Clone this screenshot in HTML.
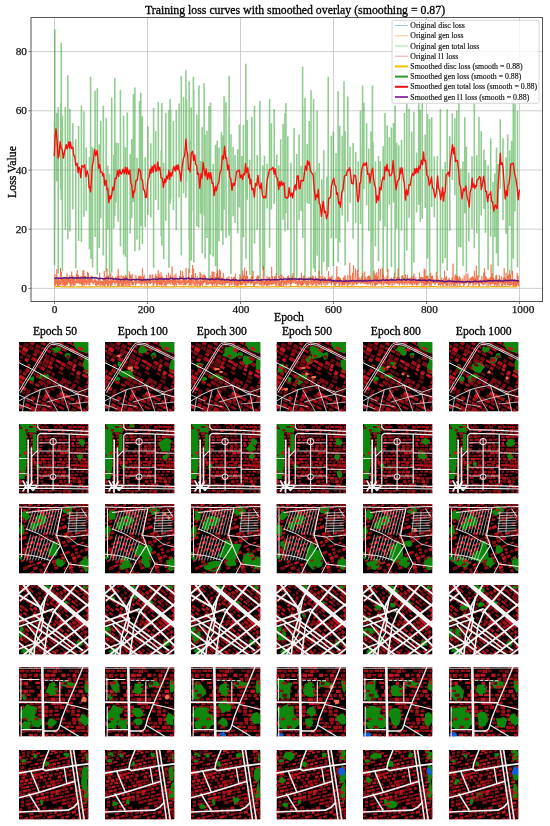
<!DOCTYPE html>
<html><head><meta charset="utf-8"><style>
html,body{margin:0;padding:0;background:#fff;}
body{width:550px;height:826px;position:relative;overflow:hidden;font-family:"Liberation Serif",serif;}
.h{position:absolute;top:324.5px;font-size:11.6px;line-height:14px;color:#000;-webkit-text-stroke:0.3px #000;white-space:nowrap;transform:translateX(-50%);}
</style></head><body>
<svg width="550" height="340" viewBox="0 0 550 340" style="position:absolute;left:0;top:0">
<path d="M54.5 17.5V301.5M147.5 17.5V301.5M240.5 17.5V301.5M333.5 17.5V301.5M426.5 17.5V301.5M519.5 17.5V301.5M31 288.4H542.5M31 229.2H542.5M31 170H542.5M31 110.8H542.5M31 51.6H542.5" stroke="#c2c2c2" stroke-width="0.8" fill="none"/>
<path d="M54.5 121.6V265.2M56.6 112.8V181.5M58.2 107V273.6M60.8 103.2V189.2M62.4 115.8V271.3M65.3 106.9V230M67.7 115.3V176M69.9 108.7V231.6M72.8 123.2V209.5M75.8 139.3V268.4M78.6 126.1V240.9M81.4 105.4V242M83.9 111.3V216.7M86.2 147.4V211.1M89.4 156.9V249.2M90.9 146.1V259.1M92.6 147.3V267.6M95.1 90.7V237.1M97.3 88.2V274.8M99.2 144.2V247.9M100.7 121.1V218.4M103.3 105.7V255.6M106.2 117.9V271.7M107.8 165.4V229.5M109.6 173.7V276.8M111.7 97.4V272.8M113.8 154.8V228.6M116.1 142.6V202.4M118.1 143.1V221.7M120.5 125.6V246.3M123.6 115.4V254.5M125.4 147.3V256.7M127.3 112.5V281M130.2 154.2V233.4M131.7 139.1V218.3M134.9 87.4V251.2M137 157.8V239.8M139.5 101V250.3M142.4 116.2V243.9M145.2 157.3V227M148 126.5V214.9M150.8 143.3V217.4M153.6 107.7V267.7M155.7 130.9V199.9M158.3 102.2V210M161.2 150.6V236.4M163.7 162.8V259M165.8 112.8V220.8M168.9 110.3V267.8M170.7 109.2V199.6M173.4 120.9V209.9M176.3 110V230.1M179.1 103.4V197.4M181.3 122.6V237.6M183.6 97V193.2M186.6 98.9V181.7M189.5 140.6V273.1M191.2 107.4V260.4M193.8 89.8V262.4M196.9 114.5V226.4M198.7 118.9V227.7M200.7 161.1V213.7M202.2 127.1V253.3M205.1 134.5V258.8M207 130.7V238.1M209 106V281M210.6 102.4V254.5M213.2 163.8V256.5M215.5 144.7V266.2M217.2 140.4V278.2M219 147.6V241.2M221.4 132V230.8M222.9 135.2V245.1M226 102.2V238M228.9 117.1V231.6M231 134.3V274.1M233.1 146.9V216.3M235 155.1V223M237.7 149.3V233.2M239.4 124.6V207.5M241.9 156V281M243.4 125.1V237.3M245.7 118.3V191.1M247.3 119.9V199.8M249.7 159.8V275.1M251.9 116.7V281M254.5 105.8V243.5M257.2 155.1V230.1M260.1 142.9V281M262.8 165.6V269.9M264.5 155.7V277.6M267.1 163.7V208.5M269.5 112V213.1M271.4 123.3V209.5M274.2 109V203.8M276.8 154.8V275.6M278.8 165.6V277.9M280.7 139.2V276.6M283.1 123.8V219.7M284.9 113.3V231.6M287.8 136.3V229.9M290.9 162.7V281M294.1 127.9V281M296.8 154.1V279.4M299.1 134.4V219.9M301.1 165.8V211M302.8 106.8V238.1M305 98.1V281M307.2 143.9V202.9M309.2 120.9V204.1M311 90.2V281M313.6 99.1V268.5M315.2 171.4V272.3M317.1 110.4V255.7M319.2 162.9V281M321.8 179.2V275.2M323.7 150.3V262M326.9 176.7V270.4M328.5 184.7V266.9M331.3 135.8V238.3M333.4 131.4V266.1M336 153.1V238.6M338.1 91.2V262.3M339.7 126V242.6M342.2 135.7V215.5M345.1 130.9V265.6M347.8 96.5V222M350.1 146.6V202.9M353.1 143.1V238.4M355.7 152.1V222.7M358.2 161.6V271.5M360.5 110.6V224M362.4 147V281M363.9 102.6V188.9M366.6 123.2V205.6M368.8 148.5V230.9M371.1 131.2V281M373 142.3V279M375.4 161.4V246.3M378.5 156.1V260.9M380.2 160.9V220.8M383.2 146.3V281M385 112.9V226.8M387.2 125.5V272.1M389.3 137.1V204.7M391.4 127.4V266.9M393.5 123.1V202.6M395.1 105.5V278.6M396.7 142.7V228.8M398.8 145.6V281M401.5 139.7V230.6M404.5 113.1V281M406.8 103.5V250.6M409.1 108.9V217.9M411.8 131.6V280M413.9 111.7V262.5M416.6 152.4V212.5M418.7 87.4V205M420.3 109.7V221.9M422.2 96V218.8M425.2 134.5V207.9M427.6 114.1V258.5M429.6 118.9V281M431.7 117V207M434.3 156.5V217.2M437.3 156.1V274.5M440.4 109V281M442.7 169.5V263.6M445.2 162V258.1M447.2 109.2V270.8M449.8 136.3V230.9M452.3 113.2V180.1M454.9 118.2V195.3M456.8 110.6V281M458.9 88.5V246.9M460.8 168.6V247.2M463 161.4V266.1M464.8 117.3V213.2M466.4 146.8V272M468.8 172.5V241.3M472 156.2V228.9M474.3 103.4V248.3M476.8 155V233.3M479 117.1V277.5M481.2 130.9V215.5M483.9 149.8V209M485.5 160V233M488.1 165.5V270.1M490.7 138.3V236.5M493 181.7V281M494.8 173.6V237.1M496.5 147.6V253.5M498.1 164.1V266.1M500.3 119.3V188.8M503 138.2V220M506.1 157.3V233.9M507.7 134.6V281M509.7 150.4V226.1M511.6 141V274.7M513.3 94.4V258.6M515 104.2V211.6M517.5 111V267.6M54.8 29.4V229.6M61.3 42.7V199.8M67.8 75.3V239.2M90.6 76.8V185.5M114.8 78.2V216.1M120.4 90.1V232.1M133.4 93.9V202.2M140.8 93V226.1M161.8 103.1V245.7M170.1 99V203.8M181.3 75.9V255.2M185.9 70.2V198.1M189.2 81.2V240M193.4 76.8V211.5M199 85.6V186M204.1 83.3V215.4M224.1 96.3V209.7M229.2 75.9V235.7M245.9 63.7V258.7M259.9 100.7V256.3M269.6 99V247.7M285.9 103.1V213.2M302.6 66.4V226.8M328.2 76.8V220.9M344 81.2V192.5M362.6 85.6V249M372.4 85.6V242" fill="none" stroke="#2ca02c" stroke-opacity="0.52" stroke-width="1.6"/>
<polyline points="54.3,156.3 55,138.8 56,128.8 57.1,141 58.1,158 59,156 60.1,141.7 61.1,147.8 62.2,149.5 63.4,158.1 64.6,151.1 65.3,148.9 66.2,144.7 66.9,148.8 67.7,147 68.8,141.8 69.6,148.2 70.3,141.9 71.5,148.6 72.8,147.1 73.8,155.3 74.6,156.2 75.9,165.4 77.1,163.3 78.1,172.6 78.9,167.1 79.8,168.4 80.7,177.6 82,165.3 83.4,167.2 84.7,164.7 85.9,176.7 87.1,170.6 88.2,174.8 89.1,187.7 89.8,187 90.5,191.9 91.5,180.7 92.2,166.6 93.4,160.4 94.5,149.4 95.8,155.5 97.1,150.5 97.9,158.2 98.6,168.3 99.7,164.6 100.6,172.1 101.9,172 102.9,176.1 103.8,173.6 104.7,185.5 106,180.1 107,189.9 107.9,188.8 108.8,202.6 110,195.6 110.9,198.7 111.6,195.3 112.8,187.1 113.8,190.3 115.1,178.4 116.3,178.7 117.5,170.6 118.7,176.3 119.6,169.7 120.9,173.5 121.7,174 123,169.1 124.3,173.5 125.4,167.3 126.5,174.1 127.3,167.6 128.6,174.2 129.8,170.1 130.8,183.1 131.7,184.8 132.9,197.8 133.8,190.9 134.6,192 136,180.3 137.4,180 138.8,168.8 139.8,170.5 140.6,171.5 141.3,179.3 142.5,180.1 143.5,189.8 144.5,190.4 145.5,197.5 146.5,197.3 147.8,180 149.1,177.2 150.1,169 150.9,173.3 152.1,166.4 153.1,172.3 154.1,165.1 154.9,164.8 155.9,171 156.6,171 157.8,161.9 158.6,170.1 159.8,167.4 161.1,178 162.4,178.1 163.4,187.3 164.8,179 165.7,182.5 166.7,175.9 167.6,178.9 168.9,170.3 169.7,179.2 170.6,172.7 171.8,176.2 172.9,169.8 173.9,166.4 175.1,171 176.2,165.5 177.2,169.9 178.1,164.6 179,170.5 179.9,172.3 180.9,181.2 182.1,167.1 183.4,158.5 184.7,155.3 186,139.1 186.7,150.3 187.6,154 188.4,169.3 189.2,168.6 190,171.9 191.3,152.9 192.5,151.3 193.7,160.3 194.7,154.9 195.6,164.1 196.7,165.8 197.5,174.4 198.5,173.2 199.8,188.3 201,173.8 202,178 203.1,162.3 204.3,171.2 205.2,175.9 206.2,169 207.4,179.5 208.7,172.6 209.8,178.6 210.8,172.7 212.1,183.3 213.1,183 214.1,195.6 215.4,186.4 216.3,190.8 217.5,185 218.9,182 219.8,173.3 221.1,170.2 222.4,155.7 223.5,159 224.6,146.4 225.8,158.4 226.6,157.8 227.8,169.9 228.8,165.1 229.8,177.4 230.8,178.9 232,190.4 233.1,183.1 234.4,185.5 235.4,181.2 236.5,171.7 237.5,170.8 238.7,171 239.4,170 240.2,178 241.5,175 242.7,179.3 243.5,173.7 244.7,174.8 245.5,163.6 246.5,172.6 247.9,167.8 248.6,177.9 249.3,174.5 250.1,183.9 250.9,179.3 251.9,189.6 253.2,188.5 254.3,197.2 255.5,183.5 256.6,185.5 258,175.4 259,185.4 260.2,188.7 261.2,182.9 262.4,195.3 263.7,198 264.6,196.4 265.8,197.9 267.1,180 268.2,175.5 269.5,169.3 270.4,169.8 271.7,168.8 273,167.3 274.2,174.1 275.1,168.7 276.1,176.8 277.4,178.4 278.7,189.5 279.7,181.8 280.6,186.2 281.5,181.1 282.6,185.1 284,182.8 285.1,197.4 286.2,197.2 286.9,198.3 288.2,197.1 289.1,187.5 290.5,196.3 291.9,193 292.7,197.9 293.4,193.1 294.5,186.5 295.2,184.9 296,190.1 297.1,176.2 298.3,175.8 299.1,188.4 299.9,188.8 300.9,180.6 302.2,180.5 303.4,180.9 304.1,175.8 305.4,165.9 306.6,170.1 307.5,160.7 308.5,164.9 309.3,162 310.5,170.9 311.9,173 313.2,175.3 314.2,188.3 315.5,199.8 316.4,194.8 317.6,197.1 318.3,189.5 319.1,203.3 320.1,204.5 321.4,216.4 322.4,207.9 323.2,201.3 324.5,212.7 325.6,211.2 326.4,218.8 327.8,214.1 328.7,198.4 329.9,198 330.6,196.3 331.4,186.4 332.5,181.8 333.8,178.1 334.6,184.3 335.8,186.3 336.6,194.4 337.5,192.8 338.7,203.7 339.5,201.6 340.5,207.2 341.8,192.3 343.1,188.7 344.4,176.5 345.3,175.3 346.3,175.3 347.4,170.1 348.4,170.7 349.6,167.8 350.5,172.7 351.7,183.4 353.1,183.9 354.2,174.9 355.6,176.1 356.3,181.6 357,193.2 357.9,201.9 359,197.1 359.8,182.9 360.5,183 361.5,171.5 362.5,166.7 363.8,163.3 365,165.4 366.4,162.3 367.7,174.4 369.1,173.8 369.9,183 371.3,172.2 372.6,168.2 373.6,179.2 374.5,184.5 375.5,187.4 376.5,202.7 377.3,195.8 378.6,200.4 379.9,187.5 381.1,189.7 382,180.7 383.1,177.2 384.1,179.7 385,166.7 386.2,170.8 387,164.3 387.8,170.7 388.8,169.8 389.6,175.9 390.9,175.3 392.1,172.7 393.1,160.5 394.1,172.6 395,178.5 396.1,189.7 397.4,181.5 398.4,180.3 399.3,178.7 400.1,168 400.8,173.7 402,167.8 403.4,178.7 404.3,183.3 405.5,200 406.5,189.6 407.8,195 409,184.8 410.3,185.2 411.4,177.3 412.5,173.4 413.8,175.4 414.8,168.5 415.7,173.3 416.7,168.3 418,172.7 418.8,166.1 419.9,169 421.3,160.3 422.5,164.7 423.5,152 424.3,160.8 425.6,160.3 427,175.2 428.2,176.8 429.3,185.3 430.5,182.6 431.5,177 432.6,188.1 433.6,189.4 435,197.7 436.3,192.1 437.7,175.9 438.4,187.6 439.7,191 440.7,199.7 441.8,193.5 442.6,187.3 443.5,201.1 444.3,193.2 445.2,191.8 446.1,175.2 447.3,173.9 448.3,172.2 449.4,176.6 450.4,160.8 451.6,151.4 452.5,144.6 453.6,153.9 454.3,147.5 455.5,161.6 456.4,160.3 457.5,160.9 458.5,169 459.6,183.9 460.7,187.4 462,198.9 463.4,188.8 464.5,190.8 465.9,185.9 467.1,197.1 468.4,201.1 469.3,207 470.1,192.5 471.2,188.8 472.1,177.9 472.9,187.4 473.8,184 474.7,188.7 475.6,185.7 476.4,186.4 477.2,179.3 478.4,179.2 479.6,176.6 480.5,177.6 481.3,189.7 482.5,184.5 483.6,176.2 484.8,183.7 485.6,191.5 486.4,191.2 487.6,201.7 488.6,194.9 489.9,194.4 490.6,191.6 491.7,201.6 492.6,202.1 493.8,211.1 495.2,204.9 496.5,207.2 497.2,208.8 498.1,186 499.3,169.6 500.3,153.2 501,164.5 502.2,162.8 503.1,168.3 504,181.6 505.2,199 506.3,190.5 507.3,195.9 508,185.4 508.9,184 510,175.3 510.8,164 512.1,163.8 513.3,163 514.6,173.8 515.9,178.9 517.1,186.8 518.3,199.7 519.5,189.5" fill="none" stroke="#ff0a0a" stroke-width="1.35" stroke-linejoin="round"/>
<polyline points="54.5,286.1 55,274.1 55.4,285.5 55.9,278.3 56.4,284 56.8,269.1 57.3,286.4 57.8,279.6 58.2,285.8 58.7,277.7 59.1,285.6 59.6,280.3 60.1,284.8 60.5,268.1 61,285.4 61.5,271.7 61.9,283.2 62.4,278.3 62.9,285.9 63.3,277.5 63.8,284.7 64.3,276.9 64.7,286.1 65.2,278.1 65.7,285.8 66.1,278.8 66.6,284.8 67.1,273.3 67.5,284.7 68,278.8 68.5,282.5 68.9,276.7 69.4,283.7 69.8,275.5 70.3,286.2 70.8,278.7 71.2,285.8 71.7,271.6 72.2,284 72.6,275.8 73.1,285.6 73.6,276.6 74,286.5 74.5,276.8 75,285.4 75.4,280.7 75.9,283.1 76.4,273.7 76.8,283.5 77.3,270 77.8,283.2 78.2,274.9 78.7,283.2 79.1,278.7 79.6,284.3 80.1,277.8 80.5,283.7 81,276 81.5,284.6 81.9,276.5 82.4,286.3 82.9,270.7 83.3,284.8 83.8,270 84.3,285.8 84.7,275.8 85.2,283.1 85.7,276.3 86.1,284.9 86.6,280 87.1,284.5 87.5,271.8 88,283.2 88.4,273 88.9,285.4 89.4,279 89.8,285.2 90.3,278 90.8,282.6 91.2,276 91.7,282.6 92.2,275.6 92.6,283.3 93.1,281.5 93.6,284.1 94,280 94.5,282.7 95,278.8 95.4,285.4 95.9,279.7 96.3,286.5 96.8,280.7 97.3,284.8 97.7,281.3 98.2,285.1 98.7,278.1 99.1,284.4 99.6,272.9 100.1,286.2 100.5,280.7 101,284.4 101.5,281.2 101.9,285.6 102.4,281.3 102.9,285.6 103.3,278.7 103.8,285.7 104.3,271.1 104.7,286.3 105.2,278.6 105.7,284.8 106.1,276.3 106.6,283.7 107,268.5 107.5,286.2 108,276 108.4,285.9 108.9,275.6 109.4,283.4 109.8,281 110.3,286.4 110.8,273.2 111.2,285.7 111.7,279.9 112.2,284.9 112.6,276.1 113.1,283 113.6,278.2 114,283 114.5,280.8 115,285.2 115.4,276.9 115.9,283.2 116.3,280.4 116.8,283.6 117.3,275.7 117.7,286.4 118.2,268.8 118.7,286.2 119.1,275.9 119.6,285.6 120.1,280.6 120.5,283.2 121,275.2 121.5,286.5 121.9,281.2 122.4,285.9 122.9,276.3 123.3,286 123.8,276.2 124.2,283.8 124.7,276.6 125.2,286.6 125.6,274.8 126.1,284.5 126.6,276.2 127,286.5 127.5,280.7 128,283.8 128.4,279.3 128.9,286 129.4,271.3 129.8,286.3 130.3,274.5 130.8,282.9 131.2,275.6 131.7,284.7 132.2,273.7 132.6,285.2 133.1,281.8 133.6,285.2 134,281.8 134.5,282.5 134.9,279.6 135.4,285.5 135.9,274.9 136.3,284.3 136.8,278.4 137.3,282.5 137.7,281.7 138.2,283.4 138.7,276.2 139.1,284 139.6,275.9 140.1,283 140.5,275.8 141,285.4 141.5,276.9 141.9,284.5 142.4,268.4 142.9,284.3 143.3,276.8 143.8,282.5 144.2,274.7 144.7,285.6 145.2,279.9 145.6,283 146.1,278.9 146.6,284.3 147,279.4 147.5,286.3 148,278.9 148.4,282.7 148.9,279.7 149.4,284.2 149.8,274.7 150.3,284.2 150.8,274.6 151.2,283 151.7,281.4 152.2,282.9 152.6,274.5 153.1,286.5 153.5,279.8 154,285 154.5,280.6 154.9,283 155.4,274.1 155.9,283.6 156.3,275.6 156.8,286.3 157.3,276.6 157.7,285.2 158.2,270.4 158.7,284 159.1,273.4 159.6,285.3 160.1,277 160.5,284.9 161,272.3 161.4,286.4 161.9,275.9 162.4,284.6 162.8,277.1 163.3,282.8 163.8,278.2 164.2,286.4 164.7,277.9 165.2,285.3 165.6,281.1 166.1,286 166.6,274.7 167,284.4 167.5,278.1 168,283.9 168.4,272.8 168.9,283.6 169.4,280.2 169.8,283.5 170.3,274.8 170.8,284.7 171.2,280.1 171.7,282.7 172.1,266.5 172.6,284.7 173.1,277.6 173.5,285.1 174,275.3 174.5,286.5 174.9,278.7 175.4,284.5 175.9,273.5 176.3,286 176.8,280.7 177.3,282.8 177.7,279 178.2,283.4 178.7,280.3 179.1,284.6 179.6,275.9 180.1,285.3 180.5,270.4 181,283.6 181.4,281.5 181.9,285 182.4,271.2 182.8,282.8 183.3,275.7 183.8,285.7 184.2,278.1 184.7,284.8 185.2,279.9 185.6,285.4 186.1,267.8 186.6,284.3 187,280.9 187.5,283 188,280.1 188.4,283.2 188.9,268.9 189.3,286 189.8,277.4 190.3,284.7 190.7,278.1 191.2,285.8 191.7,275.1 192.1,283.4 192.6,264.9 193.1,285.4 193.5,268.7 194,282.6 194.5,281.8 194.9,286 195.4,273.1 195.9,286.3 196.3,279.7 196.8,283.7 197.3,276.1 197.7,286.5 198.2,280.4 198.7,283.8 199.1,281.6 199.6,285.7 200,272 200.5,286.5 201,273.5 201.4,284.6 201.9,281 202.4,285.9 202.8,275.6 203.3,283.6 203.8,274.8 204.2,282.8 204.7,274.6 205.2,282.6 205.6,276.1 206.1,285.5 206.6,279.3 207,284.5 207.5,279.2 208,285.1 208.4,281.8 208.9,283.9 209.3,278.3 209.8,283.8 210.3,275.5 210.7,283.6 211.2,278.6 211.7,284.9 212.1,271.4 212.6,286 213.1,271.8 213.5,284.1 214,271.9 214.5,285.6 214.9,277.3 215.4,283.1 215.9,276.8 216.3,286.4 216.8,273.3 217.2,285.3 217.7,270.2 218.2,283.5 218.6,276.3 219.1,284.2 219.6,269.4 220,285.1 220.5,270.9 221,284.4 221.4,277.9 221.9,285.3 222.4,277.8 222.8,285.7 223.3,272.8 223.8,283.6 224.2,278.5 224.7,285.7 225.2,281 225.6,284.4 226.1,278.5 226.6,283.3 227,277.1 227.5,283.2 227.9,278.9 228.4,283.2 228.9,276.1 229.3,286.4 229.8,279.4 230.3,283.2 230.7,281.1 231.2,285.1 231.7,276.7 232.1,284.7 232.6,278.8 233.1,282.5 233.5,277.4 234,284.6 234.5,276.7 234.9,286 235.4,273.6 235.9,285.1 236.3,279.2 236.8,286.6 237.2,280.6 237.7,286.4 238.2,280.7 238.6,285.5 239.1,278.6 239.6,284 240,274.3 240.5,284.9 241,276.7 241.4,285.1 241.9,281.6 242.4,285.1 242.8,270.8 243.3,283.3 243.8,275.4 244.2,284.2 244.7,267.6 245.2,285.1 245.6,276.1 246.1,286.3 246.5,270.8 247,282.9 247.5,276 247.9,284.2 248.4,278.9 248.9,283.1 249.3,279.2 249.8,282.9 250.3,279 250.7,284.5 251.2,276.5 251.7,283.6 252.1,276.4 252.6,283.4 253.1,270.8 253.5,285.7 254,281.4 254.5,286.2 254.9,281.3 255.4,284.3 255.8,281.5 256.3,283.7 256.8,276.7 257.2,284.2 257.7,275.4 258.2,283 258.6,275.8 259.1,284.5 259.6,281.8 260,285.5 260.5,279.8 261,284.3 261.4,278.6 261.9,286.4 262.4,279.9 262.8,283.3 263.3,265.8 263.8,285.8 264.2,281.5 264.7,285.1 265.1,278.9 265.6,284.2 266.1,279.5 266.5,285.8 267,275.9 267.5,286.4 267.9,279.8 268.4,284.9 268.9,276.8 269.3,285.4 269.8,277.3 270.3,284.2 270.7,278.9 271.2,284.8 271.7,266.8 272.1,284.8 272.6,276.4 273.1,284.2 273.5,280.7 274,284.3 274.4,276.7 274.9,283.8 275.4,275.9 275.8,285.7 276.3,273.3 276.8,286.2 277.2,281.3 277.7,282.7 278.2,279.2 278.6,285.6 279.1,276 279.6,286 280,281.5 280.5,286.5 281,274.7 281.4,285.7 281.9,275.2 282.4,282.8 282.8,279.8 283.3,286 283.7,276.7 284.2,285 284.7,280.5 285.1,284 285.6,280.4 286.1,286.2 286.5,278.9 287,284.8 287.5,276.2 287.9,282.8 288.4,275.4 288.9,284.4 289.3,277.6 289.8,283.5 290.3,278.7 290.7,286.2 291.2,278.7 291.6,284.1 292.1,275.7 292.6,282.9 293,273.1 293.5,282.8 294,281.7 294.4,282.6 294.9,279.6 295.4,283.9 295.8,277.7 296.3,283.5 296.8,280.7 297.2,285.4 297.7,281.4 298.2,286.2 298.6,278.3 299.1,284.2 299.6,277.6 300,284.5 300.5,281.3 301,286.1 301.4,272.6 301.9,285.9 302.3,280.8 302.8,285.2 303.3,276.4 303.7,284.6 304.2,275.3 304.7,283 305.1,281.1 305.6,284.4 306.1,281.1 306.5,285.9 307,278.4 307.5,285.1 307.9,280.6 308.4,285.8 308.9,276.7 309.3,282.9 309.8,281.8 310.2,284.6 310.7,276.7 311.2,283.8 311.6,280.4 312.1,286 312.6,275.6 313,285 313.5,276.8 314,284.2 314.4,280.4 314.9,283.4 315.4,275.8 315.8,285.6 316.3,278 316.8,286.5 317.2,277.9 317.7,283.2 318.2,279.7 318.6,284.7 319.1,270.8 319.6,284.9 320,279.3 320.5,283.6 320.9,275.8 321.4,285.8 321.9,278 322.3,282.6 322.8,275.4 323.3,284.6 323.7,278.6 324.2,282.9 324.7,277 325.1,285.8 325.6,277.8 326.1,283.4 326.5,281.3 327,285.2 327.5,280.8 327.9,283.8 328.4,271.1 328.9,282.9 329.3,277 329.8,283.3 330.2,278 330.7,283.2 331.2,276.8 331.6,285.4 332.1,275.6 332.6,282.7 333,281.1 333.5,283.4 334,280.2 334.4,285.7 334.9,280.6 335.4,285.6 335.8,278.7 336.3,283.8 336.8,266.2 337.2,283.4 337.7,276.7 338.2,282.7 338.6,276.5 339.1,286.3 339.5,277.6 340,285.2 340.5,278 340.9,283.3 341.4,281.9 341.9,286.6 342.3,281.2 342.8,284.9 343.3,277.9 343.7,285.2 344.2,276.4 344.7,285.4 345.1,275.2 345.6,283.7 346.1,279 346.5,283.3 347,281.1 347.4,286.5 347.9,274.7 348.4,285.1 348.8,280.4 349.3,284.1 349.8,262.8 350.2,284.6 350.7,275.7 351.2,282.5 351.6,280.7 352.1,286 352.6,272.7 353,284.7 353.5,265.2 354,285.2 354.4,281.2 354.9,283.1 355.4,268.4 355.8,283.9 356.3,281.4 356.8,284.8 357.2,270.8 357.7,283.9 358.1,269.8 358.6,282.9 359.1,277.5 359.5,282.6 360,281.5 360.5,283.8 360.9,278.3 361.4,283.5 361.9,276.1 362.3,283.5 362.8,273.1 363.3,282.9 363.7,280.9 364.2,284.2 364.7,271.6 365.1,283.5 365.6,277.4 366.1,284.4 366.5,279.1 367,283.9 367.4,276.6 367.9,285 368.4,275.6 368.8,283.8 369.3,275.7 369.8,284.2 370.2,276.5 370.7,285.2 371.2,281 371.6,283 372.1,280.8 372.6,285.9 373,278.3 373.5,282.6 374,270.6 374.4,285.3 374.9,273.3 375.4,286.2 375.8,275 376.3,285 376.7,272.3 377.2,284.8 377.7,276.4 378.1,283.4 378.6,268.7 379.1,283.5 379.5,278.8 380,283.8 380.5,269.2 380.9,284.4 381.4,280 381.9,285.5 382.3,267.8 382.8,283.2 383.3,274.3 383.7,285.6 384.2,281.4 384.7,283.5 385.1,277.5 385.6,283.3 386,279.6 386.5,284 387,275.6 387.4,283.8 387.9,268.7 388.4,285.2 388.8,279.3 389.3,285.2 389.8,280.7 390.2,284.4 390.7,278.5 391.2,282.9 391.6,277.8 392.1,286.4 392.6,279.2 393,283.1 393.5,277.5 394,285 394.4,272.9 394.9,283.1 395.3,280.9 395.8,283.5 396.3,278.6 396.7,282.9 397.2,277 397.7,283.9 398.1,268.4 398.6,283.7 399.1,277.3 399.5,285.5 400,281.4 400.5,283.2 400.9,279.7 401.4,283.8 401.9,275.5 402.3,285.1 402.8,275 403.2,283.1 403.7,277.8 404.2,285.5 404.6,281.5 405.1,284.3 405.6,274.5 406,283.2 406.5,277.8 407,285.3 407.4,274.7 407.9,283.3 408.4,280.5 408.8,283.3 409.3,278.2 409.8,284.5 410.2,277.9 410.7,284 411.2,277.2 411.6,285 412.1,278.6 412.6,285.7 413,276.2 413.5,283.3 413.9,273.6 414.4,284.6 414.9,281 415.3,283.8 415.8,277.3 416.3,285.2 416.7,280.7 417.2,285.5 417.7,280.6 418.1,284.5 418.6,278.9 419.1,283.7 419.5,272.9 420,282.6 420.5,277 420.9,282.8 421.4,277.2 421.9,286.4 422.3,277.5 422.8,283 423.2,277.2 423.7,285.5 424.2,268.5 424.6,285.4 425.1,269.5 425.6,285.2 426,276 426.5,284.7 427,276 427.4,284.7 427.9,275.4 428.4,283.3 428.8,278.8 429.3,286.1 429.8,281.2 430.2,284.5 430.7,272.9 431.2,286.5 431.6,276 432.1,282.7 432.5,275.5 433,283.6 433.5,279.4 433.9,283.1 434.4,279.4 434.9,285.1 435.3,281.8 435.8,283.4 436.3,272 436.7,282.9 437.2,275.1 437.7,283 438.1,278.7 438.6,285.8 439.1,280.3 439.5,285 440,281.2 440.5,286.1 440.9,280.6 441.4,284.2 441.8,277.7 442.3,284.8 442.8,281.4 443.2,286.4 443.7,278.8 444.2,283.8 444.6,270.6 445.1,283.9 445.6,277.4 446,286 446.5,276 447,286.4 447.4,280.3 447.9,285.7 448.4,279.3 448.8,283.2 449.3,277.8 449.8,286.5 450.2,281.3 450.7,283.3 451.1,280.9 451.6,285.7 452.1,277.5 452.5,284 453,263.6 453.5,286 453.9,281.8 454.4,286.2 454.9,275.6 455.3,285.8 455.8,274.1 456.3,283.4 456.7,276.1 457.2,286.6 457.7,276.3 458.1,283.2 458.6,278.6 459.1,284.2 459.5,276.5 460,286.4 460.4,277.8 460.9,283.5 461.4,281.7 461.8,283.3 462.3,278.5 462.8,283.9 463.2,280.5 463.7,286.2 464.2,275.5 464.6,285.2 465.1,281.3 465.6,283.1 466,273.3 466.5,283.5 467,280.9 467.4,282.6 467.9,273.5 468.4,286.3 468.8,281.1 469.3,284.1 469.7,278.5 470.2,284.9 470.7,277.9 471.1,282.8 471.6,277.1 472.1,282.8 472.5,276.4 473,286.5 473.5,277.5 473.9,284.8 474.4,270.8 474.9,283.7 475.3,278.2 475.8,285.2 476.3,265.7 476.7,283.9 477.2,275.8 477.7,283.2 478.1,275.4 478.6,285.5 479,280.3 479.5,286.5 480,280.4 480.4,282.8 480.9,279.7 481.4,283.4 481.8,276.1 482.3,284.4 482.8,281.2 483.2,285.3 483.7,272.5 484.2,284.4 484.6,268 485.1,284.4 485.6,275.8 486,282.8 486.5,277.4 487,286.3 487.4,279 487.9,282.9 488.3,278.4 488.8,285.9 489.3,279 489.7,283.8 490.2,277 490.7,285.6 491.1,264.5 491.6,283.8 492.1,273.1 492.5,284.2 493,277.6 493.5,283.7 493.9,278.2 494.4,286.3 494.9,280.2 495.3,284.6 495.8,275.6 496.2,285.5 496.7,274.8 497.2,286.2 497.6,279.9 498.1,283.8 498.6,279 499,286.2 499.5,275.2 500,283.2 500.4,280.4 500.9,283.3 501.4,276.4 501.8,286.6 502.3,280.7 502.8,286 503.2,277.6 503.7,283.9 504.2,268.3 504.6,285 505.1,277.6 505.6,285.7 506,272.8 506.5,283.1 506.9,281 507.4,285.1 507.9,276.2 508.3,285.1 508.8,274.5 509.3,285.6 509.7,270.1 510.2,285.7 510.7,274.5 511.1,285 511.6,279.5 512.1,284.7 512.5,271 513,285.7 513.5,281.7 513.9,286.1 514.4,278.9 514.9,286.2 515.3,281.1 515.8,285.9 516.2,280.4 516.7,286.1 517.2,272.8 517.6,284.7 518.1,275.8 518.6,286.3 519,280.4" fill="none" stroke="#f04818" stroke-opacity="0.6" stroke-width="0.9"/>
<polyline points="54.5,286.7 56.4,286.6 58.2,286.6 60.1,286.6 61.9,287 63.8,286.6 65.7,286.8 67.5,286.9 69.4,286.9 71.2,286.6 73.1,286.9 75,287 76.8,286.9 78.7,286.6 80.5,286.8 82.4,286.7 84.3,287 86.1,286.8 88,286.9 89.8,286.9 91.7,286.7 93.6,286.8 95.4,287 97.3,286.5 99.1,286.8 101,286.9 102.9,287 104.7,286.7 106.6,286.8 108.4,287 110.3,286.8 112.2,286.7 114,286.8 115.9,286.9 117.7,286.8 119.6,286.7 121.5,286.7 123.3,286.9 125.2,286.6 127,286.6 128.9,286.7 130.8,286.6 132.6,286.8 134.5,286.6 136.3,286.9 138.2,286.9 140.1,286.7 141.9,286.6 143.8,287 145.6,286.9 147.5,287 149.4,286.8 151.2,286.9 153.1,286.9 154.9,286.7 156.8,286.7 158.7,286.6 160.5,286.8 162.4,286.7 164.2,287 166.1,286.6 168,286.9 169.8,286.8 171.7,286.8 173.5,286.6 175.4,286.8 177.3,286.5 179.1,286.7 181,286.9 182.8,286.6 184.7,286.9 186.6,286.5 188.4,286.8 190.3,286.9 192.1,286.6 194,286.9 195.9,286.8 197.7,286.8 199.6,286.7 201.4,287 203.3,286.8 205.2,286.9 207,286.6 208.9,287 210.7,286.7 212.6,286.9 214.5,286.8 216.3,286.7 218.2,286.7 220,286.9 221.9,286.9 223.8,287 225.6,286.6 227.5,286.9 229.3,286.9 231.2,286.8 233.1,286.7 234.9,286.6 236.8,287 238.6,286.9 240.5,286.9 242.4,286.7 244.2,286.8 246.1,286.8 247.9,286.6 249.8,286.7 251.7,286.6 253.5,286.6 255.4,286.9 257.2,286.6 259.1,286.8 261,287 262.8,286.6 264.7,287 266.5,287 268.4,286.9 270.3,286.9 272.1,286.6 274,286.6 275.8,286.8 277.7,286.8 279.6,286.6 281.4,286.6 283.3,286.7 285.1,286.8 287,287 288.9,286.9 290.7,286.7 292.6,286.7 294.4,286.6 296.3,286.6 298.2,286.6 300,286.9 301.9,287 303.7,286.6 305.6,286.7 307.5,286.9 309.3,286.7 311.2,286.9 313,286.9 314.9,286.8 316.8,286.8 318.6,286.7 320.5,287 322.3,286.7 324.2,286.7 326.1,286.8 327.9,286.7 329.8,286.6 331.6,287 333.5,286.8 335.4,286.7 337.2,286.7 339.1,286.7 340.9,286.9 342.8,286.6 344.7,286.6 346.5,286.9 348.4,286.8 350.2,286.6 352.1,286.9 354,286.8 355.8,286.6 357.7,286.6 359.5,286.9 361.4,286.7 363.3,286.8 365.1,286.7 367,286.6 368.8,286.9 370.7,286.9 372.6,286.9 374.4,286.9 376.3,287 378.1,286.9 380,286.8 381.9,286.8 383.7,287 385.6,286.7 387.4,286.6 389.3,286.7 391.2,286.8 393,286.7 394.9,286.8 396.7,286.9 398.6,286.8 400.5,287 402.3,286.7 404.2,286.9 406,286.8 407.9,286.6 409.8,286.6 411.6,286.6 413.5,286.7 415.3,286.7 417.2,286.7 419.1,286.6 420.9,286.9 422.8,286.6 424.6,286.9 426.5,286.9 428.4,286.6 430.2,286.7 432.1,286.6 433.9,286.6 435.8,286.7 437.7,286.9 439.5,287 441.4,286.8 443.2,286.7 445.1,286.9 447,287 448.8,287 450.7,286.9 452.5,286.7 454.4,287 456.3,286.9 458.1,286.9 460,286.7 461.8,286.5 463.7,287 465.6,287 467.4,286.6 469.3,286.5 471.1,286.9 473,286.8 474.9,286.8 476.7,286.9 478.6,286.8 480.4,286.8 482.3,286.9 484.2,287 486,287 487.9,286.9 489.7,287 491.6,286.7 493.5,286.7 495.3,286.9 497.2,286.6 499,286.7 500.9,286.8 502.8,286.8 504.6,286.9 506.5,286.6 508.3,286.7 510.2,287 512.1,286.9 513.9,286.7 515.8,286.8 517.6,286.7" fill="none" stroke="#f5a800" stroke-width="1.2"/>
<polyline points="54.5,278.6 55.9,278 57.3,278 58.7,278.5 60.1,278.1 61.5,278.4 62.9,277.9 64.3,277.7 65.7,277.7 67.1,278.2 68.5,278.2 69.8,277.7 71.2,277.8 72.6,278.1 74,278.1 75.4,277.7 76.8,278.1 78.2,277.6 79.6,278 81,278 82.4,277.8 83.8,277.8 85.2,277.6 86.6,278.2 88,277.7 89.4,278.1 90.8,278.1 92.2,277.8 93.6,277.8 95,278 96.3,277.8 97.7,278.4 99.1,278.4 100.5,278.2 101.9,278.6 103.3,278.7 104.7,278.7 106.1,278.3 107.5,278.3 108.9,278.5 110.3,278.4 111.7,278.6 113.1,279.1 114.5,279.1 115.9,278.8 117.3,279.5 118.7,279.1 120.1,279.6 121.5,279.7 122.9,279.3 124.2,279.7 125.6,279 127,279.1 128.4,279.5 129.8,279.8 131.2,279.9 132.6,279.6 134,279.6 135.4,279.7 136.8,279.4 138.2,279.6 139.6,279.4 141,279.9 142.4,280 143.8,279.7 145.2,279.6 146.6,279.7 148,279.3 149.4,279.7 150.8,279.6 152.2,279.4 153.5,279.1 154.9,279.1 156.3,279.4 157.7,279.2 159.1,278.8 160.5,278.7 161.9,278.9 163.3,279.3 164.7,279 166.1,278.8 167.5,279 168.9,279.2 170.3,278.3 171.7,278.3 173.1,279 174.5,278.7 175.9,278.5 177.3,278.7 178.7,278.9 180.1,278.3 181.4,278.2 182.8,278.5 184.2,278.8 185.6,278.5 187,278.8 188.4,278 189.8,278.9 191.2,278.7 192.6,278.2 194,278.8 195.4,278.9 196.8,278.9 198.2,278.9 199.6,278.6 201,278.4 202.4,279 203.8,279.1 205.2,278.6 206.6,279 208,279.1 209.3,279.4 210.7,279.3 212.1,278.7 213.5,279.6 214.9,279.5 216.3,279.1 217.7,279.1 219.1,279.1 220.5,279.6 221.9,279.2 223.3,279.6 224.7,279.9 226.1,279.8 227.5,279.7 228.9,279.7 230.3,280.3 231.7,280.3 233.1,279.7 234.5,280.5 235.9,279.9 237.2,280.3 238.6,280.4 240,280.5 241.4,280.3 242.8,279.8 244.2,280.6 245.6,280 247,280.4 248.4,280.6 249.8,280.1 251.2,280.4 252.6,280.5 254,280.3 255.4,279.9 256.8,279.8 258.2,280.1 259.6,280.5 261,279.8 262.4,279.9 263.8,279.6 265.1,279.5 266.5,280 267.9,279.5 269.3,279.5 270.7,279.9 272.1,279.8 273.5,279.7 274.9,279.7 276.3,279.6 277.7,279.8 279.1,279.7 280.5,279 281.9,279.4 283.3,279.2 284.7,278.9 286.1,279 287.5,279.4 288.9,278.8 290.3,278.9 291.6,278.7 293,278.9 294.4,278.9 295.8,278.9 297.2,279.4 298.6,279 300,279.3 301.4,278.9 302.8,279.5 304.2,279.2 305.6,279.4 307,279 308.4,279.5 309.8,279.1 311.2,279.1 312.6,279.2 314,279.9 315.4,279.2 316.8,279.5 318.2,279.6 319.6,279.7 320.9,280.3 322.3,279.6 323.7,280 325.1,280.1 326.5,280.3 327.9,280 329.3,280 330.7,280 332.1,280.7 333.5,280.6 334.9,280.8 336.3,280.9 337.7,280.8 339.1,281.1 340.5,280.5 341.9,281 343.3,281.2 344.7,281.2 346.1,280.7 347.4,281.2 348.8,281 350.2,281 351.6,280.7 353,280.6 354.4,281.1 355.8,280.9 357.2,280.6 358.6,281 360,280.6 361.4,280.7 362.8,281.1 364.2,280.5 365.6,280.8 367,281.1 368.4,280.7 369.8,280.4 371.2,280.7 372.6,280.6 374,280.6 375.4,280.2 376.7,280.3 378.1,280.7 379.5,280.5 380.9,280.4 382.3,279.9 383.7,280 385.1,280.5 386.5,279.8 387.9,280.5 389.3,280 390.7,280.1 392.1,279.8 393.5,280 394.9,280.3 396.3,279.9 397.7,279.6 399.1,279.6 400.5,280 401.9,280.1 403.2,279.6 404.6,279.6 406,280.1 407.4,279.5 408.8,279.4 410.2,279.9 411.6,280 413,279.8 414.4,279.6 415.8,280.3 417.2,280.2 418.6,280.3 420,280 421.4,280.5 422.8,280.2 424.2,280.3 425.6,280.2 427,280.8 428.4,280.1 429.8,280.1 431.2,280.6 432.5,280.5 433.9,281.1 435.3,280.5 436.7,280.9 438.1,280.8 439.5,280.7 440.9,281.3 442.3,280.8 443.7,281.5 445.1,281.7 446.5,281.4 447.9,281.1 449.3,281.1 450.7,281.1 452.1,281.5 453.5,281.2 454.9,281.5 456.3,281.9 457.7,281.5 459.1,281.4 460.4,281.7 461.8,281.6 463.2,281.9 464.6,281.9 466,281.7 467.4,281.6 468.8,281.6 470.2,282 471.6,282 473,281.7 474.4,281.3 475.8,281.2 477.2,281.7 478.6,281.6 480,281.3 481.4,281.6 482.8,281.1 484.2,280.8 485.6,281.4 487,281 488.3,280.8 489.7,280.8 491.1,280.7 492.5,280.7 493.9,281 495.3,280.5 496.7,280.4 498.1,281.1 499.5,280.3 500.9,280.7 502.3,281 503.7,281 505.1,280.3 506.5,280.4 507.9,280.8 509.3,280.6 510.7,280.4 512.1,280.1 513.5,280.7 514.9,280.3 516.2,280.8 517.6,280.8 519,280.9" fill="none" stroke="#5a1480" stroke-width="1.5"/>
<rect x="31" y="17.5" width="511.5" height="284" fill="none" stroke="#555" stroke-width="1"/>
<path d="M54.5 301.5v2.5M147.5 301.5v2.5M240.5 301.5v2.5M333.5 301.5v2.5M426.5 301.5v2.5M519.5 301.5v2.5M28.5 288.4H31M28.5 229.2H31M28.5 170H31M28.5 110.8H31M28.5 51.6H31" stroke="#555" stroke-width="0.8"/>
<g font-family="Liberation Serif, serif" font-size="11.3" fill="#111" stroke="#111" stroke-width="0.25"><text x="54.5" y="312.9" text-anchor="middle">0</text><text x="146.2" y="312.9" text-anchor="middle">200</text><text x="241" y="312.9" text-anchor="middle">400</text><text x="333.4" y="312.9" text-anchor="middle">600</text><text x="429.4" y="312.9" text-anchor="middle">800</text><text x="523" y="312.9" text-anchor="middle">1000</text><text x="27" y="292" text-anchor="end">0</text><text x="27" y="232.8" text-anchor="end">20</text><text x="27" y="173.6" text-anchor="end">40</text><text x="27" y="114.4" text-anchor="end">60</text><text x="27" y="55.2" text-anchor="end">80</text></g>
<text x="289" y="321" text-anchor="middle" font-family="Liberation Serif, serif" font-size="11.7" fill="#000" stroke="#000" stroke-width="0.3">Epoch</text>
<text transform="translate(16,172) rotate(-90)" text-anchor="middle" font-family="Liberation Serif, serif" font-size="11.8" fill="#000" stroke="#000" stroke-width="0.3">Loss Value</text>
<text x="295" y="13.5" text-anchor="middle" font-family="Liberation Serif, serif" font-size="11.8" fill="#000" stroke="#000" stroke-width="0.3">Training loss curves with smoothed overlay (smoothing = 0.87)</text>
<g font-family="Liberation Serif, serif" font-size="7.8" fill="#111" stroke="#111" stroke-width="0.15"><rect x="392" y="20.3" width="147" height="83" rx="1.5" fill="#fff" fill-opacity="0.82" stroke="#ccc" stroke-width="0.8"/><path d="M395 25.6H408" stroke="#9ec3e0" stroke-width="1"/><text x="410.3" y="28.2">Original disc loss</text><path d="M395 35.8H408" stroke="#fdc38d" stroke-width="1"/><text x="410.3" y="38.4">Original gen loss</text><path d="M395 46H408" stroke="#a3d9a3" stroke-width="1"/><text x="410.3" y="48.6">Original gen total loss</text><path d="M395 56.2H408" stroke="#f3a0a0" stroke-width="1"/><text x="410.3" y="58.8">Original l1 loss</text><path d="M395 66.4H408" stroke="#f2c200" stroke-width="2.0"/><text x="410.3" y="69">Smoothed disc loss (smooth = 0.88)</text><path d="M395 76.6H408" stroke="#2e9a2e" stroke-width="2.0"/><text x="410.3" y="79.2">Smoothed gen loss (smooth = 0.88)</text><path d="M395 86.8H408" stroke="#f01010" stroke-width="2.0"/><text x="410.3" y="89.4">Smoothed gen total loss (smooth = 0.88)</text><path d="M395 97H408" stroke="#9a3cb0" stroke-width="2.0"/><text x="410.3" y="99.6">Smoothed gen l1 loss (smooth = 0.88)</text></g>
</svg>
<div class="h" style="left:55px">Epoch 50</div><div class="h" style="left:142.8px">Epoch 100</div><div class="h" style="left:221.8px">Epoch 300</div><div class="h" style="left:307px">Epoch 500</div><div class="h" style="left:395.8px">Epoch 800</div><div class="h" style="left:483.7px">Epoch 1000</div>
<svg width="550" height="490" viewBox="0 336 550 490" style="position:absolute;left:0;top:336px">
<defs><filter id="bl" x="0" y="0" width="1" height="1"><feGaussianBlur stdDeviation="0.5"/></filter><clipPath id="tc"><rect width="69.5" height="69.5"/></clipPath>
<g id="b0"><g transform="translate(34.8 34.8) rotate(28)"><path fill="#a80e18" d="M17.2 -47.7h4.6v3.4h-4.6zM10.9 -43.3h5.4v3.6h-5.4zM-4.3 -38.9h4.9v2.5h-4.9zM1.7 -38.9h3.5v2.6h-3.5zM-11.1 -34.5h4.1v2.7h-4.1zM.9 -34.5h5.8v3.9h-5.8zM-23.6 -30.1h3.9v2.4h-3.9zM-5.6 -30.1h4.4v2.6h-4.4zM24.4 -30.1h3.6v4.2h-3.6zM-26.6 -25.7h4.2v2.8h-4.2zM-8.6 -25.7h5.6v2.6h-5.6zM-36.5 -21.3h3.8v3.6h-3.8zM-24.5 -21.3h5.7v2.6h-5.7zM-18.5 -21.3h4.5v2.3h-4.5zM5.5 -21.3h5.1v3.4h-5.1zM.3 -16.9h4.9v3.2h-4.9zM-46.8 -12.5h4.8v2.8h-4.8zM-28.8 -12.5h3.7v3.1h-3.7zM-10.8 -12.5h3.4v3.9h-3.4zM1.2 -12.5h3.7v3.1h-3.7zM31.2 -12.5h3.8v3.2h-3.8zM-46.1 -8.1h5.2v2.6h-5.2zM-28.1 -8.1h5.7v3.6h-5.7zM-15.7 -3.7h3.9v3.3h-3.9zM-10.6 .7h5.3v2.2h-5.3zM1.4 .7h3.6v3.7h-3.6zM37.4 .7h4.1v4h-4.1zM-28.1 5.1h3.9v3.7h-3.9zM-16.1 5.1h4.3v3.6h-4.3zM1.9 5.1h3.8v2.3h-3.8zM-29.1 9.5h3.7v3.2h-3.7zM24.9 9.5h4.2v3.1h-4.2zM30.9 9.5h5v3.4h-5zM-18.9 13.9h4v3h-4zM-12.9 13.9h4.3v2.4h-4.3zM17.1 13.9h3.4v4.1h-3.4zM41.1 13.9h4v3.6h-4zM47.1 13.9h3.9v2.3h-3.9zM-29.6 18.3h5.6v3.7h-5.6zM12.4 18.3h4.9v3.1h-4.9zM.6 22.7h3.6v3.3h-3.6zM18.6 22.7h5.5v2.3h-5.5zM-10.2 27.1h4.1v3.8h-4.1zM1.8 27.1h5.1v2.8h-5.1zM7.8 27.1h5.2v2.9h-5.2zM4.3 31.5h5.3v4h-5.3zM-12.2 35.9h4.7v3.8h-4.7zM-6.2 35.9h5.2v4h-5.2z"/><path fill="#7e0a12" d="M4.9 -43.3h5.4v2.4h-5.4zM-17.6 -30.1h3.8v3.3h-3.8zM-11.6 -30.1h5.2v2.5h-5.2zM12.4 -30.1h5.6v2.6h-5.6zM-20.6 -25.7h4.8v2.7h-4.8zM-14.6 -25.7h4.5v4.1h-4.5zM15.4 -25.7h5.8v4h-5.8zM-30.5 -21.3h4.8v3.9h-4.8zM-12.5 -21.3h4.8v2.5h-4.8zM29.5 -21.3h5.9v2.4h-5.9zM-29.7 -16.9h5.4v3.9h-5.4zM-23.7 -16.9h4.3v3.4h-4.3zM-11.7 -16.9h4.3v3.7h-4.3zM-22.8 -12.5h4.4v3.5h-4.4zM-16.8 -12.5h5.5v4.2h-5.5zM13.2 -12.5h3.7v2.3h-3.7zM-40.1 -8.1h5.1v3.2h-5.1zM-22.1 -8.1h4.9v4h-4.9zM31.9 -8.1h3.5v3.1h-3.5zM8.3 -3.7h5.5v4.1h-5.5zM14.3 -3.7h3.8v3.3h-3.8zM20.3 -3.7h3.4v4.1h-3.4zM26.3 -3.7h5.4v3.3h-5.4zM32.3 -3.7h3.5v3.3h-3.5zM-40.6 .7h4.5v2.5h-4.5zM-22.6 .7h4.1v2.6h-4.1zM-4.6 .7h5.1v2.8h-5.1zM7.4 .7h4v2.6h-4zM13.4 .7h4.3v3h-4.3zM19.4 .7h3.8v3.5h-3.8zM-4.1 5.1h4.6v3.7h-4.6zM7.9 5.1h4.7v3.2h-4.7zM31.9 5.1h3.5v4.1h-3.5zM37.9 5.1h4.1v3.1h-4.1zM-35.1 9.5h4.5v3.7h-4.5zM-11.1 9.5h5.5v3.5h-5.5zM42.9 9.5h4.2v3.5h-4.2zM-24.9 13.9h5.8v2.2h-5.8zM-.9 13.9h4.6v4.1h-4.6zM11.1 13.9h5.4v2.4h-5.4zM23.1 13.9h3.7v3.2h-3.7zM29.1 13.9h5.8v3h-5.8zM-11.6 18.3h5.7v3.1h-5.7zM6.4 18.3h5.8v3.8h-5.8zM18.4 18.3h4.7v2.4h-4.7zM24.4 18.3h4.5v2.7h-4.5zM-5.4 22.7h3.5v2.7h-3.5zM6.6 22.7h5.1v3.3h-5.1zM12.6 22.7h4.5v2.6h-4.5zM30.6 22.7h5.3v2.6h-5.3zM-16.2 27.1h3.5v3.3h-3.5zM-4.2 27.1h5v2.4h-5zM25.8 27.1h5.4v2.8h-5.4zM-13.7 31.5h4.2v2.9h-4.2zM-7.7 31.5h4.3v2.6h-4.3zM-1.7 31.5h4.7v3.9h-4.7zM10.3 31.5h4.6v3.3h-4.6zM-.2 35.9h3.7v3.7h-3.7zM5.8 35.9h3.9v3.7h-3.9z"/><path fill="#c41822" d="M13.7 -38.9h5v3.2h-5zM11.5 -21.3h3.3v4h-3.3zM23.5 -21.3h5v3.2h-5zM-5.7 -16.9h5.5v2.4h-5.5zM12.3 -16.9h3.3v2.8h-3.3zM18.3 -16.9h3.7v4h-3.7zM24.3 -16.9h5.6v2.9h-5.6zM-40.8 -12.5h5.5v3.9h-5.5zM-10.1 -8.1h5v2.6h-5zM-33.7 -3.7h3.7v3.2h-3.7zM43.9 5.1h4.9v2.2h-4.9zM12.9 9.5h5.6v4h-5.6zM18.9 9.5h5.3v3h-5.3zM-30.9 13.9h5.9v3.5h-5.9zM35.1 13.9h4.3v2.8h-4.3zM.4 18.3h4.7v4.1h-4.7zM-29.4 22.7h4.2v2.7h-4.2zM-23.4 22.7h4.8v3.5h-4.8zM36.6 22.7h5.4v2.9h-5.4zM-18.1 40.3h4.7v3.6h-4.7z"/><path fill="#5e080e" d="M7.7 -38.9h4.5v3.1h-4.5zM19.7 -38.9h4v4.2h-4zM-5.1 -34.5h5.3v3h-5.3zM6.9 -34.5h5.7v3.1h-5.7zM12.9 -34.5h3.5v3.5h-3.5zM18.9 -34.5h3.5v2.9h-3.5zM9.4 -25.7h3.8v3.7h-3.8zM21.4 -25.7h3.6v2.3h-3.6zM27.4 -25.7h5.1v2.7h-5.1zM-41.7 -16.9h5.1v3.8h-5.1zM-35.7 -16.9h5.1v4h-5.1zM-17.7 -16.9h5v4.2h-5zM6.3 -16.9h4.6v3.4h-4.6zM30.3 -16.9h4.4v3.8h-4.4zM-4.8 -12.5h4.8v2.8h-4.8zM19.2 -12.5h4.9v3.5h-4.9zM-34.1 -8.1h4.3v3.8h-4.3zM-16.1 -8.1h5.6v3.8h-5.6zM1.9 -8.1h5.2v2.6h-5.2zM19.9 -8.1h5.4v2.8h-5.4zM37.9 -8.1h4.6v2.3h-4.6zM-39.7 -3.7h3.7v2.9h-3.7zM-21.7 -3.7h5.8v3.2h-5.8zM-9.7 -3.7h5v3.2h-5zM-3.7 -3.7h4.1v3h-4.1zM25.4 .7h5.5v3.4h-5.5zM31.4 .7h5.2v3.8h-5.2zM-22.1 5.1h5.5v3h-5.5zM-10.1 5.1h5.1v4h-5.1zM13.9 5.1h3.8v2.6h-3.8zM-5.1 9.5h4.6v4.2h-4.6zM.9 9.5h5.7v3.7h-5.7zM30.4 18.3h5.3v3.3h-5.3zM42.4 18.3h3.9v2.4h-3.9zM-17.4 22.7h3.9v4.2h-3.9zM-28.2 27.1h4.7v3.7h-4.7zM-22.2 27.1h4.3v2.4h-4.3zM13.8 27.1h4.8v4h-4.8zM11.8 35.9h4.3v2.9h-4.3zM-6.1 40.3h5.4v3.5h-5.4zM-5.1 44.7h4.7v3.6h-4.7zM-13.6 49.1h3.7v3.7h-3.7z"/></g></g>
<g id="s0"><g transform="translate(34.8 34.8) rotate(28)"><path fill="#a80e18" d="M1.2 -34.5h4.5v3.5h-4.5zM11.7 -30.1h5.1v3.7h-5.1zM-8.2 -21.3h3.6v2.4h-3.6zM-2.2 -21.3h4.9v4h-4.9zM21.8 -21.3h5v2.7h-5zM27.8 -21.3h4.7v4h-4.7zM-15.2 -16.9h3.9v3h-3.9zM-9.2 -16.9h4.4v3.9h-4.4zM26.8 -16.9h4.4v2.2h-4.4zM-26.8 -8.1h4.3v3.4h-4.3zM12.7 -3.7h5.8v2.7h-5.8zM24.7 -3.7h3.5v2.4h-3.5zM-41.6 .7h5.5v3h-5.5zM-29.6 .7h5.2v2.9h-5.2zM-14.3 9.5h5.4v4h-5.4zM39.7 9.5h5.8v3.1h-5.8zM25.7 13.9h3.8v3.7h-3.8zM31.7 13.9h3.3v2.2h-3.3zM49.7 13.9h4.6v2.9h-4.6zM36.6 22.7h3.4v2.7h-3.4zM13.8 27.1h4.9v3.1h-4.9zM25.8 27.1h4.8v4h-4.8zM-20.6 35.9h4.7v2.5h-4.7zM9.4 35.9h4.2v2.2h-4.2z"/><path fill="#7e0a12" d="M5.7 -30.1h3.7v2.8h-3.7zM1.4 -25.7h3.7v2.7h-3.7zM-39.2 -16.9h4.5v3.7h-4.5zM-33.2 -16.9h3.4v2.6h-3.4zM-45.4 -12.5h5.9v2.8h-5.9zM-23.6 .7h3.5v4.1h-3.5zM12.4 .7h5.9v2.9h-5.9zM30.4 .7h3.4v2.3h-3.4zM-10.5 5.1h5.6v3.2h-5.6zM25.5 5.1h4.4v2.8h-4.4zM37.5 5.1h5.1v4h-5.1zM15.7 9.5h3.6v4h-3.6zM.6 22.7h3.4v4.2h-3.4zM-22.2 27.1h5.5v2.8h-5.5zM19.8 27.1h5.6v3.4h-5.6zM-8.6 35.9h3.5v2.3h-3.5zM-12.3 49.1h3.6v4.1h-3.6z"/><path fill="#c41822" d="M7.9 -38.9h5.2v2.8h-5.2zM7.2 -34.5h4.1v2.7h-4.1zM-6.3 -30.1h5.8v3.9h-5.8zM14.8 -16.9h3.8v3.5h-3.8zM-9.4 -12.5h4.9v3.5h-4.9zM20.6 -12.5h4.2v2.5h-4.2zM-2.8 -8.1h4.6v3.9h-4.6zM-35.3 -3.7h4.8v2.9h-4.8zM-17.3 -3.7h3.4v4.1h-3.4zM6.7 -3.7h3.8v3.4h-3.8zM30.7 -3.7h5.1v3.8h-5.1zM-34.5 5.1h5.8v2.5h-5.8zM19.7 13.9h4.4v2.8h-4.4zM-2.6 35.9h4v3.2h-4z"/><path fill="#5e080e" d="M-14.8 -8.1h4.9v2.5h-4.9zM-28.5 5.1h4.8v3.4h-4.8zM45.7 9.5h3.5v3h-3.5zM-15.7 18.3h4.4v3.2h-4.4zM2.3 18.3h3.8v3h-3.8zM14.3 18.3h5v3.7h-5zM32.3 18.3h4v4.1h-4zM-4.2 27.1h4.4v2.2h-4.4z"/></g></g>
<g id="r0"><path d="M0 49L27.5 4.5L30 1.5L33 .6L40 1.6L69.5 16.2M1.6 50.3L28.8 5.7L31.3 2.9L34 2.3L40 3.2L69.5 17.9M0 59L10 53L21.3 47.7L31.4 45L41.4 43.3" stroke="#f4f4f4" stroke-width="0.85" fill="none" stroke-linejoin="round" stroke-linecap="round"/><path d="M0 20.7L12.5 27L25 33.9L41.4 43.3L57 51.5L69.5 55" stroke="#f4f4f4" stroke-width="0.98" fill="none" stroke-linejoin="round" stroke-linecap="round"/><path d="M41.4 43.3L50 47L59 50.2L69.5 46.5M21.3 47.7L18.8 58L16.3 69.5M41.4 43.3L45.2 55.2L50 69.5M59 52.2L62.7 69.5" stroke="#f4f4f4" stroke-width="0.78" fill="none" stroke-linejoin="round" stroke-linecap="round"/><path d="M26.3 47.7L32 58L38.9 69.5M28 60L45.2 55.2L59 52.2M0 53L13.8 59M0 62.5L12 67M5.5 55.5L3.5 69.5" stroke="#f4f4f4" stroke-width="0.72" fill="none" stroke-linejoin="round" stroke-linecap="round"/><path d="M16.3 62L31 64.5M50 62L69.5 60" stroke="#f4f4f4" stroke-width="0.65" fill="none" stroke-linejoin="round" stroke-linecap="round"/></g>
<g id="b1"><g transform="translate(34.8 34.8) rotate(0)"><path fill="#a80e18" d="M-33.2 -36.1h3.2v2.8h-3.2zM3.6 -36.1h3v2.9h-3zM8.2 -36.1h4.4v2.5h-4.4zM12.8 -36.1h3.8v1.9h-3.8zM26.6 -36.1h3.3v2.4h-3.3zM35.8 -36.1h2.7v3h-2.7zM-31.7 -32.9h2.7v2.9h-2.7zM-27.1 -32.9h3.2v2.1h-3.2zM-17.9 -32.9h2.9v2.6h-2.9zM14.3 -32.9h3.5v2.5h-3.5zM18.9 -32.9h3.9v2.2h-3.9zM23.5 -32.9h4.4v2.1h-4.4zM28.1 -32.9h3v2.8h-3zM32.7 -32.9h2.7v2.3h-2.7zM-33.5 -29.7h4.2v1.6h-4.2zM-24.3 -29.7h3v1.9h-3zM-1.3 -29.7h3.6v1.8h-3.6zM3.3 -29.7h4.1v1.6h-4.1zM30.9 -29.7h3.8v1.9h-3.8zM-24.7 -26.5h4.1v2.8h-4.1zM-10.9 -26.5h3.8v2.6h-3.8zM7.5 -26.5h3.1v1.9h-3.1zM16.7 -26.5h2.6v2h-2.6zM25.9 -26.5h3.2v2.7h-3.2zM30.5 -26.5h4.3v2.9h-4.3zM35.1 -26.5h4.4v2.3h-4.4zM-37.7 -23.3h3.1v1.8h-3.1zM-23.9 -23.3h2.7v2.1h-2.7zM-14.7 -23.3h3.4v2.5h-3.4zM-10.1 -23.3h4.1v2.5h-4.1zM-5.5 -23.3h2.5v1.7h-2.5zM17.5 -23.3h3.3v2.4h-3.3zM26.7 -23.3h4.2v2.7h-4.2zM-32 -20.1h3v2.2h-3zM-27.4 -20.1h2.6v2.4h-2.6zM-9 -20.1h4.4v2.3h-4.4zM-4.4 -20.1h3.3v2.3h-3.3zM4.8 -20.1h3.9v2.4h-3.9zM9.4 -20.1h4.2v1.7h-4.2zM23.2 -20.1h4.1v2.2h-4.1zM-10 -16.9h2.9v1.6h-2.9zM-.8 -16.9h3.8v2.6h-3.8zM3.8 -16.9h3.5v1.9h-3.5zM8.4 -16.9h2.7v2.9h-2.7zM22.2 -16.9h4.3v2.3h-4.3zM31.4 -16.9h3.2v1.8h-3.2zM-32.6 -13.7h3.4v2.7h-3.4zM-28 -13.7h2.8v2h-2.8zM-23.4 -13.7h3.2v2.6h-3.2zM-14.2 -13.7h2.9v1.8h-2.9zM4.2 -13.7h3.4v2.7h-3.4zM18 -13.7h3.2v1.7h-3.2zM36.4 -13.7h3.1v2.7h-3.1zM-33.2 -10.5h4.2v1.7h-4.2zM-28.6 -10.5h4.2v2.1h-4.2zM-19.4 -10.5h4.2v2.1h-4.2zM8.2 -10.5h3.4v1.7h-3.4zM-30.5 -7.3h4v2.7h-4zM-21.3 -7.3h3.4v1.7h-3.4zM-16.7 -7.3h3v2.3h-3zM15.5 -7.3h3.7v2h-3.7zM20.1 -7.3h4.1v2.4h-4.1zM24.7 -7.3h3.2v2.2h-3.2zM-19.3 -4.1h3v1.7h-3zM-.9 -4.1h3.3v2.2h-3.3zM-35.9 -.9h4.3v3h-4.3zM-31.3 -.9h2.8v2.6h-2.8zM-26.7 -.9h3.5v2.7h-3.5zM-22.1 -.9h3.3v2.8h-3.3zM-8.3 -.9h4.2v2.2h-4.2zM19.3 -.9h3.5v2.4h-3.5zM-29.2 2.3h3.9v2.1h-3.9zM-15.4 2.3h3.7v3h-3.7zM-10.8 2.3h3.2v2.1h-3.2zM-1.6 2.3h4v2.8h-4zM3 2.3h4.1v2h-4.1zM7.6 2.3h4.1v3h-4.1zM30.6 2.3h3.9v2.3h-3.9zM35.2 2.3h4.3v2.9h-4.3zM-29 5.5h2.6v2.7h-2.6zM-24.4 5.5h3.5v2.1h-3.5zM-19.8 5.5h2.6v1.8h-2.6zM-6 5.5h3.9v2.3h-3.9zM-1.4 5.5h3v2.1h-3zM3.2 5.5h4.1v1.8h-4.1zM7.8 5.5h3.1v1.6h-3.1zM26.2 5.5h4.4v2.7h-4.4zM30.8 5.5h4.1v2.9h-4.1zM35.4 5.5h4v1.8h-4zM-35.7 8.7h3.2v2.5h-3.2zM-12.7 8.7h3.1v2.3h-3.1zM-3.5 8.7h2.8v2.7h-2.8zM28.7 8.7h3.6v1.9h-3.6zM33.3 8.7h4.3v1.6h-4.3zM-23.8 11.9h3.9v1.7h-3.9zM-10 11.9h3.6v2.9h-3.6zM-.8 11.9h3.8v2.5h-3.8zM3.8 11.9h3.6v2.7h-3.6zM-20.4 15.1h3.9v1.8h-3.9zM-15.8 15.1h3.1v2.4h-3.1zM-11.2 15.1h4.3v3h-4.3zM21 15.1h3.2v1.8h-3.2zM34.8 15.1h3.3v2.1h-3.3zM-36.8 18.3h3.4v2.9h-3.4zM-27.6 18.3h3.8v2.3h-3.8zM-18.4 18.3h2.9v2h-2.9zM-13.8 18.3h3.3v2h-3.3zM-4.6 18.3h4.2v2.9h-4.2zM4.6 18.3h3.8v1.8h-3.8zM9.2 18.3h2.6v2h-2.6zM32.2 18.3h4.3v1.7h-4.3zM-22.2 21.5h3.5v2.1h-3.5zM5.4 21.5h3.2v2.6h-3.2zM10 21.5h2.6v1.9h-2.6zM14.6 21.5h3.9v1.9h-3.9zM37.6 21.5h3.4v1.7h-3.4zM-25.6 24.7h3.7v2.1h-3.7zM-11.8 24.7h4.3v1.6h-4.3zM-2.6 24.7h4.4v2.7h-4.4zM25 24.7h4.3v2.9h-4.3zM-8.8 27.9h2.7v1.7h-2.7zM5 27.9h3.7v2.4h-3.7zM23.4 27.9h2.9v1.9h-2.9zM32.6 27.9h3.1v2.2h-3.1zM-37 31.1h3.9v1.9h-3.9zM-32.4 31.1h3.5v1.8h-3.5zM-4.8 31.1h3.5v2.1h-3.5zM13.6 31.1h3.9v2.8h-3.9zM-34.5 34.3h3v2h-3zM-20.7 34.3h3.3v2.9h-3.3zM-16.1 34.3h2.7v2h-2.7zM-11.5 34.3h2.7v2.5h-2.7zM-6.9 34.3h3.5v2h-3.5zM16.1 34.3h3.6v1.6h-3.6zM-24.1 37.5h2.8v3h-2.8zM-19.5 37.5h3.6v2h-3.6zM-5.7 37.5h4.2v1.6h-4.2zM8.1 37.5h4.4v2.8h-4.4zM26.5 37.5h3.5v2.8h-3.5zM35.7 37.5h3.8v2.6h-3.8z"/><path fill="#7e0a12" d="M-24 -36.1h3.7v2.9h-3.7zM-14.8 -36.1h2.6v2.8h-2.6zM-10.2 -36.1h2.9v2.8h-2.9zM-1 -36.1h4.4v2.4h-4.4zM17.4 -36.1h2.6v2.9h-2.6zM31.2 -36.1h3.6v2.2h-3.6zM-36.3 -32.9h4.4v2.9h-4.4zM-13.3 -32.9h4.2v2.9h-4.2zM-8.7 -32.9h3.5v2.3h-3.5zM.5 -32.9h3.5v2.6h-3.5zM5.1 -32.9h4.1v2.7h-4.1zM-15.1 -29.7h2.6v2.3h-2.6zM12.5 -29.7h3.2v2.8h-3.2zM35.5 -29.7h3.3v1.9h-3.3zM-33.9 -26.5h3.6v2.8h-3.6zM2.9 -26.5h4.3v2.7h-4.3zM21.3 -26.5h3.2v1.8h-3.2zM-.9 -23.3h4.1v1.9h-4.1zM8.3 -23.3h3.1v1.9h-3.1zM31.3 -23.3h3.9v2.4h-3.9zM-18.2 -20.1h2.8v2.1h-2.8zM.2 -20.1h3.5v2h-3.5zM37 -20.1h4.3v2.6h-4.3zM-28.4 -16.9h3.3v1.7h-3.3zM-23.8 -16.9h3.3v2h-3.3zM-19.2 -16.9h2.9v2h-2.9zM-5.4 -16.9h4v2.7h-4zM36 -16.9h3.3v1.8h-3.3zM-.4 -13.7h2.6v2.3h-2.6zM8.8 -13.7h3.9v2.7h-3.9zM13.4 -13.7h3.6v1.8h-3.6zM22.6 -13.7h3.6v1.9h-3.6zM27.2 -13.7h3v1.8h-3zM31.8 -13.7h3.9v2.3h-3.9zM-24 -10.5h2.7v2h-2.7zM17.4 -10.5h3.2v2.3h-3.2zM22 -10.5h4.4v2.7h-4.4zM26.6 -10.5h3.6v3h-3.6zM-35.1 -7.3h3.3v1.6h-3.3zM29.3 -7.3h3v2h-3zM33.9 -7.3h3.8v2.9h-3.8zM-37.7 -4.1h3.6v2.6h-3.6zM-28.5 -4.1h3v1.6h-3zM-23.9 -4.1h2.7v2.3h-2.7zM-10.1 -4.1h3.7v2.2h-3.7zM3.7 -4.1h4.1v2.3h-4.1zM12.9 -4.1h2.9v2.5h-2.9zM26.7 -4.1h3.4v2.5h-3.4zM31.3 -4.1h3.5v1.9h-3.5zM35.9 -4.1h3.1v2.2h-3.1zM-17.5 -.9h3.9v2.1h-3.9zM-3.7 -.9h4.3v2.8h-4.3zM10.1 -.9h3.3v2.5h-3.3zM33.1 -.9h3.8v2.5h-3.8zM-24.6 2.3h4.3v2.9h-4.3zM-6.2 2.3h3v2.6h-3zM12.2 2.3h3.3v1.7h-3.3zM26 2.3h4v2.7h-4zM-33.6 5.5h3.1v2.8h-3.1zM-10.6 5.5h4.2v3h-4.2zM-26.5 8.7h3.6v1.8h-3.6zM-21.9 8.7h3.9v1.6h-3.9zM-17.3 8.7h3.5v2.3h-3.5zM24.1 8.7h4.4v1.8h-4.4zM-14.6 11.9h3.6v2.2h-3.6zM-5.4 11.9h3.8v2.8h-3.8zM17.6 11.9h2.5v2.3h-2.5zM22.2 11.9h3.1v1.7h-3.1zM31.4 11.9h3.6v2.8h-3.6zM36 11.9h3.6v2.8h-3.6zM-34.2 15.1h3.3v1.8h-3.3zM2.6 15.1h3.8v1.8h-3.8zM11.8 15.1h3.9v2.5h-3.9zM16.4 15.1h3.1v2.9h-3.1zM25.6 15.1h3.1v1.6h-3.1zM-0 18.3h4v2.3h-4zM23 18.3h3.4v2.9h-3.4zM27.6 18.3h4.2v2.6h-4.2zM36.8 18.3h2.9v1.9h-2.9zM-13 21.5h2.6v2.5h-2.6zM19.2 21.5h3.3v2.4h-3.3zM28.4 21.5h2.5v2.9h-2.5zM-34.8 24.7h2.6v2.6h-2.6zM-7.2 24.7h2.9v1.8h-2.9zM6.6 24.7h4.2v2.6h-4.2zM34.2 24.7h3.4v2.2h-3.4zM-36.4 27.9h3v2.2h-3zM-27.2 27.9h3.6v2.1h-3.6zM-13.4 27.9h2.5v2.9h-2.5zM-4.2 27.9h3.9v1.8h-3.9zM.4 27.9h3.4v2h-3.4zM9.6 27.9h4.2v3h-4.2zM-27.8 31.1h2.9v1.8h-2.9zM-9.4 31.1h3.6v2.9h-3.6zM-.2 31.1h4v1.6h-4zM9 31.1h3.8v2.6h-3.8zM22.8 31.1h2.6v1.7h-2.6zM27.4 31.1h2.8v2.8h-2.8zM32 31.1h2.9v3h-2.9zM36.6 31.1h3.8v1.7h-3.8zM-29.9 34.3h4.1v2.2h-4.1zM34.5 34.3h3.1v2.4h-3.1zM-33.3 37.5h3.7v2.2h-3.7zM3.5 37.5h3v2.6h-3zM21.9 37.5h3.5v2.8h-3.5zM31.1 37.5h3.9v2.9h-3.9z"/><path fill="#c41822" d="M-22.5 -32.9h2.6v2.3h-2.6zM37.3 -32.9h4v2.9h-4zM-28.9 -29.7h3.3v2.7h-3.3zM-19.7 -29.7h3.8v1.8h-3.8zM-10.5 -29.7h3.5v1.6h-3.5zM-5.9 -29.7h3.8v3h-3.8zM7.9 -29.7h2.9v2.7h-2.9zM17.1 -29.7h3.1v1.8h-3.1zM26.3 -29.7h3.3v2.8h-3.3zM-28.5 -23.3h2.8v2.3h-2.8zM22.1 -23.3h4.3v2.4h-4.3zM35.9 -23.3h3.6v2.1h-3.6zM-22.8 -20.1h2.8v2.6h-2.8zM-13.6 -20.1h2.5v2.2h-2.5zM18.6 -20.1h3.2v2.2h-3.2zM-14.6 -16.9h4.1v2h-4.1zM17.6 -16.9h2.6v2.9h-2.6zM26.8 -16.9h3.1v2.8h-3.1zM-14.8 -10.5h2.8v2h-2.8zM-1 -10.5h3.3v2.6h-3.3zM3.6 -10.5h3.5v3h-3.5zM12.8 -10.5h3.5v2.3h-3.5zM31.2 -10.5h3.3v2.2h-3.3zM-25.9 -7.3h3.1v2.1h-3.1zM-7.5 -7.3h3.5v1.8h-3.5zM-2.9 -7.3h2.7v2.3h-2.7zM6.3 -7.3h4.2v3h-4.2zM10.9 -7.3h3.5v2.4h-3.5zM-33.1 -4.1h3.5v2.5h-3.5zM-5.5 -4.1h3.2v1.8h-3.2zM-12.9 -.9h4.5v2.5h-4.5zM5.5 -.9h2.6v2.5h-2.6zM14.7 -.9h2.7v2h-2.7zM23.9 -.9h3.5v2.8h-3.5zM28.5 -.9h3.5v2.7h-3.5zM-20 2.3h2.9v2.9h-2.9zM12.4 5.5h4.1v2.7h-4.1zM17 5.5h4.5v2h-4.5zM21.6 5.5h4.4v2.2h-4.4zM-31.1 8.7h3.6v2.8h-3.6zM-8.1 8.7h3.8v1.8h-3.8zM1.1 8.7h3.8v1.6h-3.8zM5.7 8.7h4.5v2h-4.5zM14.9 8.7h2.7v2.1h-2.7zM19.5 8.7h3.8v2.3h-3.8zM-37.6 11.9h4v1.6h-4zM8.4 11.9h3.8v2.5h-3.8zM26.8 11.9h3.5v1.9h-3.5zM-29.6 15.1h4.1v2.2h-4.1zM-25 15.1h4v2.8h-4zM-6.6 15.1h3.7v2.2h-3.7zM7.2 15.1h4.1v2.9h-4.1zM13.8 18.3h3.8v1.9h-3.8zM18.4 18.3h4.2v2.4h-4.2zM-36 21.5h4.2v2.6h-4.2zM23.8 21.5h3.6v2.6h-3.6zM-30.2 24.7h2.7v2.9h-2.7zM-21 24.7h4.5v1.6h-4.5zM2 24.7h3.1v2.7h-3.1zM11.2 24.7h4.2v2.7h-4.2zM15.8 24.7h2.7v2.5h-2.7zM-18 27.9h3.3v2h-3.3zM28 27.9h4.4v1.9h-4.4zM-14 31.1h4v1.6h-4zM6.9 34.3h3.8v2.8h-3.8zM11.5 34.3h4v2.2h-4zM20.7 34.3h2.7v1.7h-2.7zM-14.9 37.5h4.1v1.9h-4.1zM-10.3 37.5h3.5v1.7h-3.5z"/><path fill="#5e080e" d="M22 -36.1h3.3v2.5h-3.3zM21.7 -29.7h3.9v2.7h-3.9zM-29.3 -26.5h4v1.6h-4zM-20.1 -26.5h2.9v2.3h-2.9zM3.7 -23.3h3.8v1.6h-3.8zM14 -20.1h4.2v2.4h-4.2zM27.8 -20.1h3.6v1.8h-3.6zM-18.8 -13.7h3.1v2.1h-3.1zM-5.6 -10.5h2.7v2.6h-2.7zM35.8 -10.5h4.3v2.6h-4.3zM-12.1 -7.3h2.7v2.6h-2.7zM1.7 -7.3h4.2v2.1h-4.2zM-14.7 -4.1h4.3v2.2h-4.3zM8.3 -4.1h3.2v2.5h-3.2zM17.5 -4.1h3.9v2.9h-3.9zM22.1 -4.1h3.5v1.7h-3.5zM16.8 2.3h4.2v1.9h-4.2zM21.4 2.3h2.8v2.8h-2.8zM-15.2 5.5h3.1v3h-3.1zM-28.4 11.9h3.7v2.7h-3.7zM-31.4 21.5h2.8v2.6h-2.8zM-26.8 21.5h3.7v2.1h-3.7zM-17.6 21.5h2.5v2h-2.5zM14.2 27.9h2.5v2.2h-2.5zM37.2 27.9h4.3v2.1h-4.3zM-18.6 31.1h3v2.4h-3zM4.4 31.1h3.8v2.6h-3.8zM-2.3 34.3h2.9v2.1h-2.9zM-1.1 37.5h3.7v2h-3.7z"/></g></g>
<g id="s1"><g transform="translate(34.8 34.8) rotate(0)"><path fill="#a80e18" d="M-20.7 -36.1h4.3v2.3h-4.3zM6.9 -36.1h4.4v2.5h-4.4zM30.4 -32.9h4v2.3h-4zM7.9 -29.7h2.6v2.7h-2.6zM30.9 -29.7h2.9v2.8h-2.9zM-25.1 -26.5h4.2v2h-4.2zM-11.3 -26.5h3.7v2.8h-3.7zM-24 -23.3h3.4v2h-3.4zM35.8 -23.3h3.9v1.8h-3.9zM-1.2 -16.9h3.2v2h-3.2zM3.4 -16.9h3.3v2h-3.3zM12.6 -16.9h3.4v1.7h-3.4zM9.7 -13.7h4v2.6h-4zM32.7 -13.7h2.6v2h-2.6zM37.3 -13.7h3.7v2.8h-3.7zM5.7 -10.5h3.4v3h-3.4zM4.6 -4.1h3.5v2.9h-3.5zM-7.1 8.7h3.4v2.9h-3.4zM20.5 8.7h3.9v2.2h-3.9zM-35.7 11.9h3.1v2.7h-3.1zM28.7 11.9h3.2v1.7h-3.2zM33.3 11.9h2.9v2.5h-2.9zM-20.1 21.5h3.8v2.7h-3.8zM-1.7 21.5h2.6v2h-2.6zM7.3 24.7h4.5v2.4h-4.5zM21.1 24.7h3v2.5h-3zM30.3 24.7h2.7v2.7h-2.7zM31.2 27.9h3.5v1.9h-3.5zM36.2 31.1h3.1v2.8h-3.1zM5.3 34.3h3.6v3h-3.6zM9.9 34.3h2.8v2.7h-2.8zM19.4 37.5h4.4v1.6h-4.4z"/><path fill="#7e0a12" d="M25.8 -32.9h3.2v2.3h-3.2zM-28.9 -29.7h3v2.4h-3zM17.1 -29.7h3.6v2.2h-3.6zM-14.8 -23.3h4.3v1.8h-4.3zM-5.6 -23.3h4.4v2.9h-4.4zM12.8 -23.3h4.4v1.9h-4.4zM-15 -16.9h4.1v1.9h-4.1zM-4.1 -13.7h4.1v2.9h-4.1zM-3.5 -10.5h3.2v1.9h-3.2zM33.3 -10.5h2.7v1.8h-2.7zM-11.7 -7.3h4.3v2.8h-4.3zM20.5 -7.3h3.9v2.7h-3.9zM25.1 -7.3h3.5v2.6h-3.5zM-36.8 -4.1h4v1.6h-4zM-1.6 -.9h3.1v2.3h-3.1zM19.8 2.3h3.7v2.3h-3.7zM-3 5.5h4.2v2.9h-4.2zM-11.7 8.7h4.1v2.6h-4.1zM6.7 8.7h3.2v2.3h-3.2zM-3.5 11.9h3.8v2.7h-3.8zM-28.2 15.1h2.7v2.9h-2.7zM-25.9 18.3h4.2v1.8h-4.2zM-5.2 31.1h4v2.4h-4zM-26.9 34.3h4.1v2.4h-4.1zM28.3 34.3h4.1v1.8h-4.1zM-8.2 37.5h4.1v2.6h-4.1zM-3.6 37.5h4v2.3h-4z"/><path fill="#c41822" d="M-6.9 -36.1h4.2v2.7h-4.2zM34.5 -36.1h3.3v2h-3.3zM-20.2 -32.9h4.4v1.6h-4.4zM-1.3 -29.7h4.1v2.4h-4.1zM21.7 -29.7h4.3v2.8h-4.3zM20.9 -26.5h4.1v1.8h-4.1zM-17.5 -20.1h3.7v2.4h-3.7zM-12.9 -20.1h4.1v1.8h-4.1zM31 -16.9h4.1v2h-4.1zM-8.1 -10.5h3.4v3h-3.4zM-30.1 -7.3h3.1v2.9h-3.1zM11.3 -7.3h3.8v2h-3.8zM-0 -4.1h3.6v1.9h-3.6zM27.6 -4.1h4.3v1.8h-4.3zM35.2 -.9h2.8v2h-2.8zM-17 2.3h3.5v1.6h-3.5zM-20.9 8.7h3.3v2.8h-3.3zM-8.1 11.9h4.4v2.2h-4.4zM10.3 11.9h3.7v2.7h-3.7zM24.7 18.3h3.5v1.9h-3.5zM-33.9 21.5h4.3v2.4h-4.3zM-15.5 21.5h2.8v2.2h-2.8zM-6.3 21.5h3.5v2.3h-3.5zM7.5 21.5h4.4v1.9h-4.4zM-6.5 24.7h4.1v2.4h-4.1zM-10.2 27.9h2.8v2.8h-2.8zM-5.6 27.9h4.3v2.6h-4.3zM-28.2 31.1h2.9v2.9h-2.9zM-3.9 34.3h3.4v2h-3.4zM-22 37.5h4.4v1.9h-4.4zM-17.4 37.5h4.1v2.8h-4.1zM1 37.5h3.5v1.7h-3.5z"/><path fill="#5e080e" d="M-24.8 -32.9h3.9v2h-3.9zM10.1 -20.1h3.8v2.8h-3.8zM-9.2 -4.1h4v3h-4zM-16.3 8.7h3v1.8h-3zM-23.6 15.1h3v2h-3zM-2.9 18.3h3.2v2.5h-3.2zM16.7 21.5h3.2v2.8h-3.2z"/></g></g>
<g id="r1"><path d="M18.8 0L18.8 3.5L21 5.6L45 6.2L69.5 7.4M69.5 10.8L45 9.8L21 9.4L18.8 11.5L18.8 60M50.2 10.2L50.2 59" stroke="#f4f4f4" stroke-width="1.17" fill="none" stroke-linejoin="round" stroke-linecap="round"/><path d="M9.2 16.3L9.2 60" stroke="#f4f4f4" stroke-width="1.69" fill="none" stroke-linejoin="round" stroke-linecap="round"/><path d="M12.5 24L12.5 60M4 57L7 62L4 67M10 62L14 66.5L18 62" stroke="#f4f4f4" stroke-width="1.56" fill="none" stroke-linejoin="round" stroke-linecap="round"/><path d="M12.5 32.6L18.8 26.3M0 64.5L30 64.3L69.5 65M34.1 15L34.1 66" stroke="#f4f4f4" stroke-width="1.04" fill="none" stroke-linejoin="round" stroke-linecap="round"/><path d="M0 61.5L25 61.3L50 61.8L69.5 62.3" stroke="#f4f4f4" stroke-width="1.3" fill="none" stroke-linejoin="round" stroke-linecap="round"/><path d="M20.5 18.8L31 18.8M37.2 18.8L50.2 18.8M20.5 27L50.2 27M20.5 43.3L50.2 43.3M20.5 52L31 52M37.2 52L50.2 52M0 49.5L7.5 49.5" stroke="#f4f4f4" stroke-width="0.78" fill="none" stroke-linejoin="round" stroke-linecap="round"/><path d="M50.2 28.9L69.5 29.3M50.2 45.2L69.5 45.6M0 34.5L8.8 34.5" stroke="#f4f4f4" stroke-width="0.91" fill="none" stroke-linejoin="round" stroke-linecap="round"/><path d="M8 58L10.5 63L13 58M9 60L9 68" stroke="#f4f4f4" stroke-width="1.82" fill="none" stroke-linejoin="round" stroke-linecap="round"/><path d="M6 64L16 64" stroke="#f4f4f4" stroke-width="2.08" fill="none" stroke-linejoin="round" stroke-linecap="round"/><circle cx="34.1" cy="17.6" r="3.2" fill="none" stroke="#f4f4f4" stroke-width="1"/><circle cx="34.1" cy="52.7" r="2.8" fill="none" stroke="#f4f4f4" stroke-width="1"/></g>
<g id="b2"><g transform="translate(34.8 34.8) rotate(-20)"><path fill="#a80e18" d="M-17.3 -41.3h3.4v2.6h-3.4zM-14.3 -37.7h3.4v2.2h-3.4zM-9.3 -37.7h3.9v2.3h-3.9zM.7 -37.7h4v2h-4zM5.7 -37.7h3.4v1.9h-3.4zM-21.1 -34.1h3.9v3.1h-3.9zM-1.1 -34.1h3.8v2.8h-3.8zM-24.7 -30.5h3.6v3.1h-3.6zM5.3 -30.5h4.3v2.2h-4.3zM10.3 -30.5h4v2.7h-4zM-23.1 -26.9h3.2v2h-3.2zM-13.1 -26.9h4.5v1.8h-4.5zM-3.1 -26.9h3.5v2h-3.5zM1.9 -26.9h3.8v2.5h-3.8zM6.9 -26.9h3.2v2h-3.2zM16.9 -26.9h4.1v2.2h-4.1zM21.9 -26.9h3.5v2.4h-3.5zM31.9 -26.9h3.4v3h-3.4zM-26.9 -23.3h4.9v2.4h-4.9zM-6.9 -23.3h3.6v3.2h-3.6zM18.1 -23.3h3.7v2.4h-3.7zM23.1 -23.3h3.1v2.1h-3.1zM28.1 -23.3h3.6v2.6h-3.6zM33.1 -23.3h4.4v2h-4.4zM5.5 -19.7h3v1.8h-3zM40.5 -19.7h3.3v2.2h-3.3zM-25.8 -16.1h3.7v2.3h-3.7zM-10.8 -16.1h3.4v2.3h-3.4zM-5.8 -16.1h3.4v2.7h-3.4zM14.2 -16.1h3.1v2.7h-3.1zM-28.6 -12.5h3.6v3.1h-3.6zM21.4 -12.5h4.5v1.9h-4.5zM31.4 -12.5h3.6v2.6h-3.6zM36.4 -12.5h3.5v2.9h-3.5zM-13.2 -8.9h3v2.3h-3zM-8.2 -8.9h4.7v2.7h-4.7zM6.8 -8.9h4.4v2.6h-4.4zM36.8 -8.9h3.6v2.8h-3.6zM41.8 -8.9h3.5v2.1h-3.5zM-28.9 -5.3h4.2v1.9h-4.2zM-13.9 -5.3h4.6v2.7h-4.6zM-33.6 -1.7h4v3.4h-4zM-18.6 -1.7h4.9v3h-4.9zM11.4 -1.7h4.9v3.3h-4.9zM-38.2 1.9h3.6v3h-3.6zM-33.2 1.9h3.6v2.9h-3.6zM-23.2 1.9h4.8v2.9h-4.8zM-8.2 1.9h2.8v1.9h-2.8zM11.8 1.9h2.9v2.9h-2.9zM16.8 1.9h2.9v2.3h-2.9zM31.8 1.9h4.3v3h-4.3zM-33.3 5.5h4.8v3.3h-4.8zM-13.3 5.5h4.3v3.3h-4.3zM1.7 5.5h3.3v2.4h-3.3zM6.7 5.5h3.3v2.8h-3.3zM11.7 5.5h3.8v3.3h-3.8zM16.7 5.5h4.4v2.7h-4.4zM-18.6 9.1h4.7v2.4h-4.7zM-3.6 9.1h3.7v3.1h-3.7zM-31 12.7h3.7v2.5h-3.7zM14 12.7h4.4v2.3h-4.4zM19 12.7h3.4v1.9h-3.4zM34 12.7h4.3v3.2h-4.3zM5.7 16.3h4.8v2.8h-4.8zM15.7 16.3h3.1v2.6h-3.1zM25.7 16.3h3.9v1.8h-3.9zM-29.6 19.9h4.7v2.8h-4.7zM-9.6 19.9h4.3v3.4h-4.3zM10.4 19.9h3v2.9h-3zM15.4 19.9h2.8v2.3h-2.8zM-34.4 23.5h4.6v2.1h-4.6zM-19.4 23.5h3.5v2.3h-3.5zM15.6 23.5h3.8v2.8h-3.8zM-29.5 27.1h4v2.6h-4zM-24.5 27.1h2.9v2.8h-2.9zM-9.5 27.1h4v2.4h-4zM-20.8 30.7h3.2v2.3h-3.2zM-15.8 30.7h3.6v2.5h-3.6zM-.8 30.7h3v1.9h-3zM9.2 30.7h3.3v2.1h-3.3zM23.8 34.3h4.3v2.9h-4.3zM-6.1 37.9h4.2v3.1h-4.2zM3.9 37.9h3.7v3.2h-3.7zM18.9 37.9h3.8v2.6h-3.8z"/><path fill="#7e0a12" d="M-18 -44.9h4.2v2.8h-4.2zM-22.3 -41.3h3.7v3.3h-3.7zM-26.1 -34.1h4.2v2.5h-4.2zM-11.1 -34.1h4.6v1.8h-4.6zM3.9 -34.1h4v3h-4zM-19.7 -30.5h3.1v2.9h-3.1zM20.3 -30.5h4v3.4h-4zM11.9 -26.9h3v3.1h-3zM26.9 -26.9h4.5v1.8h-4.5zM-11.9 -23.3h3.3v3.1h-3.3zM38.1 -23.3h4.7v3.3h-4.7zM-24.5 -19.7h3.8v2.3h-3.8zM10.5 -19.7h3.4v3.1h-3.4zM15.5 -19.7h4.5v2.3h-4.5zM30.5 -19.7h4.3v1.9h-4.3zM35.5 -19.7h4.7v2.5h-4.7zM45.5 -19.7h3.9v3h-3.9zM9.2 -16.1h3.6v2.1h-3.6zM19.2 -16.1h4.4v1.8h-4.4zM34.2 -16.1h4.2v1.9h-4.2zM39.2 -16.1h4.7v3h-4.7zM44.2 -16.1h4.1v2.8h-4.1zM-3.6 -12.5h3.8v2.3h-3.8zM11.4 -12.5h3v2h-3zM26.4 -12.5h4.4v2.6h-4.4zM41.4 -12.5h4.9v2.8h-4.9zM-23.2 -8.9h4.1v2h-4.1zM-8.9 -5.3h4.6v3.1h-4.6zM1.1 -5.3h3.6v2.1h-3.6zM31.1 -5.3h3.2v3h-3.2zM36.1 -5.3h4.8v1.8h-4.8zM-3.6 -1.7h2.8v3.1h-2.8zM6.4 -1.7h3.1v2.3h-3.1zM16.4 -1.7h3v3.2h-3zM36.4 -1.7h2.9v3h-2.9zM-3.3 5.5h4v3.1h-4zM36.7 5.5h3.4v2.7h-3.4zM-8.6 9.1h4.2v1.8h-4.2zM6.4 9.1h4.8v2.3h-4.8zM26.4 9.1h4.8v1.9h-4.8zM-39.3 16.3h4.7v3.1h-4.7zM-29.3 16.3h3.4v2.2h-3.4zM.7 16.3h4.5v2.5h-4.5zM-14.6 19.9h3.4v2.6h-3.4zM20.4 19.9h3.7v2.6h-3.7zM-24.4 23.5h3.1v3.2h-3.1zM-9.4 23.5h2.9v3.2h-2.9zM.6 23.5h3.4v2.3h-3.4zM-19.5 27.1h3.1v3h-3.1zM10.5 27.1h3.2v2.5h-3.2zM3.8 34.3h4v2.9h-4zM13.9 37.9h3.4v3.1h-3.4z"/><path fill="#c41822" d="M-12.3 -41.3h4.3v2.5h-4.3zM-19.3 -37.7h3.2v3.2h-3.2zM-4.3 -37.7h3v1.9h-3zM-16.1 -34.1h3.8v2.4h-3.8zM-6.1 -34.1h3.4v3.2h-3.4zM8.9 -34.1h3.8v2.2h-3.8zM-4.7 -30.5h4.5v3.3h-4.5zM.3 -30.5h4v2.6h-4zM-28.1 -26.9h2.8v1.8h-2.8zM-16.9 -23.3h4.8v2.3h-4.8zM-1.9 -23.3h3.2v2.1h-3.2zM3.1 -23.3h4.5v2.3h-4.5zM43.1 -23.3h4.6v3.4h-4.6zM-14.5 -19.7h3.3v2.3h-3.3zM-9.5 -19.7h4.5v3.3h-4.5zM-4.5 -19.7h3.2v2.5h-3.2zM20.5 -19.7h3.4v2h-3.4zM-15.8 -16.1h3v2.1h-3zM-.8 -16.1h4v2.3h-4zM-33.6 -12.5h4.8v2.8h-4.8zM-18.2 -8.9h3.3v2.4h-3.3zM11.8 -8.9h4.5v3h-4.5zM-23.9 -5.3h4.1v2.7h-4.1zM-28.6 -1.7h4.9v2.1h-4.9zM1.4 -1.7h2.9v2.6h-2.9zM-13.2 1.9h4.2v1.8h-4.2zM1.8 1.9h3.5v3.3h-3.5zM21.8 1.9h4.9v2.1h-4.9zM36.8 1.9h4.4v2.8h-4.4zM-18.3 5.5h3.5v2.8h-3.5zM26.7 5.5h4.1v2.2h-4.1zM31.7 5.5h4.1v3.1h-4.1zM-38.6 9.1h2.9v1.8h-2.9zM-11 12.7h4.3v3.3h-4.3zM24 12.7h3.2v1.8h-3.2zM-34.3 16.3h4.5v1.9h-4.5zM-24.3 16.3h4.5v2.5h-4.5zM-19.6 19.9h3.6v2.8h-3.6zM.4 19.9h3.3v2.9h-3.3zM25.4 19.9h4.5v2.9h-4.5zM-4.4 23.5h4.7v2.9h-4.7zM10.6 23.5h4v3.3h-4zM5.5 27.1h3.1v2.4h-3.1zM20.5 27.1h3.6v3.4h-3.6zM4.2 30.7h4.1v3.3h-4.1zM19.2 30.7h3.3v2.4h-3.3zM24.2 30.7h3.7v3.2h-3.7zM-11.2 34.3h4.2v2h-4.2zM13.8 34.3h4.2v2.1h-4.2zM18.4 45.1h4.1v3.4h-4.1z"/><path fill="#5e080e" d="M-23 -44.9h4.2v3.2h-4.2zM-24.3 -37.7h3v1.9h-3zM-14.7 -30.5h4.1v3h-4.1zM15.3 -30.5h4.8v1.9h-4.8zM25.3 -30.5h4.8v2.5h-4.8zM-18.1 -26.9h4.3v3.2h-4.3zM13.1 -23.3h3.3v2.9h-3.3zM-29.5 -19.7h4v3.1h-4zM-19.5 -19.7h3.4v2.5h-3.4zM.5 -19.7h4v3.2h-4zM24.2 -16.1h3.5v3h-3.5zM29.2 -16.1h4.4v2.4h-4.4zM6.4 -12.5h3.2v3h-3.2zM-3.2 -8.9h3.1v2.6h-3.1zM21.8 -8.9h4.3v3.1h-4.3zM-33.9 -5.3h2.9v3.1h-2.9zM16.1 -5.3h2.8v2.5h-2.8zM-28.2 1.9h4v2.9h-4zM-3.2 1.9h4.6v2.4h-4.6zM26.8 1.9h4.6v3.4h-4.6zM-33.6 9.1h4.4v2.5h-4.4zM36.4 9.1h4.3v2.8h-4.3zM-9.3 16.3h3.3v2.8h-3.3zM-4.6 19.9h4.5v3.1h-4.5zM25.5 27.1h3.8v2h-3.8zM14.2 30.7h3.9v3.3h-3.9zM-1.2 34.3h3.5v1.9h-3.5zM23 41.5h3.3v2.6h-3.3z"/></g></g>
<g id="s2"><g transform="translate(34.8 34.8) rotate(-20)"><path fill="#a80e18" d="M-18.5 -44.9h3.5v2.2h-3.5zM-14.8 -41.3h4.1v2.6h-4.1zM-7.3 -37.7h4.4v2.3h-4.4zM-23.4 -26.9h4.2v2.8h-4.2zM-18.4 -26.9h4.3v2.9h-4.3zM-3.4 -26.9h3.4v2.2h-3.4zM11.6 -26.9h4.2v2.8h-4.2zM-9 -23.3h4.2v3h-4.2zM1 -23.3h3.1v2.7h-3.1zM11 -23.3h3.8v2.6h-3.8zM23.1 -19.7h4v3.3h-4zM-30.9 -16.1h3.6v2h-3.6zM4.1 -16.1h2.8v2.6h-2.8zM-5 -12.5h3.7v2.9h-3.7zM-26.9 -8.9h4.4v3.4h-4.4zM-16.9 -8.9h3.4v2.1h-3.4zM3.1 -8.9h4.6v2.2h-4.6zM28.1 -8.9h4.5v3.1h-4.5zM-26.6 -5.3h2.9v3.3h-2.9zM-21.6 -5.3h4.6v2h-4.6zM-6.6 -5.3h3.9v3.1h-3.9zM28.4 -5.3h4.8v3h-4.8zM-34.5 1.9h4.7v2h-4.7zM-14.5 1.9h3.5v2.3h-3.5zM20.5 1.9h3.8v2.3h-3.8zM29.7 5.5h4.2v2.4h-4.2zM11.8 9.1h4.2v3h-4.2zM13 12.7h3.8v2.9h-3.8zM23 12.7h3.4v2.6h-3.4zM-8.2 19.9h2.9v1.8h-2.9zM-43.9 23.5h4.1v2.5h-4.1zM-38.9 23.5h4.9v2.4h-4.9zM-33.9 23.5h3.4v1.9h-3.4zM-28.9 23.5h3.6v2.1h-3.6zM-18.9 23.5h4.3v1.9h-4.3zM-19.8 30.7h3.3v2.7h-3.3zM25.2 30.7h4.4v1.9h-4.4z"/><path fill="#7e0a12" d="M-23.5 -44.9h4.3v2.4h-4.3zM-4.8 -41.3h3.6v2.7h-3.6zM8 -30.5h3.1v2.5h-3.1zM-24 -23.3h3.6v2.9h-3.6zM-15 -12.5h4.1v3.3h-4.1zM-11.6 -5.3h4.7v1.9h-4.7zM-39.5 1.9h3.5v3.1h-3.5zM-33.2 9.1h4.3v3.3h-4.3zM21.8 9.1h4.3v1.9h-4.3zM28 12.7h3.7v2.7h-3.7zM-39.7 16.3h4.9v2.6h-4.9zM-29.7 16.3h4.5v1.9h-4.5zM17 27.1h3.9v2.5h-3.9zM-12 34.3h4.6v3.3h-4.6zM-2 34.3h4.8v2.8h-4.8zM8 34.3h4.8v3.3h-4.8z"/><path fill="#c41822" d="M-17.3 -37.7h3.8v2.2h-3.8zM-10.7 -34.1h3.6v2.2h-3.6zM-5.7 -34.1h4.3v1.8h-4.3zM13 -30.5h4v2.7h-4zM18 -30.5h3.1v2.6h-3.1zM21 -23.3h3.5v2h-3.5zM29.1 -16.1h4.7v2.9h-4.7zM-35 -12.5h3.1v2.4h-3.1zM-20 -12.5h3v2.3h-3zM23 -1.7h3.6v2.7h-3.6zM5.5 1.9h4.3v3h-4.3zM-20.3 5.5h3.2v2.1h-3.2zM-15.3 5.5h3v2.3h-3zM-10.3 5.5h3.6v2.2h-3.6zM24.7 5.5h2.8v3.4h-2.8zM-27 12.7h4.6v3.1h-4.6zM16.1 23.5h4.2v2.3h-4.2zM.2 30.7h4.8v2h-4.8zM-7 34.3h4.3v2.9h-4.3zM6.3 37.9h3.4v3.1h-3.4zM21.3 37.9h3v2.8h-3z"/><path fill="#5e080e" d="M19.1 -16.1h2.8v3.1h-2.8zM-6.9 -8.9h4v2.9h-4zM13.1 -8.9h4.8v2.3h-4.8zM23.4 -5.3h4.6v2.5h-4.6zM-27 -1.7h4.2v1.8h-4.2zM33 -1.7h3.9v3h-3.9zM25.5 1.9h3.9v3.3h-3.9zM30.3 16.3h3.9v3.1h-3.9zM16.8 19.9h2.9v2h-2.9zM-23.9 23.5h4.4v2.1h-4.4zM1.1 23.5h4.7v2.3h-4.7zM-18 27.1h4.2v3h-4.2zM-8 27.1h3.4v1.8h-3.4zM-14.8 30.7h2.8v3.2h-2.8zM13 34.3h4.3v2.9h-4.3z"/></g></g>
<g id="r2"><path d="M0 3.1L20 3.5L45 3.3L69.5 2.5M42.7 5L40 18L37.6 31.4L41.4 41.4M41.4 41.4L45.5 51L50 60L69.5 62.5M41.4 41.4L36 50L31.4 56.5L25 69.5" stroke="#f4f4f4" stroke-width="1.04" fill="none" stroke-linejoin="round" stroke-linecap="round"/><path d="M2.5 5L2.5 52.7M7.5 8.5L25 6.5L42.7 5M7.5 25L20 30L30 36L41.4 41.4M31.4 56.5L20 53L12.5 51.4L0 50.2M37.6 31.4L50 33L69.5 31M50 60L45 69.5M62.7 5L67.8 12.5" stroke="#f4f4f4" stroke-width="0.91" fill="none" stroke-linejoin="round" stroke-linecap="round"/><path d="M50 33.5L58 40L69.5 43" stroke="#f4f4f4" stroke-width="0.78" fill="none" stroke-linejoin="round" stroke-linecap="round"/><path d="M7.5 26L14 7M10.4 26.6L16.9 6.8M13.3 27.1L19.8 6.6M16.2 27.6L22.7 6.4M19.1 28.2L25.6 6.2M22 28.8L28.5 6M24.9 29.3L31.4 5.8M27.8 29.9L34.3 5.6M30.7 30.4L37.2 5.4M33.6 30.9L40.1 5.2M36.5 31.5L43 5M5 56L11.5 31M7.9 56L14.4 31.8M10.8 56L17.3 32.6M13.7 56L20.2 33.4M16.6 56L23.1 34.2M19.5 56L26 35M22.4 56L28.9 35.8M25.3 56L31.8 36.6M28.2 56L34.7 37.4" stroke="#f4f4f4" stroke-width="0.59" fill="none" stroke-linejoin="round" stroke-linecap="round"/><path d="M49 9L67 8.5M50.5 11.6L67 11.1M49 14.2L67 13.7M50.5 16.8L67 16.3M49 19.4L67 18.9M50.5 22L67 21.5M49 24.6L67 24.1M50.5 27.2L67 26.7M51 8L49 28" stroke="#f4f4f4" stroke-width="0.65" fill="none" stroke-linejoin="round" stroke-linecap="round"/><path d="M58 8L57 29" stroke="#f4f4f4" stroke-width="0.52" fill="none" stroke-linejoin="round" stroke-linecap="round"/></g>
<g id="b3"><g transform="translate(34.8 34.8) rotate(40)"><path fill="#a80e18" d="M4.9 -52.1h4.6v2.1h-4.6zM-3.7 -44.9h3.6v2.9h-3.6zM1.3 -44.9h4.6v2.8h-4.6zM6.3 -44.9h3v3.3h-3zM11.3 -44.9h4.8v1.9h-4.8zM.3 -41.3h3.3v2.2h-3.3zM5.3 -41.3h4.5v2.5h-4.5zM10.3 -41.3h4.3v2.8h-4.3zM-13 -37.7h4v2.7h-4zM-8 -37.7h4.5v2.9h-4.5zM-3 -37.7h4.6v1.9h-4.6zM7 -37.7h4.9v2.4h-4.9zM-11.5 -34.1h4.1v2.2h-4.1zM-6.5 -34.1h4.2v2.8h-4.2zM8.5 -34.1h3.9v2.6h-3.9zM-21.8 -30.5h4.1v3.3h-4.1zM-6.8 -30.5h4.3v2.7h-4.3zM-23.4 -26.9h3.4v2.7h-3.4zM-18.4 -26.9h3.2v1.8h-3.2zM-13.4 -26.9h3.8v2.8h-3.8zM-3.4 -26.9h3.4v2.7h-3.4zM26.6 -26.9h3.3v2.2h-3.3zM-30.8 -23.3h4.5v2.9h-4.5zM-15.8 -23.3h3.7v3.1h-3.7zM4.2 -23.3h4.5v2.3h-4.5zM24.2 -23.3h4.2v3h-4.2zM-29.7 -19.7h3.6v2.1h-3.6zM-19.7 -19.7h3.5v3.3h-3.5zM-9.7 -19.7h4.8v2.3h-4.8zM.3 -19.7h2.8v1.8h-2.8zM25.3 -19.7h3.9v3.3h-3.9zM-39.4 -16.1h3.8v2.9h-3.8zM-24.4 -16.1h3.7v2.3h-3.7zM.6 -16.1h4.9v2.6h-4.9zM10.6 -16.1h3.5v2.2h-3.5zM25.6 -16.1h4.7v2.7h-4.7zM-39.5 -12.5h2.9v1.9h-2.9zM-14.5 -12.5h4.4v2.7h-4.4zM-9.5 -12.5h4.1v2.2h-4.1zM5.5 -12.5h3.7v1.9h-3.7zM15.5 -12.5h4.4v2.9h-4.4zM20.5 -12.5h3.5v3.1h-3.5zM25.5 -12.5h3.9v2.3h-3.9zM30.5 -12.5h3.3v3.2h-3.3zM-46.2 -8.9h3v3.3h-3zM-41.2 -8.9h4.8v2h-4.8zM-36.2 -8.9h2.8v2h-2.8zM-26.2 -8.9h2.8v3h-2.8zM18.8 -8.9h3.4v3h-3.4zM23.8 -8.9h3.4v2.3h-3.4zM-30.2 -5.3h3v2.9h-3zM-25.2 -5.3h3.3v2.2h-3.3zM-20.2 -5.3h4.1v1.9h-4.1zM-5.2 -5.3h2.8v2h-2.8zM-.2 -5.3h2.8v2.9h-2.8zM24.8 -5.3h3.1v3.1h-3.1zM-19 -1.7h3v2.1h-3zM31 -1.7h2.9v2.9h-2.9zM-38 1.9h3.1v3.1h-3.1zM-33 1.9h3.4v1.9h-3.4zM2 1.9h2.9v2.8h-2.9zM7 1.9h4.8v2.6h-4.8zM42 1.9h3.5v2.9h-3.5zM-20.6 5.5h3.8v2.6h-3.8zM-15.6 5.5h3.7v2.9h-3.7zM-.6 5.5h3.1v2.2h-3.1zM9.4 5.5h3.5v2.9h-3.5zM19.4 5.5h3v2.8h-3zM24.4 5.5h3.2v3.1h-3.2zM29.4 5.5h3.8v2.8h-3.8zM44.4 5.5h4.1v1.9h-4.1zM49.4 5.5h2.8v2.8h-2.8zM-34.8 9.1h4.3v2.7h-4.3zM-29.8 9.1h4.3v2.4h-4.3zM-19.8 9.1h4.7v3.4h-4.7zM-9.8 9.1h4.6v3h-4.6zM5.2 9.1h4.3v2.3h-4.3zM25.2 9.1h4.8v2.9h-4.8zM-32.8 12.7h2.9v2.1h-2.9zM-27.8 12.7h4.1v2.3h-4.1zM-7.8 12.7h4.1v3.2h-4.1zM2.2 12.7h3.7v1.9h-3.7zM-31.5 16.3h4.6v2.4h-4.6zM8.5 16.3h4.7v2.2h-4.7zM38.5 16.3h3.1v2.4h-3.1zM-29.1 19.9h4v1.8h-4zM.9 19.9h2.8v2.8h-2.8zM-26.2 23.5h3.7v2h-3.7zM-16.2 23.5h4.8v2.8h-4.8zM-6.2 23.5h4.1v2h-4.1zM-1.2 23.5h3v2.2h-3zM8.8 23.5h4.6v3.4h-4.6zM13.8 23.5h3.7v2.8h-3.7zM28.8 23.5h4.8v2.1h-4.8zM-18 27.1h3.6v2.2h-3.6zM-13 27.1h3.7v2.5h-3.7zM-3 27.1h3.8v3.1h-3.8zM2 27.1h3.7v2.1h-3.7zM22 27.1h4.2v2.3h-4.2zM6.9 30.7h4.4v2.7h-4.4zM11.9 30.7h4.6v1.8h-4.6zM10.6 34.3h4.6v2.4h-4.6zM15.6 34.3h3.5v3.3h-3.5zM-15.7 37.9h4.4v2.2h-4.4zM-.7 37.9h4.8v3.1h-4.8zM9.3 37.9h3.8v3.1h-3.8zM-9.4 41.5h3.8v1.9h-3.8zM5.6 41.5h3.3v2.1h-3.3zM-1.8 48.7h4v3h-4z"/><path fill="#7e0a12" d="M3 -48.5h2.8v2.1h-2.8zM2 -37.7h2.8v3h-2.8zM12 -37.7h3.5v3.1h-3.5zM17 -37.7h3.7v1.9h-3.7zM-16.5 -34.1h4.1v3.1h-4.1zM18.5 -34.1h3.3v3.3h-3.3zM3.2 -30.5h3.2v2.8h-3.2zM13.2 -30.5h4.7v3.3h-4.7zM23.2 -30.5h3.7v2.2h-3.7zM-8.4 -26.9h4.7v2.8h-4.7zM6.6 -26.9h2.8v1.9h-2.8zM-25.8 -23.3h3.7v3.2h-3.7zM-20.8 -23.3h4.2v3.2h-4.2zM-10.8 -23.3h4.5v2.6h-4.5zM-5.8 -23.3h2.8v2.2h-2.8zM-.8 -23.3h3.3v3.3h-3.3zM19.2 -23.3h3.8v1.8h-3.8zM10.3 -19.7h4.1v2.7h-4.1zM15.3 -19.7h3.6v3.3h-3.6zM20.3 -19.7h4.7v3.4h-4.7zM-34.4 -16.1h2.8v2.9h-2.8zM-29.4 -16.1h3.3v2.1h-3.3zM-19.4 -16.1h4.1v2.7h-4.1zM-4.4 -16.1h4v3.3h-4zM35.6 -16.1h4.7v2.7h-4.7zM-29.5 -12.5h2.8v2.4h-2.8zM-19.5 -12.5h3.1v2.6h-3.1zM.5 -12.5h2.8v2.1h-2.8zM10.5 -12.5h4.4v2h-4.4zM13.8 -8.9h3.6v2.9h-3.6zM28.8 -8.9h3v2.9h-3zM-50.2 -5.3h4.5v3.2h-4.5zM-35.2 -5.3h2.8v1.9h-2.8zM34.8 -5.3h3.7v2.7h-3.7zM-49 -1.7h4.8v3.1h-4.8zM-39 -1.7h4.6v2.5h-4.6zM-29 -1.7h3.7v2.2h-3.7zM-14 -1.7h3.9v3h-3.9zM1 -1.7h4.6v3.3h-4.6zM-18 1.9h4v2.1h-4zM22 1.9h2.8v2.8h-2.8zM32 1.9h4.5v2.8h-4.5zM-10.6 5.5h3.4v3h-3.4zM4.4 5.5h3.7v2.4h-3.7zM-39.8 9.1h3.1v3.4h-3.1zM-4.8 9.1h3v3.2h-3zM10.2 9.1h4.3v3.3h-4.3zM20.2 9.1h3.7v3.2h-3.7zM30.2 9.1h4.7v2.2h-4.7zM35.2 9.1h4.3v2.5h-4.3zM-12.8 12.7h4.2v2.6h-4.2zM42.2 12.7h3.4v2.1h-3.4zM-21.5 16.3h3.1v2.6h-3.1zM-1.5 16.3h2.8v1.9h-2.8zM3.5 16.3h4.7v2.2h-4.7zM18.5 16.3h3.4v1.8h-3.4zM-19.1 19.9h3.7v2.5h-3.7zM20.9 19.9h2.9v3.1h-2.9zM25.9 19.9h4.5v2.1h-4.5zM3.8 23.5h3.6v2.4h-3.6zM23.8 23.5h2.8v2.2h-2.8zM-8 27.1h4v2.5h-4zM7 27.1h4.8v2.9h-4.8zM12 27.1h3.7v2.8h-3.7zM-23.1 30.7h3.9v3.2h-3.9zM-13.1 30.7h4.3v3h-4.3zM-8.1 30.7h3v3.3h-3zM1.9 30.7h4.6v2.4h-4.6zM21.9 30.7h3.9v2.8h-3.9zM-19.4 34.3h3v1.9h-3zM-9.4 34.3h3.6v2.3h-3.6zM5.6 34.3h3.9v3.3h-3.9zM-5.7 37.9h4.6v2.7h-4.6zM-10.6 45.1h4v2.4h-4z"/><path fill="#c41822" d="M3.5 -34.1h2.9v2.6h-2.9zM-11.8 -30.5h3.3v2.7h-3.3zM18.2 -30.5h3.6v3.3h-3.6zM1.6 -26.9h4.5v1.8h-4.5zM21.6 -26.9h3.7v3.3h-3.7zM9.2 -23.3h4.2v2.3h-4.2zM29.2 -23.3h4.8v2.1h-4.8zM-14.7 -19.7h4.4v2.7h-4.4zM5.3 -19.7h4.1v2h-4.1zM30.3 -19.7h3.3v2.2h-3.3zM-14.4 -16.1h2.8v3h-2.8zM-9.4 -16.1h4.8v2.3h-4.8zM15.6 -16.1h4.9v2.7h-4.9zM20.6 -16.1h4.6v2.9h-4.6zM35.5 -12.5h4.8v2h-4.8zM-16.2 -8.9h3v2.4h-3zM-1.2 -8.9h3.6v3.2h-3.6zM8.8 -8.9h2.8v2.4h-2.8zM33.8 -8.9h3.7v2.7h-3.7zM-45.2 -5.3h4.5v2.7h-4.5zM-40.2 -5.3h3.2v1.9h-3.2zM-10.2 -5.3h3v2h-3zM4.8 -5.3h4.3v3h-4.3zM9.8 -5.3h3.1v2.8h-3.1zM14.8 -5.3h4.3v2.5h-4.3zM-24 -1.7h4.2v2.1h-4.2zM6 -1.7h4v3h-4zM16 -1.7h2.9v1.9h-2.9zM21 -1.7h4.6v2.1h-4.6zM41 -1.7h4.5v2.3h-4.5zM46 -1.7h3.5v2.4h-3.5zM-28 1.9h2.8v2.8h-2.8zM-23 1.9h3.8v2.8h-3.8zM-3 1.9h3.3v2.5h-3.3zM12 1.9h3.3v2.1h-3.3zM17 1.9h4.2v2.7h-4.2zM-40.6 5.5h3.9v2.6h-3.9zM-25.6 5.5h3.9v2h-3.9zM14.4 5.5h3.6v3h-3.6zM39.4 5.5h2.9v2.7h-2.9zM15.2 9.1h2.9v2.1h-2.9zM45.2 9.1h3.6v3h-3.6zM-37.8 12.7h4.2v2.7h-4.2zM12.2 12.7h4.4v3.3h-4.4zM37.2 12.7h3.4v2.4h-3.4zM-16.5 16.3h3v2.3h-3zM-6.5 16.3h4.2v3.1h-4.2zM13.5 16.3h3.2v1.9h-3.2zM28.5 16.3h3.5v3.3h-3.5zM-24.1 19.9h3.3v2.9h-3.3zM-14.1 19.9h4.9v2.1h-4.9zM-9.1 19.9h3.9v2.5h-3.9zM5.9 19.9h4v2.2h-4zM18.8 23.5h4.7v2.3h-4.7zM17 27.1h3.4v3.4h-3.4zM-18.1 30.7h3.9v2.3h-3.9zM16.9 30.7h4.3v2.1h-4.3zM-14.4 34.3h4.2v2.8h-4.2zM-4.4 34.3h4.6v2.2h-4.6zM-14.4 41.5h3.1v2.4h-3.1z"/><path fill="#5e080e" d="M-1.5 -34.1h4.5v2.2h-4.5zM13.5 -34.1h3.6v2.7h-3.6zM-1.8 -30.5h3.6v2h-3.6zM8.2 -30.5h3.4v2.6h-3.4zM-24.5 -12.5h4.7v2.4h-4.7zM-4.5 -12.5h3.7v3.4h-3.7zM-31.2 -8.9h3.5v1.9h-3.5zM-15.2 -5.3h3.3v3.3h-3.3zM29.8 -5.3h3.4v2.4h-3.4zM36 -1.7h4.5v2.4h-4.5zM-43 1.9h3.7v3.2h-3.7zM-8 1.9h4.2v2h-4.2zM27 1.9h3.8v2h-3.8zM-22.8 12.7h4.8v1.9h-4.8zM-17.8 12.7h4.1v2.4h-4.1zM-2.8 12.7h3.8v2.6h-3.8zM32.2 12.7h3.9v1.9h-3.9zM23.5 16.3h4.7v1.8h-4.7zM10.9 19.9h4.6v1.9h-4.6zM15.9 19.9h2.8v2.2h-2.8zM30.9 19.9h4.6v3.3h-4.6zM-21.2 23.5h4.4v2.7h-4.4zM-10.7 37.9h4.3v3.4h-4.3zM4.3 37.9h4.7v3.2h-4.7z"/></g></g>
<g id="s3"><g transform="translate(34.8 34.8) rotate(40)"><path fill="#a80e18" d="M-.1 -48.5h4.4v2.6h-4.4zM-5.1 -41.3h3v2.5h-3zM7.6 -37.7h4.4v1.9h-4.4zM3.6 -30.5h3.7v3.3h-3.7zM-29.1 -16.1h3v1.9h-3zM25.9 -16.1h4.2v2.1h-4.2zM-38.3 -12.5h4.8v3h-4.8zM-33.3 -12.5h4.3v2.4h-4.3zM-18.3 -12.5h2.9v1.9h-2.9zM1.7 -12.5h3.9v2.1h-3.9zM36.7 -12.5h3.1v2.1h-3.1zM-27.5 -8.9h4.1v2.3h-4.1zM22.5 -8.9h4.8v1.8h-4.8zM27.5 -8.9h3.5v2.6h-3.5zM-19.6 -1.7h3.4v2.7h-3.4zM-9.6 -1.7h4.4v2.4h-4.4zM-35.7 1.9h4.1v2.8h-4.1zM9.3 1.9h3.6v2.5h-3.6zM14.3 1.9h3.3v2.6h-3.3zM51 5.5h4.8v2.1h-4.8zM-20.6 12.7h3.8v2.4h-3.8zM-10.6 12.7h3.6v2.9h-3.6zM9.4 12.7h2.9v2.2h-2.9zM14.4 12.7h3.1v1.9h-3.1zM-20.3 19.9h2.9v2.4h-2.9zM-10.3 19.9h2.9v2.7h-2.9zM9.7 19.9h3.4v2.4h-3.4zM13.4 27.1h4.3v2.3h-4.3zM3.3 30.7h3.2v3.3h-3.2zM-9.2 34.3h3.8v2.7h-3.8zM2.5 37.9h3.6v2.4h-3.6zM-7.2 48.7h3.9v3h-3.9z"/><path fill="#7e0a12" d="M-14.7 -34.1h3.3v2.5h-3.3zM-16.4 -30.5h4.2v2.4h-4.2zM10.9 -26.9h3.3v2.8h-3.3zM-13.7 -23.3h4v3.3h-4zM1.3 -23.3h3.8v2.3h-3.8zM-29.4 -19.7h2.8v1.9h-2.8zM20.6 -19.7h3.6v2.2h-3.6zM6.7 -12.5h2.9v2.5h-2.9zM-34.6 -5.3h3.8v2.5h-3.8zM-9.6 -5.3h3.3v2.3h-3.3zM25.4 -5.3h3.5v3h-3.5zM-39.6 -1.7h3.2v2.8h-3.2zM-.7 1.9h3.5v2.5h-3.5zM-4 5.5h3.1v2.5h-3.1zM1 5.5h2.9v2.8h-2.9zM-21.4 9.1h3v2.2h-3zM8.6 9.1h3.2v3.2h-3.2zM4.4 12.7h2.9v2.1h-2.9zM-26.5 16.3h4.1v2.1h-4.1zM-21.5 16.3h4.1v3.1h-4.1zM-10.4 23.5h4.6v3h-4.6zM-16.6 27.1h2.8v3.1h-2.8zM12.5 37.9h4.5v3.3h-4.5zM-2.2 48.7h3.9v2.2h-3.9z"/><path fill="#c41822" d="M4.9 -48.5h4.3v2h-4.3zM-21.4 -30.5h2.9v3.3h-2.9zM-1.4 -30.5h3.2v2.5h-3.2zM-19.1 -26.9h3.6v2.6h-3.6zM10.6 -19.7h3.2v3.2h-3.2zM26.7 -12.5h4.3v2.8h-4.3zM-49.6 -5.3h2.9v2.9h-2.9zM5.4 -5.3h3.9v2.7h-3.9zM20.4 -5.3h3.2v2.3h-3.2zM-24 5.5h4.7v2.5h-4.7zM-9 5.5h3.2v1.8h-3.2zM21 5.5h4.5v2.6h-4.5zM13.6 9.1h4v2.1h-4zM18.6 9.1h4v2.3h-4zM13.5 16.3h4.7v3.2h-4.7zM-15.3 19.9h4.5v2.4h-4.5zM5.8 34.3h2.8v2.1h-2.8z"/><path fill="#5e080e" d="M-43.3 -12.5h2.8v3h-2.8zM-23.3 -12.5h3.5v2.7h-3.5zM31.7 -12.5h3.4v3.3h-3.4zM2.5 -8.9h4.8v1.9h-4.8zM31 5.5h3.9v2.7h-3.9zM19.4 12.7h2.8v1.9h-2.8zM-25.3 19.9h4.9v2.1h-4.9zM8.3 30.7h2.9v2.7h-2.9zM-3.6 45.1h2.8v2.9h-2.8z"/></g></g>
<g id="r3"><path d="M-70.6 -77.1L113.2 77.1" stroke="#f4f4f4" stroke-width="4.16" fill="none" stroke-linejoin="round" stroke-linecap="round"/><path d="M.4 -5.5L24.5 26.5M0 10.2L22.5 23.2M-51.9 -73.9L137.3 73.9M35.1 26.3L77.5 68.7M35.1 26.3L67.2 -12M-89.6 143.4L99.6 -4.4" stroke="#f4f4f4" stroke-width="1.95" fill="none" stroke-linejoin="round" stroke-linecap="round"/><path d="M-36.6 -73.9L152.6 73.9M-99.5 -36.1L99.5 98.1M-97.1 -24L97.1 117M-91.9 85.4L91.9 -68.8M21 23.5L33.2 .5M0 36.4L33.8 24.1M-70.8 141.7L120.8 -2.7M-49.8 141.7L141.8 -2.7" stroke="#f4f4f4" stroke-width="1.82" fill="none" stroke-linejoin="round" stroke-linecap="round"/><path d="M-94.6 -15.9L94.6 131.9M15 30L63.5 65.3M-33.8 141.7L157.8 -2.7M26.5 12L22.7 31.1L20 40L16.3 52.7L15 69.5" stroke="#f4f4f4" stroke-width="1.69" fill="none" stroke-linejoin="round" stroke-linecap="round"/><path d="M1.5 15.3L10.7 7.6M0 41.5L24.7 33.5M35.1 26.3L29 41L25 69.5M21 23.5L24.2 35L22 45" stroke="#f4f4f4" stroke-width="1.56" fill="none" stroke-linejoin="round" stroke-linecap="round"/><path d="M10 69.5L22.5 47.8M23.7 40.1L53.6 63.5M0 64L18.8 57.2" stroke="#f4f4f4" stroke-width="1.43" fill="none" stroke-linejoin="round" stroke-linecap="round"/><path d="M8 40L27.3 63" stroke="#f4f4f4" stroke-width="1.3" fill="none" stroke-linejoin="round" stroke-linecap="round"/><circle cx="34.5" cy="25.8" r="1.8" fill="none" stroke="#f4f4f4" stroke-width="1"/></g>
<g id="b4"><g transform="translate(34.8 34.8) rotate(0)"><path fill="#a80e18" d="M-9 -36.1h5v2.1h-5zM2 -36.1h3.8v3.5h-3.8zM24 -36.1h4.3v2.8h-4.3zM-34.2 -32.1h4.7v2.5h-4.7zM-23.2 -32.1h4.3v2.2h-4.3zM-17.7 -32.1h4.1v2.3h-4.1zM-1.2 -32.1h4.4v3.2h-4.4zM37.3 -32.1h4v2.2h-4zM-36.3 -28.1h4.2v3.3h-4.2zM-30.8 -28.1h4.2v3.7h-4.2zM-19.8 -28.1h4v3.6h-4zM-14.3 -28.1h4.8v2.8h-4.8zM35.2 -28.1h3.2v2.9h-3.2zM-35.8 -24.1h4.5v3.2h-4.5zM-13.8 -24.1h5.2v3.4h-5.2zM13.7 -24.1h3.7v3.5h-3.7zM24.7 -24.1h5.1v2.3h-5.1zM14.4 -20.1h4.3v3.2h-4.3zM19.9 -20.1h4v3.3h-4zM-11.5 -16.1h3.4v3.5h-3.4zM5 -16.1h3.6v3.1h-3.6zM32.5 -16.1h4.7v3.6h-4.7zM-24.8 -12.1h5.2v2.7h-5.2zM-8.3 -12.1h4.1v3.4h-4.1zM2.7 -12.1h4.3v2.8h-4.3zM-32.8 -8.1h4.7v3.4h-4.7zM-27.3 -8.1h4.4v2.4h-4.4zM-10.8 -8.1h4.5v3h-4.5zM11.2 -8.1h4.5v2.9h-4.5zM16.7 -8.1h4.3v3.2h-4.3zM27.7 -8.1h3.3v3.8h-3.3zM33.2 -8.1h3.4v2.5h-3.4zM-19.8 -4.1h4.1v2.9h-4.1zM-14.3 -4.1h3.2v2.2h-3.2zM7.7 -4.1h3.5v3.5h-3.5zM-29.9 -.1h3.5v2.4h-3.5zM-24.4 -.1h3.9v3.2h-3.9zM-18.9 -.1h5.2v2.8h-5.2zM3.1 -.1h5.2v3.5h-5.2zM8.6 -.1h4.7v2.4h-4.7zM14.1 -.1h5.1v2.6h-5.1zM36.1 -.1h4.1v2h-4.1zM-32.6 3.9h3.5v2.6h-3.5zM-27.1 3.9h4.8v3.4h-4.8zM-10.6 3.9h4.9v3.6h-4.9zM5.9 3.9h4.3v3.2h-4.3zM16.9 3.9h4.6v3.3h-4.6zM-26.4 7.9h4.6v2.9h-4.6zM-20.9 7.9h3.8v3.7h-3.8zM-15.4 7.9h4.9v2.5h-4.9zM-9.9 7.9h4.7v3.4h-4.7zM-4.4 7.9h3.3v3h-3.3zM1.1 7.9h3.4v2.2h-3.4zM12.1 7.9h3.6v2.7h-3.6zM17.6 7.9h3.4v3.7h-3.4zM23.1 7.9h3.5v2.6h-3.5zM-32.5 11.9h3.5v3.6h-3.5zM-16 11.9h3.9v2.7h-3.9zM-10.5 11.9h4.4v3.4h-4.4zM.5 11.9h5.1v2.2h-5.1zM33.5 11.9h4.9v3.2h-4.9zM-25.8 15.9h4.2v3.4h-4.2zM-20.3 15.9h3.5v3h-3.5zM-14.8 15.9h5.1v2.5h-5.1zM7.2 15.9h4.1v2.9h-4.1zM18.2 15.9h4.5v3.7h-4.5zM-25 19.9h3.8v2.3h-3.8zM19 19.9h3.2v2.8h-3.2zM30 19.9h3.5v2.1h-3.5zM-5.5 23.9h4.6v2.9h-4.6zM16.5 23.9h3.3v2.3h-3.3zM22 23.9h5.1v3.6h-5.1zM27.5 23.9h3.2v3.2h-3.2zM-11.3 27.9h3.5v2.1h-3.5zM5.2 27.9h4.2v2.1h-4.2zM27.2 27.9h4.6v2.2h-4.6zM-19.5 31.9h3.1v3.5h-3.1zM-3 31.9h3v2.9h-3zM2.5 31.9h4.6v3.3h-4.6zM8 31.9h3.5v2.5h-3.5zM13.5 31.9h3.8v2.1h-3.8zM30 31.9h3.5v3.3h-3.5zM-10.9 35.9h5.1v2.9h-5.1zM11.1 35.9h3.4v2.8h-3.4zM16.6 35.9h5.2v3.5h-5.2zM22.1 35.9h5.1v3.7h-5.1z"/><path fill="#7e0a12" d="M-25.5 -36.1h4.3v2.7h-4.3zM-20 -36.1h4v3h-4zM13 -36.1h3.9v2.4h-3.9zM29.5 -36.1h4.7v2.7h-4.7zM-28.7 -32.1h4v2.8h-4zM-6.7 -32.1h4.8v2.6h-4.8zM4.3 -32.1h3.5v2.6h-3.5zM20.8 -32.1h4.3v3.2h-4.3zM31.8 -32.1h4.4v2.5h-4.4zM-25.3 -28.1h3.9v2.5h-3.9zM13.2 -28.1h3.2v2.6h-3.2zM24.2 -28.1h3.3v3h-3.3zM29.7 -28.1h4.3v3.8h-4.3zM-8.3 -24.1h4.6v2.1h-4.6zM-2.8 -24.1h4v2.6h-4zM19.2 -24.1h5.3v3.5h-5.3zM-35.1 -20.1h4.9v3.5h-4.9zM-13.1 -20.1h3.8v2.8h-3.8zM25.4 -20.1h3.6v2.4h-3.6zM-17 -16.1h3.2v3.1h-3.2zM-6 -16.1h3.2v2h-3.2zM21.5 -16.1h3.6v2.2h-3.6zM27 -16.1h3.6v2.2h-3.6zM13.7 -12.1h4.2v3h-4.2zM19.2 -12.1h3.5v2.2h-3.5zM35.7 -12.1h4.3v3h-4.3zM5.7 -8.1h3.8v2.3h-3.8zM22.2 -8.1h3.5v3.3h-3.5zM-36.3 -4.1h3.3v2.1h-3.3zM-30.8 -4.1h4.9v3.1h-4.9zM2.2 -4.1h5.3v3.8h-5.3zM13.2 -4.1h5.1v2.6h-5.1zM-35.4 -.1h4.4v2.4h-4.4zM25.1 -.1h3.5v2h-3.5zM-21.6 3.9h5.1v3.5h-5.1zM.4 3.9h4.4v3h-4.4zM11.4 3.9h3.2v3.7h-3.2zM-31.9 7.9h4.4v3.4h-4.4zM-5 11.9h3.8v2.6h-3.8zM17 11.9h5.3v2.1h-5.3zM28 11.9h4v2.1h-4zM-31.3 15.9h5.3v2.7h-5.3zM-3.8 15.9h4.8v3.6h-4.8zM1.7 15.9h4v2.6h-4zM-19.5 19.9h4.4v2.5h-4.4zM-8.5 19.9h3.5v3.6h-3.5zM-3 19.9h4.4v3.4h-4.4zM8 19.9h4.9v2.5h-4.9zM13.5 19.9h3.8v3.5h-3.8zM24.5 19.9h4.5v3.2h-4.5zM33 23.9h4.2v3.8h-4.2zM-33.3 27.9h5.1v3.4h-5.1zM-22.3 27.9h4.2v2.6h-4.2zM-16.8 27.9h4.1v2.8h-4.1zM21.7 27.9h5.3v2.4h-5.3zM-36 31.9h3.9v3.8h-3.9zM-14 31.9h5.3v3.5h-5.3zM-27.4 35.9h3.9v2.2h-3.9zM-21.9 35.9h4.7v3.8h-4.7zM-5.4 35.9h4.2v2.5h-4.2zM.1 35.9h4.4v3.3h-4.4zM5.6 35.9h4.1v3h-4.1zM27.6 35.9h3.3v3.1h-3.3z"/><path fill="#c41822" d="M-36.5 -36.1h3.7v2.6h-3.7zM-14.5 -36.1h3.1v2.4h-3.1zM-3.5 -36.1h4.8v2.4h-4.8zM35 -36.1h3.3v3.5h-3.3zM-8.8 -28.1h4.7v3.2h-4.7zM-3.3 -28.1h5v2.7h-5zM7.7 -28.1h4v3.3h-4zM18.7 -28.1h4v3.6h-4zM-24.8 -24.1h3.2v3.6h-3.2zM2.7 -24.1h3.2v3h-3.2zM-29.6 -20.1h3.7v3.8h-3.7zM-18.6 -20.1h5.1v2.4h-5.1zM-2.1 -20.1h3.3v3.4h-3.3zM36.4 -20.1h3.2v2h-3.2zM-.5 -16.1h3.8v3.3h-3.8zM16 -16.1h5.1v2.5h-5.1zM-35.8 -12.1h4.8v2.4h-4.8zM-30.3 -12.1h4.3v3.6h-4.3zM-13.8 -12.1h3.7v3.8h-3.7zM-2.8 -12.1h5v3.1h-5zM24.7 -12.1h4.7v3.4h-4.7zM-16.3 -8.1h5.3v3h-5.3zM-5.3 -8.1h4.5v2.3h-4.5zM.2 -8.1h5.1v2.5h-5.1zM-3.3 -4.1h5v3.4h-5zM18.7 -4.1h3.1v2.4h-3.1zM29.7 -4.1h3.4v2.1h-3.4zM-13.4 -.1h5v2.2h-5zM-2.4 -.1h5.3v3.3h-5.3zM-16.1 3.9h3.6v3h-3.6zM34.1 7.9h4.2v2.9h-4.2zM22.5 11.9h3.5v2.7h-3.5zM23.7 15.9h3.6v3.3h-3.6zM34.7 15.9h3.5v3.2h-3.5zM-36 19.9h3.2v3.7h-3.2zM-14 19.9h3.2v3h-3.2zM-27.5 23.9h3.8v2.7h-3.8zM11 23.9h4.6v2.1h-4.6zM-.3 27.9h4.6v3.1h-4.6zM16.2 27.9h5.3v3h-5.3zM32.7 27.9h3.7v2.9h-3.7zM-25 31.9h4.2v2.2h-4.2zM-8.5 31.9h3.1v3.6h-3.1zM35.5 31.9h3.6v3.3h-3.6zM-32.9 35.9h3v3.2h-3z"/><path fill="#5e080e" d="M15.3 -32.1h4.6v2.4h-4.6zM26.3 -32.1h4.6v2h-4.6zM30.2 -24.1h4.2v3.4h-4.2zM35.7 -24.1h4.4v3.3h-4.4zM-28 -16.1h5.3v2.6h-5.3zM-25.3 -4.1h3.5v3.4h-3.5zM-8.8 -4.1h5.3v3.4h-5.3zM27.9 3.9h5.1v3.5h-5.1zM-27.8 27.9h4.8v2.3h-4.8zM33.1 35.9h4.6v3.8h-4.6z"/></g></g>
<g id="s4"><g transform="translate(34.8 34.8) rotate(0)"><path fill="#a80e18" d="M-.1 -36.1h4.9v2.3h-4.9zM-29.5 -32.1h4.4v2.5h-4.4zM-13 -32.1h5.2v3.6h-5.2zM-2 -32.1h4.6v2.2h-4.6zM25.5 -32.1h4.4v2.2h-4.4zM13.5 -24.1h4.7v2.9h-4.7zM30 -24.1h4.3v3.2h-4.3zM-28.7 -20.1h5v2.9h-5zM-36.8 -12.1h4.9v3.1h-4.9zM1.7 -12.1h4.2v3h-4.2zM7.2 -12.1h5.3v2.8h-5.3zM12.7 -12.1h4.4v3.7h-4.4zM-18.4 7.9h4.3v2.8h-4.3zM20.1 7.9h4.1v3.2h-4.1zM15.6 11.9h4.4v2.7h-4.4zM-30.2 15.9h3.7v2.5h-3.7zM-19.2 15.9h4.1v2.5h-4.1zM30.8 23.9h3.6v2.6h-3.6zM21.9 27.9h3.2v3.5h-3.2zM29.4 35.9h4.6v2.7h-4.6z"/><path fill="#7e0a12" d="M22.4 -28.1h5.1v2.4h-5.1zM-19.5 -24.1h3.2v2.7h-3.2zM-6.7 -20.1h3.4v2.1h-3.4zM-21 -16.1h4.5v2.8h-4.5zM-10 -16.1h3.2v3h-3.2zM23 -16.1h5.1v3.7h-5.1zM-31.3 -12.1h3.4v2.2h-3.4zM-26.8 -4.1h4.7v3.6h-4.7zM6.2 -4.1h3.3v3.3h-3.3zM17.2 -4.1h4.9v2.6h-4.9zM-3.3 -.1h3.7v2.5h-3.7zM18.7 -.1h4.5v3.4h-4.5zM-32.1 3.9h3.1v2.2h-3.1zM-12.9 7.9h3.3v3.1h-3.3zM22.2 19.9h5v3.5h-5zM-24.2 23.9h4.6v2.5h-4.6zM-22.1 27.9h3.1v3.1h-3.1zM8.9 31.9h3.4v2.7h-3.4zM-9.1 35.9h4.2v3.5h-4.2zM7.4 35.9h4.3v3.7h-4.3z"/><path fill="#c41822" d="M-5.6 -36.1h4v2.4h-4zM8 -24.1h3.8v3.1h-3.8zM4.3 -20.1h5v3h-5zM31.8 -20.1h3.5v2.7h-3.5zM12 -16.1h4.8v3.1h-4.8zM17.5 -16.1h5.2v2.8h-5.2zM34 -16.1h4.6v3.2h-4.6zM-14.3 -.1h5v2.2h-5zM2.2 -.1h3.5v2.5h-3.5zM6.4 3.9h4.7v2h-4.7zM-33.1 27.9h5v2.6h-5zM-18.6 31.9h4.1v2.3h-4.1zM23.9 35.9h4.3v3.7h-4.3z"/><path fill="#5e080e" d="M-10.6 -28.1h4.7v3.7h-4.7zM33.4 -28.1h4.2v2h-4.2zM9.8 -20.1h3.5v3h-3.5zM1 -16.1h3.1v2.3h-3.1zM-29 -8.1h4.9v3h-4.9zM26 -8.1h4v3.6h-4zM29.7 -.1h5.3v2.9h-5.3zM21.1 11.9h3.3v3.6h-3.3zM37.6 11.9h4.3v3.6h-4.3z"/></g></g>
<g id="r4"><path d="M23.3 0L24.3 69.5" stroke="#f4f4f4" stroke-width="2.6" fill="none" stroke-linejoin="round" stroke-linecap="round"/><path d="M0 35.1L25 35.3L48.5 35.8" stroke="#f4f4f4" stroke-width="1.56" fill="none" stroke-linejoin="round" stroke-linecap="round"/><path d="M48.5 37.5L58 39.5L69.5 42.5M1.3 12.5L20 12.5M2.5 62.7L23.8 62.7" stroke="#f4f4f4" stroke-width="1.17" fill="none" stroke-linejoin="round" stroke-linecap="round"/><path d="M64 0L57 17L50.5 32L46 43L42.5 52L41 58L39.5 62L37 64L24.3 64" stroke="#f4f4f4" stroke-width="1.3" fill="none" stroke-linejoin="round" stroke-linecap="round"/><path d="M41 58L55.2 66.5L60 69.5M1.9 11L1.9 33M2.2 40L2.2 69.5M40.8 15L40.8 35" stroke="#f4f4f4" stroke-width="1.04" fill="none" stroke-linejoin="round" stroke-linecap="round"/><path d="M26.3 13.3L29 13.3M31 13.4L34 13.4M36 13.5L39 13.5M41 13.6L44 13.6M46 13.7L49 13.7" stroke="#f4f4f4" stroke-width="0.91" fill="none" stroke-linejoin="round" stroke-linecap="round"/><path d="M0 1.3L69.5 1" stroke="#f4f4f4" stroke-width="0.78" fill="none" stroke-linejoin="round" stroke-linecap="round"/></g>
<g id="b5"><g transform="translate(34.8 34.8) rotate(-12)"><path fill="#a80e18" d="M-29.7 -38.5h3v2.9h-3zM-4.7 -38.5h3.4v2.4h-3.4zM-10.7 -35.1h3.8v2.3h-3.8zM14.3 -35.1h3.9v2h-3.9zM-27.8 -31.7h4.5v2.3h-4.5zM2.2 -31.7h3.2v1.8h-3.2zM12.2 -31.7h3.1v2h-3.1zM17.2 -31.7h2.9v1.7h-2.9zM-31.6 -28.3h4.2v2.1h-4.2zM-26.6 -28.3h4.3v2.5h-4.3zM-21.6 -28.3h4.1v2h-4.1zM-1.6 -28.3h3v2.2h-3zM18.4 -28.3h4.4v1.9h-4.4zM.7 -24.9h4.8v1.9h-4.8zM10.7 -24.9h4.7v1.7h-4.7zM15.7 -24.9h4.1v2.2h-4.1zM20.7 -24.9h4.5v2.3h-4.5zM40.7 -24.9h4.1v2.7h-4.1zM-32.1 -21.5h4.8v3h-4.8zM-22.1 -21.5h3.5v1.7h-3.5zM-7.1 -21.5h4.1v1.7h-4.1zM-2.1 -21.5h4.2v2.9h-4.2zM17.9 -21.5h2.8v3.1h-2.8zM32.9 -21.5h3.4v2.8h-3.4zM-33.3 -18.1h4.5v2.4h-4.5zM-8.3 -18.1h3.6v2.4h-3.6zM-3.3 -18.1h4.2v2h-4.2zM1.7 -18.1h4v2.3h-4zM6.7 -18.1h4.3v1.7h-4.3zM16.7 -18.1h3.3v2h-3.3zM31.7 -18.1h3.1v1.8h-3.1zM36.7 -18.1h4v2.6h-4zM41.7 -18.1h3.4v1.9h-3.4zM-30.2 -14.7h3.7v3.2h-3.7zM-15.2 -14.7h4.7v2.9h-4.7zM14.8 -14.7h2.9v2.4h-2.9zM34.8 -14.7h4.5v1.9h-4.5zM-22.5 -11.3h3.9v2.6h-3.9zM-17.5 -11.3h3.7v2.5h-3.7zM-7.5 -11.3h3v2.3h-3zM-2.5 -11.3h3.4v2.9h-3.4zM7.5 -11.3h3.5v2.4h-3.5zM17.5 -11.3h4.1v2.1h-4.1zM27.5 -11.3h3.5v3h-3.5zM-29.6 -7.9h3.6v2.1h-3.6zM-19.6 -7.9h3.2v2.9h-3.2zM-4.6 -7.9h3.3v2.4h-3.3zM15.4 -7.9h4v2.5h-4zM30.4 -7.9h4.3v2.8h-4.3zM-18.1 -4.5h4v2.1h-4zM-3.1 -4.5h4.7v2.9h-4.7zM-26.9 -1.1h3.4v2.6h-3.4zM-21.9 -1.1h3.4v1.8h-3.4zM-16.9 -1.1h3.4v1.9h-3.4zM-11.9 -1.1h3.4v2.2h-3.4zM-1.9 -1.1h4.1v2.9h-4.1zM3.1 -1.1h3.6v1.8h-3.6zM33.1 -1.1h4.1v2.4h-4.1zM38.1 -1.1h4.5v1.8h-4.5zM-37.7 2.3h4.5v2.1h-4.5zM-32.7 2.3h3.2v1.9h-3.2zM-22.7 2.3h4v2.9h-4zM-12.7 2.3h3.8v2.9h-3.8zM-2.7 2.3h3.7v2.1h-3.7zM12.3 2.3h4.4v2.3h-4.4zM-30 5.7h3.8v1.7h-3.8zM-10 5.7h3.4v1.7h-3.4zM-5 5.7h4.5v2.9h-4.5zM10 5.7h2.9v2.5h-2.9zM15 5.7h2.9v2.7h-2.9zM25 5.7h3.6v1.9h-3.6zM35 5.7h3.2v2h-3.2zM-35.7 9.1h2.9v2.8h-2.9zM-5.7 9.1h2.9v3.1h-2.9zM9.3 9.1h4.3v1.8h-4.3zM24.3 9.1h4.7v3.1h-4.7zM29.3 9.1h4.1v2h-4.1zM-31.6 12.5h4.8v2.5h-4.8zM-21.6 12.5h3.9v1.9h-3.9zM-16.6 12.5h4.2v1.8h-4.2zM3.4 12.5h3.2v2.2h-3.2zM13.4 12.5h4.3v1.8h-4.3zM18.4 12.5h3.9v3.1h-3.9zM23.4 12.5h3.4v3h-3.4zM-40.1 15.9h3.9v3h-3.9zM-25.1 15.9h4.8v2.8h-4.8zM-20.1 15.9h3.4v1.8h-3.4zM4.9 15.9h4.3v2.4h-4.3zM14.9 15.9h3.9v3h-3.9zM24.9 15.9h2.9v3h-2.9zM34.9 15.9h4.4v2.1h-4.4zM-41.2 19.3h4.3v2.3h-4.3zM3.8 19.3h4.8v2.3h-4.8zM18.8 19.3h4v2.5h-4zM28.8 19.3h3.4v2.3h-3.4zM-40.4 22.7h3.1v2.1h-3.1zM-30.4 22.7h4.4v2.2h-4.4zM-20.4 22.7h4.3v2.6h-4.3zM-15.4 22.7h3.5v3h-3.5zM-10.4 22.7h2.9v2.7h-2.9zM-.4 22.7h4.1v3.2h-4.1zM9.6 22.7h3.6v2.6h-3.6zM19.6 22.7h3.9v3h-3.9zM29.6 22.7h3.6v2.4h-3.6zM-30.5 26.1h3.7v2.8h-3.7zM-25.5 26.1h4.8v2.2h-4.8zM-.5 26.1h3.5v2.1h-3.5zM19.5 26.1h3.4v2.7h-3.4zM-28.1 29.5h4v1.7h-4zM-3.1 29.5h4.8v2h-4.8zM6.9 29.5h3.6v2.2h-3.6zM26.9 29.5h3.9v2.7h-3.9zM31.9 29.5h3v2.1h-3zM-25.1 32.9h4.3v2.7h-4.3zM-.1 32.9h3.5v2.4h-3.5zM14.9 32.9h4.6v2.4h-4.6zM-4.3 36.3h4.4v3h-4.4zM10.7 36.3h3.1v2.2h-3.1zM25.7 36.3h3v3h-3zM17.2 39.7h4.1v2.4h-4.1zM22.2 39.7h2.8v3h-2.8zM22.3 43.1h4.8v2.4h-4.8zM27.3 43.1h3.7v2.4h-3.7z"/><path fill="#7e0a12" d="M-24.7 -38.5h3.1v2.8h-3.1zM-14.7 -38.5h4.6v2.8h-4.6zM-25.7 -35.1h3.6v2.2h-3.6zM-20.7 -35.1h3v2.4h-3zM9.3 -35.1h4.7v2.6h-4.7zM-22.8 -31.7h3.1v1.9h-3.1zM-17.8 -31.7h3.1v2.8h-3.1zM22.2 -31.7h4.7v3h-4.7zM27.2 -31.7h4.7v2.1h-4.7zM-6.6 -28.3h4.5v2.3h-4.5zM8.4 -28.3h3.9v3h-3.9zM23.4 -28.3h3.6v2.8h-3.6zM-29.3 -24.9h3.9v3h-3.9zM-9.3 -24.9h3.7v1.8h-3.7zM5.7 -24.9h3.4v2.6h-3.4zM35.7 -24.9h4.7v3.1h-4.7zM-12.1 -21.5h3.4v2h-3.4zM12.9 -21.5h3v2.3h-3zM42.9 -21.5h3v3.1h-3zM-18.3 -18.1h4.4v2.6h-4.4zM-13.3 -18.1h3.8v2.3h-3.8zM11.7 -18.1h4.1v2.4h-4.1zM21.7 -18.1h4v2.2h-4zM-35.2 -14.7h3.1v2.6h-3.1zM-5.2 -14.7h2.9v2.8h-2.9zM9.8 -14.7h3.3v2.4h-3.3zM24.8 -14.7h3.9v2.7h-3.9zM39.8 -14.7h4.4v1.8h-4.4zM12.5 -11.3h3.4v2.1h-3.4zM37.5 -11.3h4.8v2.7h-4.8zM-34.6 -7.9h4.4v3h-4.4zM-9.6 -7.9h3.1v2.9h-3.1zM20.4 -7.9h3.8v2h-3.8zM25.4 -7.9h3.6v3.2h-3.6zM-33.1 -4.5h4.9v2.4h-4.9zM-23.1 -4.5h3.1v2.1h-3.1zM-8.1 -4.5h3.3v3h-3.3zM1.9 -4.5h4.7v2.9h-4.7zM6.9 -4.5h2.9v2.8h-2.9zM16.9 -4.5h3.6v2.1h-3.6zM26.9 -4.5h4.6v2.7h-4.6zM-36.9 -1.1h4.3v3.1h-4.3zM13.1 -1.1h4.7v1.9h-4.7zM18.1 -1.1h3.3v3.1h-3.3zM28.1 -1.1h4.5v2.7h-4.5zM-27.7 2.3h4.7v2.4h-4.7zM-17.7 2.3h3.9v2h-3.9zM-7.7 2.3h4v2.7h-4zM2.3 2.3h4.4v1.9h-4.4zM7.3 2.3h4.1v2.8h-4.1zM17.3 2.3h3v1.9h-3zM-35 5.7h3.5v1.9h-3.5zM5 5.7h4.7v2.2h-4.7zM34.3 9.1h3.8v3.2h-3.8zM-36.6 12.5h3.3v2.7h-3.3zM-26.6 12.5h3.1v1.9h-3.1zM-11.6 12.5h4v2.3h-4zM-6.6 12.5h4.8v2.7h-4.8zM-1.6 12.5h4.8v2.2h-4.8zM8.4 12.5h4.3v2.6h-4.3zM28.4 12.5h3.9v2.4h-3.9zM-30.1 15.9h3v2.5h-3zM-5.1 15.9h4.5v3h-4.5zM-.1 15.9h4.3v2.1h-4.3zM9.9 15.9h4.7v1.7h-4.7zM19.9 15.9h4v2.1h-4zM-31.2 19.3h2.8v2h-2.8zM-16.2 19.3h4.1v2.8h-4.1zM8.8 19.3h4.5v2.8h-4.5zM13.8 19.3h4.2v2.8h-4.2zM23.8 19.3h4.1v1.9h-4.1zM33.8 19.3h3.3v2.3h-3.3zM14.6 22.7h3.7v2.5h-3.7zM-40.5 26.1h3.1v2.1h-3.1zM-20.5 26.1h2.9v2.4h-2.9zM-10.5 26.1h3.6v2.1h-3.6zM9.5 26.1h4.2v1.8h-4.2zM14.5 26.1h4.3v2.8h-4.3zM24.5 26.1h3.9v1.9h-3.9zM-33.1 29.5h4.6v2.5h-4.6zM-8.1 29.5h2.8v2.7h-2.8zM19.9 32.9h4.3v2.1h-4.3zM24.9 32.9h4.9v3h-4.9zM-9.3 36.3h3.8v1.8h-3.8zM.7 36.3h4.2v3h-4.2zM15.7 36.3h3.4v2.5h-3.4zM7.2 39.7h4.1v2.7h-4.1zM12.2 39.7h4v2.8h-4z"/><path fill="#c41822" d="M-24.9 -41.9h4.6v2.5h-4.6zM-30.7 -35.1h4.7v3.2h-4.7zM-15.7 -35.1h4v1.8h-4zM4.3 -35.1h4.7v2.9h-4.7zM-7.8 -31.7h4v1.8h-4zM7.2 -31.7h3.3v1.8h-3.3zM32.2 -31.7h3.6v2h-3.6zM33.4 -28.3h4.8v2.9h-4.8zM43.4 -28.3h3.7v2.9h-3.7zM-14.3 -24.9h3.6v2.1h-3.6zM2.9 -21.5h3.3v2.7h-3.3zM7.9 -21.5h2.9v2.2h-2.9zM-28.3 -18.1h4v3.1h-4zM-20.2 -14.7h4.8v3.1h-4.8zM-10.2 -14.7h3.9v1.9h-3.9zM4.8 -14.7h3.2v2.1h-3.2zM-32.5 -11.3h3.7v2.6h-3.7zM-27.5 -11.3h3.7v2.8h-3.7zM-12.5 -11.3h3.6v2.9h-3.6zM32.5 -11.3h4.6v3.1h-4.6zM-24.6 -7.9h3.7v2.3h-3.7zM5.4 -7.9h3.2v2.5h-3.2zM10.4 -7.9h4.3v2.7h-4.3zM-28.1 -4.5h3.9v2.1h-3.9zM31.9 -4.5h4.6v2h-4.6zM36.9 -4.5h4.3v2.1h-4.3zM-31.9 -1.1h4.2v2.4h-4.2zM-6.9 -1.1h3.8v2.4h-3.8zM23.1 -1.1h2.9v2.7h-2.9zM27.3 2.3h4v2.4h-4zM-20 5.7h3.2v1.9h-3.2zM-15 5.7h3.4v2.4h-3.4zM0 5.7h4.8v3h-4.8zM-20.7 9.1h4.7v2.5h-4.7zM-15.7 9.1h4.6v3h-4.6zM-10.7 9.1h3v3h-3zM-.7 9.1h3.7v1.8h-3.7zM19.3 9.1h4.3v2.9h-4.3zM-26.2 19.3h3.4v2.3h-3.4zM-21.2 19.3h2.9v2.5h-2.9zM24.6 22.7h3.6v2.7h-3.6zM-35.5 26.1h3.3v2.8h-3.3zM-5.5 26.1h3v2.7h-3zM29.5 26.1h3.6v3.1h-3.6zM-13.1 29.5h4.9v2.4h-4.9zM11.9 29.5h4.1v2.8h-4.1zM21.9 29.5h4.4v2.7h-4.4zM-15.1 32.9h3.9v2.8h-3.9zM4.9 32.9h3.7v2.2h-3.7zM29.9 32.9h2.8v2.8h-2.8zM20.7 36.3h3.3v2.9h-3.3z"/><path fill="#5e080e" d="M-19.7 -38.5h3.9v3h-3.9zM-12.8 -31.7h3v2.8h-3zM-2.8 -31.7h4.4v1.8h-4.4zM-11.6 -28.3h3.9v2.2h-3.9zM-19.3 -24.9h4.5v1.8h-4.5zM-4.3 -24.9h4.6v2.2h-4.6zM30.7 -24.9h4.6v2.5h-4.6zM-27.1 -21.5h3.3v2.9h-3.3zM-17.1 -21.5h4.1v2.6h-4.1zM27.9 -21.5h3.1v2h-3.1zM-25.2 -14.7h3.3v2.1h-3.3zM-.2 -14.7h2.9v2.3h-2.9zM2.5 -11.3h4.4v2.9h-4.4zM-14.6 -7.9h3.2v2.5h-3.2zM35.4 -7.9h4.7v2.2h-4.7zM21.9 -4.5h4v2.2h-4zM8.1 -1.1h3.5v2.9h-3.5zM-25 5.7h3.2v2.5h-3.2zM20 5.7h4.1v2.8h-4.1zM30 5.7h3.1v2.9h-3.1zM-30.7 9.1h4.8v2.5h-4.8zM4.3 9.1h3.8v2.6h-3.8zM33.4 12.5h3.6v2.6h-3.6zM29.9 15.9h4.7v2.4h-4.7zM-36.2 19.3h4.7v3.1h-4.7zM-5.4 22.7h3.8v2.4h-3.8zM-15.5 26.1h2.8v3.1h-2.8zM-23.1 29.5h3.4v2.1h-3.4zM-18.1 29.5h3v2.5h-3zM1.9 29.5h4.5v1.8h-4.5zM5.7 36.3h3.6v2.5h-3.6zM27.2 39.7h4.2v2.9h-4.2z"/></g></g>
<g id="s5"><g transform="translate(34.8 34.8) rotate(-12)"><path fill="#a80e18" d="M3.8 -35.1h3.5v2.3h-3.5zM7.9 -24.9h3.9v2.6h-3.9zM13.4 -21.5h4.5v1.8h-4.5zM-27.3 -18.1h2.9v3h-2.9zM12.7 -18.1h3.3v3.2h-3.3zM2.1 -14.7h3.4v2.2h-3.4zM27.6 -11.3h3.4v2.6h-3.4zM-20.9 -7.9h4.1v2h-4.1zM-21 2.3h3.2v1.8h-3.2zM-6 2.3h3.3v1.9h-3.3zM14 2.3h3.7v2.5h-3.7zM-30.6 5.7h3.7v1.8h-3.7zM-20.6 5.7h3.4v2.2h-3.4zM-5.6 5.7h3.6v2.6h-3.6zM4.4 5.7h4.5v2h-4.5zM34.4 5.7h4.4v2.8h-4.4zM32 9.1h4.1v1.7h-4.1zM-19.8 15.9h3.7v3h-3.7zM-28.5 19.3h4.1v3.1h-4.1zM6.5 19.3h3.9v1.8h-3.9zM11.5 19.3h4.6v2.1h-4.6zM26.5 19.3h4.2v3.2h-4.2zM-31.9 26.1h4.4v1.9h-4.4zM-6.9 26.1h4.7v1.7h-4.7zM8.1 26.1h3.6v2h-3.6zM-.9 36.3h2.8v2.2h-2.8zM14.1 36.3h3.9v2.2h-3.9zM29 43.1h3.2v2.4h-3.2z"/><path fill="#7e0a12" d="M-26.1 -38.5h3.2v1.7h-3.2zM-1.1 -38.5h3.5v1.7h-3.5zM8.8 -35.1h3.4v2.3h-3.4zM-22.9 -31.7h3.4v2h-3.4zM-7.9 -31.7h4.4v2.6h-4.4zM27.1 -31.7h4.6v3.2h-4.6zM-26.5 -28.3h4.1v2.1h-4.1zM-27.1 -24.9h3.3v2.6h-3.3zM32.9 -24.9h3.3v2.2h-3.3zM-11.6 -21.5h4.3v2.9h-4.3zM28.4 -21.5h4.7v2h-4.7zM38.4 -21.5h4.4v2.7h-4.4zM-25.9 -7.9h4.7v2.7h-4.7zM-24.8 -4.5h3.5v2.9h-3.5zM-9.8 -4.5h3.9v2.4h-3.9zM-1.3 -1.1h2.8v2.7h-2.8zM18.7 -1.1h4v3.1h-4zM-16 2.3h4.3v2h-4.3zM-25.6 5.7h3.5v2.8h-3.5zM-15.6 5.7h4.8v2.9h-4.8zM-13 9.1h4.3v2.7h-4.3zM-12.9 12.5h4v1.9h-4zM-38.5 19.3h3v2.3h-3zM-9.9 29.5h3.1v2.8h-3.1zM5.1 29.5h2.9v2.1h-2.9zM14.9 39.7h4.5v2.3h-4.5zM24.9 39.7h4v2.5h-4zM29.9 39.7h4.7v2.2h-4.7z"/><path fill="#c41822" d="M-11.2 -35.1h3.1v2.1h-3.1zM7.1 -31.7h3.2v2.4h-3.2zM33.4 -21.5h3.1v2.4h-3.1zM-32.9 -14.7h3.4v2.9h-3.4zM17.1 -14.7h4.7v2.5h-4.7zM-19.8 -4.5h3.1v3h-3.1zM10.2 -4.5h2.8v2h-2.8zM-26.3 -1.1h3.3v2.1h-3.3zM-10.6 5.7h3.8v2.9h-3.8zM-33 9.1h3.1v2.4h-3.1zM27.1 12.5h3.3v2.8h-3.3zM-14.8 15.9h3.5v2.2h-3.5zM13.1 26.1h3v3h-3zM23.1 26.1h4.4v2.5h-4.4zM-2.2 32.9h4.2v3h-4.2zM2.8 32.9h4.2v2h-4.2z"/><path fill="#5e080e" d="M-26.2 -35.1h4.7v2.4h-4.7zM-8 9.1h3.6v3.1h-3.6zM-37.9 12.5h4.1v2h-4.1zM-5.9 36.3h2.8v2.9h-2.8zM19.1 36.3h3.7v2.5h-3.7zM24 43.1h3.5v1.8h-3.5z"/></g></g>
<g id="r5"><path d="M51.4 0L61.5 69.5M54.6 0L65.2 69.5M23.8 18.8L25 12.5L30 0M0 47.7L20 42.5L55.2 31.4" stroke="#f4f4f4" stroke-width="1.56" fill="none" stroke-linejoin="round" stroke-linecap="round"/><path d="M0 23.2L23.8 18.8L26.3 20.7L55.2 15.7L69.5 13.8M0 62L25 61L49 60.2L55 57L59 52.7" stroke="#f4f4f4" stroke-width="1.69" fill="none" stroke-linejoin="round" stroke-linecap="round"/><path d="M12 22L20 41.4M10 44L20 60.2" stroke="#f4f4f4" stroke-width="1.43" fill="none" stroke-linejoin="round" stroke-linecap="round"/><path d="M45.2 17.6L47.7 33.2" stroke="#f4f4f4" stroke-width="1.3" fill="none" stroke-linejoin="round" stroke-linecap="round"/></g>
</defs>
<g transform="translate(19 342)" clip-path="url(#tc)"><g filter="url(#bl)"><rect width="69.5" height="69.5" fill="#060606"/><use href="#b0"/><path fill="#0c870c" d="M54 0L69.5 0L69.5 11L63 10L57 7ZM42.5 7L40.5 8.8L38.9 10.5L35.5 11L34.6 8.6L31.9 6.7L35.5 5.7L37.6 5.1L40.7 5ZM45.5 12.4L47.3 10.7L49.6 10.9L51.4 11.9L51.5 13.9L50.6 15.2L49.6 17.9L47.6 16.1L46.1 14.8ZM68.8 17.6L69.7 21.1L70.4 25.5L69.5 31.2L66.8 32.5L65.5 27.2L63.5 23.1L64.9 17.9L66.8 13.9ZM26 36.7L23.1 37.5L20 36.4L20.9 34.5L20.9 32.1L25.2 32.9L29.5 32.3L29.9 34.7L29.9 36.7ZM12.9 39.1L11.7 38.3L9.7 37.4L10.4 35.3L12.4 34.9L14.3 34L15.4 35.8L14.7 37.4L14.8 39.5ZM10.5 25.3L9.3 25.8L8.7 24.8L7.7 23.6L8.9 22.6L10 22.3L11.3 22.4L11.3 23.8L11.2 24.7Z"/><use href="#s0" clip-path="url(#g00)"/><use href="#r0"/></g></g>
<g transform="translate(105 342)" clip-path="url(#tc)"><g filter="url(#bl)"><rect width="69.5" height="69.5" fill="#060606"/><use href="#b0"/><path fill="#0c870c" d="M54 0L69.5 0L69.5 11L63 10L57 7ZM33.8 10.8L33.6 8L34.5 6.3L35.4 3.6L39 4.3L40.3 6.3L43.2 8.1L40.8 10.2L37.6 11.4ZM49.4 16L47.1 17.2L46.6 14.7L45.8 12.7L47.4 11.1L49.6 10.1L50.9 12.2L51.7 13.8L51.1 15.5ZM70.9 22.9L69.7 27.3L67.9 27.9L65.5 31.6L64 26.2L65.2 21L66.2 17.9L67.8 18.1L70.7 16.4ZM22.8 33L26 31.6L27.9 33.6L30.2 35L29.1 36.8L25.9 37.6L22.5 37.5L20.9 35.9L20.4 34.1ZM13.8 38.7L12.6 38.6L10.6 38.7L10.7 36.8L11.5 35.5L12.8 34.4L14.2 35.3L15.1 36.4L15.1 38ZM10.6 22.3L11.6 23.1L11.6 24.3L10.9 25.1L10 26.3L8.4 25.9L8.1 24.3L8.3 23L9.4 22.2ZM21.5 35.3L17.8 34.9L14.9 33.5L13.5 31L16.6 29.1L20.5 28.7L25.8 28.5L28.2 31.5L24.3 33.8ZM14.9 19.7L16.2 20.8L16.6 22.5L15.7 24.1L13.9 25L12.8 23.3L12.3 22.3L12.6 21.1L13.1 19.4Z"/><use href="#s0" clip-path="url(#g01)"/><path fill="#f07050" d="M13.2 14.8L11.4 14.5L11.7 13.3L13 12.7L14.5 12.8L16.1 13L15.4 14.1L15.4 14.9L14.2 15.4ZM22.5 27.3L23.1 26L22.7 24.8L24.6 24.4L26.7 24.3L28.1 25.3L27.9 26.7L26.6 27.7L24.4 28ZM25.6 28L26.6 27.9L27.5 27.3L28.1 28L28.6 28.6L27.7 29L27.1 29.8L25.8 29.5L25.9 28.7Z"/><use href="#r0"/></g></g>
<g transform="translate(191 342)" clip-path="url(#tc)"><g filter="url(#bl)"><rect width="69.5" height="69.5" fill="#060606"/><use href="#b0"/><path fill="#0c870c" d="M54 0L69.5 0L69.5 11L63 10L57 7ZM37.1 5.2L40.2 4.5L42.8 6.3L42.3 8.9L39.4 10.1L36.8 9.8L33.3 9.8L33.8 7.4L33.9 5.1ZM49 17.2L47 16.1L46.4 14.2L46.3 12.2L47.7 10L50.3 10.3L52.4 11.9L51.6 14.3L50.5 15.6ZM71 19.8L69.8 25L68.7 27.7L67.2 28L64.9 28.3L64.8 23.1L64.9 17.8L67 17.1L69.1 16.4ZM19.5 36.7L19.8 34.5L22.1 33.1L25 32.2L28.3 32.8L28.2 34.7L28.1 36L27 38.1L23.7 37ZM11.3 36.9L11.6 35.8L12.7 34.9L14.2 35.1L16.1 36L15.8 38.1L13.9 38.7L12.6 38.7L10.7 38.8ZM9.4 26.3L8.2 25.4L8.3 23.9L8.3 22.4L9.8 22.1L10.9 22.7L11.4 23.6L11.5 24.7L10.7 25.4ZM37.6 6.7L43.3 4L45.4 9.3L46.9 12.9L44.1 16L40.1 17.7L36.7 15.4L31.1 13.4L34.4 9.4ZM51.7 18.8L51.8 15.6L53.9 12.4L57.3 14.3L60.9 15.1L62.5 19.1L59.3 21.8L56 23L52.9 21.8ZM11.4 24.4L9.2 25.4L6.3 25.7L5.4 23.9L5.4 22.6L5.6 20.9L8.1 20.7L10.4 21.2L12.8 22.5ZM27.4 34.1L31 34L32.3 35.8L31.6 37.6L28 37.9L24.3 38.9L22.6 37L21.7 35.3L23.6 33.5Z"/><use href="#s0" clip-path="url(#g02)"/><path fill="#f07050" d="M26.2 26L28.1 26L28.6 26.9L28.8 28L26.5 28L24.3 28.8L23.5 27.5L23 26.6L24.6 26ZM31.5 31.1L30.1 31L29 31L28.2 30.4L28.2 29.4L29.3 28.9L30.4 29L31.7 29.1L31.5 30.1Z"/><use href="#r0"/></g></g>
<g transform="translate(276.5 342)" clip-path="url(#tc)"><g filter="url(#bl)"><rect width="69.5" height="69.5" fill="#060606"/><use href="#b0"/><path fill="#0c870c" d="M54 0L69.5 0L69.5 11L63 10L57 7ZM34 9.3L33.2 7.3L33.4 4.6L37 4.1L39.4 5.5L42.6 6.5L40.5 8.5L39.2 10.1L36.2 11.2ZM46.6 15.3L46.7 13.5L46.8 11.4L48.9 10.3L51.4 10.6L51.9 13.2L51.4 15.1L50.5 17.5L47.8 17.5ZM70.6 18.8L70.9 24.5L69.3 28.2L67.5 30.1L66 27.1L64.2 24.3L64.1 18.1L66.7 17.4L68.5 16.7ZM22 34.2L22.6 31.9L26.2 32.9L30.2 33.1L30.5 35.4L29.5 37.7L25.2 37.1L21.5 37.6L20.4 35.6ZM12 40.2L11.3 38.1L10.9 36.8L11.7 35.6L12.9 34.7L14.2 35.4L15.1 36.5L14.6 37.8L14.2 39.7ZM8.2 24.2L8.8 23.2L9.6 22.6L10.7 22.5L11.8 23.2L11.5 24.4L11.3 25.8L9.8 26.5L8.5 25.6ZM44.6 9.5L47.9 12.6L44.2 15.5L40.4 16.2L35.1 17.5L35.7 12.9L33.9 9.6L37.8 8L42.1 6.1ZM7 21.6L8.1 24.5L8.3 26.8L7.7 29.7L4.7 30.4L1.2 29.9L1.6 26.4L2 24L3.9 22ZM17.8 40.8L18.6 39.1L19.8 37.1L22.7 37.8L24.6 38.7L26.9 40.2L24.3 41.4L22.5 42.9L19.9 42.1ZM31.5 21.5L30.2 19.4L28.8 17.1L30.5 14.7L33.2 13.3L35.9 14.9L36.1 17.6L36.6 20.3L34.3 22.2Z"/><use href="#s0" clip-path="url(#g03)"/><path fill="#f07050" d="M25.4 25.2L26.7 24.9L28.5 24.7L29.2 25.6L29.1 26.5L27.9 27L26.5 27.3L25.2 26.8L23.6 26ZM28.7 32.6L27.7 32L28.6 31.4L29.4 30.3L31 31L32.5 31.5L32.4 32.4L31.4 33.2L29.5 33.7ZM39.9 34.7L39.2 35.9L37.8 36.6L36 36.6L34.4 35.9L35 34.7L35.7 33.9L37.1 33.9L38.9 33.7ZM11 45.8L11.6 47L11 48.3L9.4 48.9L8.1 48L6.5 47.6L7.6 46.6L8.4 46.1L9.3 45.9Z"/><use href="#r0"/></g></g>
<g transform="translate(363 342)" clip-path="url(#tc)"><g filter="url(#bl)"><rect width="69.5" height="69.5" fill="#060606"/><use href="#b0"/><path fill="#0c870c" d="M54 0L69.5 0L69.5 11L63 10L57 7ZM37.4 11.6L35.4 9.2L32.2 8.1L34.2 6.1L35.6 3.6L39 4.8L42.7 5.5L41.3 8L39.6 9.4ZM49.7 16.5L48 15.8L47 14.7L46.3 13L47.5 11.6L49.3 10.8L51.6 11.3L51.2 13.6L51.1 15.3ZM69 27.9L67.3 32.1L64.8 29.9L63.8 24L65.8 20.3L66.3 13.6L68.4 17.8L70.7 19.2L70 24.4ZM28.4 36L26.2 36.7L23.3 37.8L21.8 36.1L21.3 34.7L21.6 32.9L24.9 32.7L28.3 32.7L31 34.3ZM10.7 36.3L11.3 34.5L13.3 34.4L15.2 34.9L15.6 36.8L15.4 38.8L13.4 38.6L11.5 39.9L10.9 37.9ZM10.7 22.9L12.3 23.3L12 24.8L11.1 26.1L9.6 25.8L8.9 24.8L8.5 23.9L8.7 22.8L9.8 22.3ZM36.6 10.7L36.4 8.8L37.3 5.6L41.3 6.3L43.9 7.9L43.6 10.2L43.3 12.5L40.5 14L37.8 12.4ZM15.7 25.1L17.7 24.2L19.9 24.7L21.9 26.2L22.6 28.8L20 30.6L17.3 29L13.9 29.3L13.2 26.6ZM29.6 24L27.1 24L26.2 22.1L27.3 20.3L29.4 19.7L31.2 20.2L33.1 21L32.2 22.6L32 24.7Z"/><use href="#s0" clip-path="url(#g04)"/><path fill="#f07050" d="M26.3 23.7L27 24.7L26.7 25.8L25.4 25.8L24.4 26.4L23.3 25.8L23.8 24.9L24 24.1L25 24ZM38.9 30.5L40.2 31.1L41.2 31.2L41.3 32L41.5 33L40.3 33.4L39.4 32.9L38.7 32.4L38.5 31.6ZM46.1 33.5L46.7 34.2L46.1 35L45 34.9L44.1 34.9L44 34.2L43.7 33.5L44.3 32.7L45.4 33Z"/><use href="#r0"/></g></g>
<g transform="translate(449 342)" clip-path="url(#tc)"><g filter="url(#bl)"><rect width="69.5" height="69.5" fill="#060606"/><use href="#b0"/><path fill="#0c870c" d="M54 0L69.5 0L69.5 11L63 10L57 7ZM37.8 5.3L40.7 5.2L40.7 7.3L40.2 8.9L38.4 9.9L35.4 10.7L33.8 8.7L32.8 6.6L34.5 4.5ZM45.9 16.1L46.6 13.7L47 12L48.7 11.3L50.8 10.9L51.3 13.1L52.4 15.2L50 15.7L48.3 16.8ZM66.6 29L65.6 25.7L65.4 22.2L66.1 19L67.5 16.6L69.7 16.7L70.3 21.8L69.3 25.4L68.9 32ZM28.1 36.1L26.7 37.9L22.9 37.8L19.5 36.6L19.1 34.3L22.5 33.2L25.2 32.2L28 33.2L31.2 34.6ZM15.4 36.4L15.3 38.1L14.2 39.8L12.3 39.6L10.3 38.8L10.5 36.7L10.7 34.6L12.8 34.6L14.8 34.6ZM11.2 22.2L11.5 23.5L11.8 24.8L10.6 25.1L9.7 25.4L8.1 25.4L8.5 23.9L8.3 22.4L9.7 21.9ZM26.6 20.6L30.9 20.9L34.1 22.4L36.1 25L33.7 27.3L31.5 31.3L26.2 29.9L23.3 26.9L22.3 22.9ZM12 29.7L10.5 31L8.1 31.3L7.2 29L7.6 27.1L8.3 25.1L10.6 24.5L12.9 25.5L12.6 28ZM41.5 15.5L44.2 14.9L46.5 14.8L48.9 16.2L47.9 18.8L46.7 20.5L44.7 21.4L42 20.9L41.1 18.3ZM18.6 37.3L19.9 35.8L22.4 35.6L23.9 36.8L26.9 37.8L24.2 39.1L22.6 39.6L19.9 40.8L19 38.9Z"/><use href="#s0" clip-path="url(#g05)"/><path fill="#f07050" d="M38.1 30.5L38.7 29.7L39.2 29L40.4 28.2L41.2 29.3L41.4 30L41.9 31.1L40.4 31.4L38.8 31.5ZM56.6 37.4L56.7 36.1L57 35.3L57.5 34.2L58.6 34.7L59.3 35.4L59.9 36.5L59.1 37.5L57.9 37.4Z"/><use href="#r0"/></g></g>
<g transform="translate(19 424)" clip-path="url(#tc)"><g filter="url(#bl)"><rect width="69.5" height="69.5" fill="#060606"/><use href="#b1"/><path fill="#0c870c" d="M0 5L6.3 5L7.5 10L7.5 40L5.5 55L0 55ZM0 0L17.5 0L17.5 8.8L6 8ZM13.8 10L17.5 10L17.5 29L13.8 27ZM17.8 46.3L17.3 43.9L17.2 41.8L17.9 39.5L19.3 40.4L20.4 41.2L20.5 43.1L20.7 45.5L19.2 45.5ZM60 15.4L62.5 15L64.7 15.8L65.9 17.5L66 19.8L64.1 21.9L61.4 20.4L59.3 19.6L60 17.6ZM63.8 32.3L63.7 34.1L61.9 35.4L59.3 35.4L58.8 33.3L57.4 31.7L59.3 30.5L61.2 30.4L63.7 30.3Z"/><use href="#s1" clip-path="url(#g10)"/><use href="#r1"/></g></g>
<g transform="translate(105 424)" clip-path="url(#tc)"><g filter="url(#bl)"><rect width="69.5" height="69.5" fill="#060606"/><use href="#b1"/><path fill="#0c870c" d="M0 5L6.3 5L7.5 10L7.5 40L5.5 55L0 55ZM0 0L17.5 0L17.5 8.8L6 8ZM13.8 10L17.5 10L17.5 29L13.8 27ZM19.1 39.9L20 41.2L21.6 42.6L20.6 44.8L19.4 45.3L18.2 46L17.5 44.2L16.5 42L17.9 40.5ZM65.1 15.6L67.6 17.5L65 19.4L63.9 21.9L61.1 20.7L58 19.9L58.5 17.2L59.5 14.6L62.7 14.2ZM57.9 35.1L57.2 32.8L58.8 31.2L60.4 30.7L62.3 30.1L64.8 31L63.4 33L62.7 34.5L60.7 35.5ZM56.7 27.4L55 23.5L53.7 18.3L57.8 16.1L61.9 14.3L65.1 17.9L65.8 22.8L64.4 27.4L60.3 27.4ZM25.2 3.4L24.8 2.2L23.9 .7L26 0L28.3 -.2L29.6 1.1L29.9 2.4L28.7 3.4L26.9 3.6Z"/><use href="#s1" clip-path="url(#g11)"/><use href="#r1"/></g></g>
<g transform="translate(191 424)" clip-path="url(#tc)"><g filter="url(#bl)"><rect width="69.5" height="69.5" fill="#060606"/><use href="#b1"/><path fill="#0c870c" d="M0 5L6.3 5L7.5 10L7.5 40L5.5 55L0 55ZM0 0L17.5 0L17.5 8.8L6 8ZM13.8 10L17.5 10L17.5 29L13.8 27ZM21.6 43.5L20 44.7L19.2 47.4L18.1 45L16.6 44L17.7 42L18.2 39.9L19.5 40.3L21.2 40.6ZM62.2 20.5L58.9 20.9L59.6 18.2L60.3 16.6L61.3 13.7L64.1 15.3L66 16.7L66.2 18.9L65 21.2ZM58.6 34.9L57.8 33L58.3 31.2L60 30.1L62.4 29.5L63.5 31.3L64 33L62.9 34.4L61 34.5ZM-.8 21.5L1.7 12.7L5.3 16.5L7.8 23.9L5.9 32.6L5.1 39.8L2.4 44L-.3 39.3L-1.6 30.7ZM65.5 25.2L62.1 26.8L59.8 28.2L57.5 26.7L54.7 24.7L57.1 22.2L58.5 19.4L61.5 20.3L63.2 22.3Z"/><use href="#s1" clip-path="url(#g12)"/><use href="#r1"/></g></g>
<g transform="translate(276.5 424)" clip-path="url(#tc)"><g filter="url(#bl)"><rect width="69.5" height="69.5" fill="#060606"/><use href="#b1"/><path fill="#0c870c" d="M0 5L6.3 5L7.5 10L7.5 40L5.5 55L0 55ZM0 0L17.5 0L17.5 8.8L6 8ZM13.8 10L17.5 10L17.5 29L13.8 27ZM17 42.3L17.4 39.5L19.1 40.2L20.3 40.8L21.3 42.5L21.1 45.3L19.6 46.3L18.4 45.3L17.4 44.4ZM59.4 17.8L59.2 15.3L62 14L64.1 16L65.8 17.2L66.2 19.4L64.2 20.9L61.5 21.5L59 20.2ZM63.3 32.1L63.4 33.6L62.5 35.9L59.7 35.5L57.4 34.2L57.9 32.1L58.8 30.3L61 30.4L63 30.5ZM.7 32.6L-.6 25.9L.8 19.6L2.1 13L4.5 14.6L5.5 21.3L5.6 27.5L4.7 33.4L2.8 33ZM60.1 47.5L62.5 46.5L65.1 46.5L65.6 49.1L65.4 50.9L64.9 53.5L62.1 54.3L60.9 51.7L60.5 49.9Z"/><use href="#s1" clip-path="url(#g13)"/><use href="#r1"/></g></g>
<g transform="translate(363 424)" clip-path="url(#tc)"><g filter="url(#bl)"><rect width="69.5" height="69.5" fill="#060606"/><use href="#b1"/><path fill="#0c870c" d="M0 5L6.3 5L7.5 10L7.5 40L5.5 55L0 55ZM0 0L17.5 0L17.5 8.8L6 8ZM13.8 10L17.5 10L17.5 29L13.8 27ZM21.5 41.6L21.2 44.4L20.2 46.6L18.7 45.9L17.9 44.5L17.2 42.9L17.1 40.2L18.7 39.1L20.3 39.4ZM64.1 20.3L62 20.7L60.4 19.5L57.8 18.1L59.9 16.2L61.5 13.7L64.5 14.9L66.7 16.6L67.2 19.4ZM60.8 35.1L58.2 34.9L58.3 32.7L59.2 31.4L60.2 30.1L62.3 30.1L64.4 31.2L64.3 33.2L62.7 34.4ZM8.9 31.4L5.2 34.4L2.7 30.3L.3 26.4L.9 17.3L2 10.5L4.2 7.7L6.1 12.2L7.3 18.7ZM58.1 26.8L60.1 27L62 29.4L59.8 31.6L59.1 35L56.5 34.5L54.7 32.2L55.1 29.1L55.5 25.4ZM28.6 43.9L28.9 45.5L27.4 46L26 45.9L24.6 45L25 43.3L25.6 41.7L27.2 42.3L28.4 42.7Z"/><use href="#s1" clip-path="url(#g14)"/><use href="#r1"/></g></g>
<g transform="translate(449 424)" clip-path="url(#tc)"><g filter="url(#bl)"><rect width="69.5" height="69.5" fill="#060606"/><use href="#b1"/><path fill="#0c870c" d="M0 5L6.3 5L7.5 10L7.5 40L5.5 55L0 55ZM0 0L17.5 0L17.5 8.8L6 8ZM13.8 10L17.5 10L17.5 29L13.8 27ZM17.7 42L18.2 40.4L19.5 39.9L20.8 40.8L20.4 43.2L20.3 45L19.2 46.7L17.6 46.5L17 44ZM66 21L62.9 21.5L60.8 20.2L57.8 19.1L58.9 16.6L60.8 14.9L63.4 15.1L65.3 16.3L65.7 18.2ZM58.2 32.7L58.2 30.9L60.2 30.1L62.4 30L63 31.7L64.6 33.3L63.3 35.2L60.7 35.4L59.3 33.9ZM1.7 12.4L4.1 9.4L6.2 14.1L7.2 20.5L8.1 30.4L5.7 38.8L1.9 39L-.2 29.3L.3 19.4ZM58.1 21.9L57.4 20.3L57.5 18.3L59.3 17.3L61.4 16.9L62.3 18.9L63.7 21L62 22.8L59.8 22.5ZM24.9 41.1L23.5 40.2L24.1 38.7L25.4 37.7L26.7 38.5L28.5 38.9L27.5 40.4L27.4 42.1L25.8 42.5Z"/><use href="#s1" clip-path="url(#g15)"/><use href="#r1"/></g></g>
<g transform="translate(19 504)" clip-path="url(#tc)"><g filter="url(#bl)"><rect width="69.5" height="69.5" fill="#060606"/><use href="#b2"/><path fill="#0c870c" d="M2.5 12.5L2.5 8L6 7.7L8.6 5.8L9.6 9.5L11.3 12.5L9.2 15L7 17.8L5.1 14.5ZM4.6 20.6L5.4 25.6L5.5 29.9L3.5 31.3L2 32.2L.6 30.5L-.1 27.3L.3 23.6L1.9 19.8ZM38.6 38.4L38.4 45L38.7 48.9L36.9 52.4L34.2 51.4L30 51.9L29.3 45.9L32.4 42.7L34.3 37.1ZM41.5 63.2L38.2 62.1L37 59.4L36.5 56.7L38.7 54.2L42 55.4L44.6 56.3L46.6 58.9L44.3 61.4ZM54 9.6L50.5 10.9L47.5 9.5L44.7 8.6L43.2 5.9L46.4 4.3L49.4 2.5L53.4 3.6L52.8 6.7ZM67.2 51.4L69.3 56.2L71.8 60.2L70.3 65.5L66.9 68.6L64.3 64.1L60.5 62.7L61.3 57.4L64.2 55.2ZM4 50L3.7 52.3L3.3 54.1L2.2 56.6L.8 54.4L-1.4 53.2L.2 50.6L1.3 49.6L2.8 48ZM19.1 21.8L17.3 23.8L15.8 25.9L12.7 26.3L11.7 23.4L11.6 20.9L12.7 18.3L15.4 19.3L18.2 19.1ZM26.9 18L24 19.8L19.4 22.6L17.6 18.2L16.2 15.4L17.6 12.2L21.7 10.1L26.7 11L27.4 15Z"/><use href="#s2" clip-path="url(#g20)"/><path fill="#f07050" d="M47.8 31.1L48.8 32L47.9 32.9L47.2 33.3L46.1 33.9L44.9 33.3L43.8 32.5L44.9 31.6L46.3 31.6Z"/><use href="#r2"/></g></g>
<g transform="translate(105 504)" clip-path="url(#tc)"><g filter="url(#bl)"><rect width="69.5" height="69.5" fill="#060606"/><use href="#b2"/><path fill="#0c870c" d="M7.7 15.6L5.2 16L3.6 13.4L3.3 9.9L4.8 6.8L7.7 5L10.5 7.3L10.6 11.3L10.3 14.9ZM2.2 20.9L4.3 22.2L6.5 25.3L4.8 29.5L4.1 34L1.8 33.3L-.6 32L-1.9 26.8L.6 23.8ZM35 51.8L31.8 52.1L28.9 48L31.5 43.4L33.6 40.5L36.4 40.7L39.3 42.8L40.5 48L38.6 53ZM39.8 53.5L43.9 53.8L46.9 56.5L45.4 59.8L44.6 63.6L40.1 63.8L38.4 60.5L35.8 58.6L36.1 55.1ZM46.5 4.6L49.2 3.4L51.9 4.7L55 6.4L53.6 9.2L50.7 11L46.8 11L45.9 8.2L43.8 6.1ZM69.5 56.9L70.5 60.9L69.1 65L66.2 67.3L63 65.5L62.1 61.2L61 56.2L64.8 55.8L67.6 53ZM2 47.1L3.2 49.9L4.3 51.4L4.1 53.8L2.7 54.7L1.1 56L-.1 53.8L.2 51.6L.7 49.7ZM12.2 24.3L11.5 22L11.8 19.2L14.3 17.6L17.6 17.6L18.7 20.7L18.2 23.2L17.4 26.3L14.3 25.7ZM23.6 10.1L26.1 13.5L29.6 16.2L26.2 19.1L23.2 22.9L18.2 20.8L15.8 17.6L15.3 13.8L19.8 12.6ZM33.5 43L38.7 42L43.9 40.5L47.6 44.9L46 49.9L44.2 54.6L38.8 56.5L36.1 51.5L32.9 48.3ZM17 66.1L14.5 62.4L15.3 59.2L14.8 54.8L20.2 53.3L24.5 55.9L25.2 59.4L27.1 63.5L21.8 64.3Z"/><use href="#s2" clip-path="url(#g21)"/><path fill="#f07050" d="M58.4 9L59.7 8.6L61 8.8L61.3 9.7L61.6 10.5L61.1 11.5L59.7 11.2L57.9 11.2L58.6 10ZM65.4 14.9L64.4 15.4L63.2 15.7L62.6 14.7L62.6 13.6L63 12.6L64.1 12.1L64.8 13.2L65.5 13.8Z"/><use href="#r2"/></g></g>
<g transform="translate(191 504)" clip-path="url(#tc)"><g filter="url(#bl)"><rect width="69.5" height="69.5" fill="#060606"/><use href="#b2"/><path fill="#0c870c" d="M9.6 13L8.9 16.6L6 16.9L3.4 15.1L4.5 11.3L3.2 6.7L6.7 7.5L9.5 6.4L9.7 10.5ZM.1 28.1L.5 25L1.7 22.1L3.7 21.7L5.4 24.5L5.8 29L4.8 33.6L2.4 31.9L-.3 33.5ZM36.9 40.1L40.4 42.6L40.3 48.5L38.6 54L34.6 53.7L30.5 53.4L31 47.1L31.3 42.7L34 41.3ZM34.9 56.1L38 53.2L42.7 52.6L44.2 56.5L45.2 58.7L44.7 61.6L41.4 62L37.9 62.5L35.1 60ZM43.6 5.6L46.8 4.2L50.1 2.2L52.8 4.6L55 7L53.7 9.9L50.1 11.4L45.8 11.2L42.6 8.8ZM69.6 60.4L69.1 64.3L66.3 64.6L63.5 65.2L60.3 62.3L62.8 57.9L64 54L67.3 52.5L70.8 55ZM4.5 55.4L2.5 56.7L1 54.4L0 53L-1.1 50.1L.4 47.4L2.5 48.5L4.4 49.2L3.7 52.1ZM18.6 18.5L18 21.8L18.9 24.8L16 26L13.1 25.9L10.7 23.9L11.8 21.1L12.3 17.9L15.5 16.8ZM15.6 19.2L14.7 15.2L18.1 12.5L21.8 11.9L24.9 13.1L29.7 14.7L27.3 18.3L25 21.9L19.4 22.3ZM35.2 55.6L26.5 51.9L33.1 44.3L34.6 34.8L42 39.9L50.7 39.7L47.1 48.8L45.1 53.8L41.1 62.8ZM29.6 65.9L24 67.6L18.5 67.3L13.2 64.8L12.1 60L18.4 58.2L22.7 56.9L29.4 56.9L29.8 61.6ZM63.2 51L64.4 55.3L63.8 60.3L58.7 60.9L54.3 60.8L51.3 57.1L52.2 52.6L55.2 49.6L59.6 47.8Z"/><use href="#s2" clip-path="url(#g22)"/><use href="#r2"/></g></g>
<g transform="translate(276.5 504)" clip-path="url(#tc)"><g filter="url(#bl)"><rect width="69.5" height="69.5" fill="#060606"/><use href="#b2"/><path fill="#0c870c" d="M7.7 15.4L5.2 16.3L2.5 14.1L3.9 10.3L5.2 7.9L7.4 6.4L9.3 8.6L12.1 11.1L9.3 13.8ZM-.2 30.3L-.1 26.3L-.1 20.6L2.7 20.5L5.1 21.9L5.7 26.7L5.5 31.4L3.3 32.6L1.5 32.3ZM38.6 49.9L36.2 52.5L33.5 51.8L30.5 50L30.2 44.9L32.7 42L35.3 38.1L37.6 42.3L40.5 45.4ZM42.3 54.2L46.6 55L46.3 58.9L45.2 62.1L41.6 64.2L38.6 61.6L35.8 59.8L34.7 56L38.6 54.1ZM45.4 3.2L49.4 3.5L53 4L52.5 6.8L53.4 9.3L50.2 10.3L47.4 9.6L44.2 8.7L42.9 5.8ZM71.1 60.7L68.5 63.7L66.3 66.1L63.8 64.4L61 61.8L61.1 56.6L64.1 54L67.2 53.8L69.2 56.8ZM-1.1 54.3L-.4 51.1L.9 49.8L2.1 49.1L4.1 48.8L4.5 51.6L3.8 53.8L2.8 56L1.2 54.6ZM19 18.6L18.7 21.9L17.3 23.9L15.9 26.6L13.5 24.7L11.6 23.3L12.1 21L12.6 18L15.5 18.9ZM25.4 20.5L21.1 20.5L17.6 19L16.1 16.1L18.5 13.7L20.6 10L25.5 11L29.1 13.8L26.2 17.2ZM42.5 45.8L45.8 51.6L43.6 57.3L41.5 62L36.4 66L31.7 61.3L28.7 55.1L31.8 49L36.6 46.3ZM8.9 34.5L10.8 37.1L13.2 40.3L10.7 43.2L8.7 46.9L6.4 43.4L3.8 41.8L3.8 37.7L6.7 36.7Z"/><use href="#s2" clip-path="url(#g23)"/><use href="#r2"/></g></g>
<g transform="translate(363 504)" clip-path="url(#tc)"><g filter="url(#bl)"><rect width="69.5" height="69.5" fill="#060606"/><use href="#b2"/><path fill="#0c870c" d="M9.3 14.3L7.5 16.6L5.3 14.9L2.1 13.5L2.2 8.8L4.7 5.5L7.9 6.5L9.3 9.2L10.5 11.7ZM4.1 30.5L2.8 32.6L.1 34.8L-1.4 29.9L.2 25.6L1.1 22.1L3 22.7L4.3 24.8L5.2 27.8ZM38.2 41.8L39.6 46L40.3 52.3L36.5 55.5L33.3 51.7L29.8 50L28.5 43.7L32.5 41L35.7 36.5ZM47.4 57.3L46.6 61.1L43.5 63.9L39.3 63.1L36.6 60.9L35.2 57.8L37.2 54.9L40.7 52.8L45.2 53.8ZM46 5.5L48.1 4.4L51.7 2.7L53.9 5.3L53.9 8L51.3 9.5L48.7 9.9L45.9 9.4L44 7.3ZM61 59.9L61.4 54.3L65.3 54.1L68.8 53.2L70.9 57.6L70.6 62.5L68.2 65.7L65.2 66.3L62.6 64ZM3 48.8L3.6 50.9L3.7 52.7L3.1 54.4L1.8 55.3L.3 54.6L-1.4 52.4L-.8 49L1.2 47.4ZM11.1 23.9L10.6 20.9L12.8 19L15.3 17.3L16.9 20L17.6 21.7L18.7 24.5L15.8 24.7L13.8 24.7ZM24.6 19.1L21.2 21.8L16.2 20.4L14.6 16.4L17.9 13.6L20.8 12.2L25.5 10.4L25.9 14.6L27.6 17.3ZM26.7 42.3L31.6 40L35.5 43.4L39.2 47.6L37.9 54.1L34.3 57.5L30.2 58.7L26.9 54.7L27 49.2ZM10.3 54.3L15.4 55.2L18.3 59.1L15.9 63L12.4 65.9L7.5 64.8L4.6 62.3L3.1 58.8L7 56.9ZM43.5 36.9L45.9 36.5L48.6 37.4L49.3 40.3L47.7 42.6L45.3 42.9L43.5 42.1L41.2 41.1L40.5 38Z"/><use href="#s2" clip-path="url(#g24)"/><path fill="#f07050" d="M53.7 27.6L51.9 27.3L50.7 27.1L50 26.2L50.9 25.5L51.4 24.7L52.9 24.2L53.4 25.4L54.5 26.4Z"/><use href="#r2"/></g></g>
<g transform="translate(449 504)" clip-path="url(#tc)"><g filter="url(#bl)"><rect width="69.5" height="69.5" fill="#060606"/><use href="#b2"/><path fill="#0c870c" d="M2.5 11.4L3.4 7.3L6.5 7L9.1 6.8L11.8 9.3L10.7 13.4L9.4 17.2L6.5 15L3.3 15.5ZM4.3 31.4L2.7 34L1 31.5L-1.4 29.3L-.9 24.1L1.6 23.2L3.7 19.7L5 24.2L6.5 28.5ZM31.3 53.1L30.7 47.7L31.3 43.3L32.7 37L37.2 37.4L38.7 43.3L39.3 47.6L39.5 54.5L35 56.5ZM46.6 59.1L43.7 61.1L41.3 64.3L38 61.9L36.5 59.4L37.6 57L38.4 53.1L42.7 53.8L44.5 56.6ZM52 3.3L55.4 5.4L54.2 8.5L50.8 9.5L47.7 11.8L43.7 10.2L43 6.9L46.4 5.3L48 2.1ZM68.2 67.4L65.1 64.3L63.3 62.5L63 59.5L62.3 54.3L65.7 52.9L68.6 55L71.4 58.2L70.8 63.5ZM4.5 54.4L2.9 56.5L.8 56.4L-.5 53.9L-1.1 51L.8 49.6L2.1 47.3L3.9 48.9L4 51.6ZM14.7 19.3L17.7 18L18.6 21L19 23.8L16.7 25.5L13.8 26.7L12.8 23.6L12.2 21.8L12.9 20ZM18.7 13.4L21.2 9.3L25 12.5L27.4 14.8L28.2 18.3L25.5 21.9L19.8 22.6L15.9 19.4L15.2 15.6ZM35.3 56.8L31 59.4L27.1 56.5L20.1 55.2L24.9 49.9L27.1 46.5L31.1 47L36.2 47.2L37.9 52.3ZM10.6 51.9L14.9 54L18.9 55.9L20.1 60.3L16.2 63.8L11.2 61.7L7.8 60.9L3.8 58L5.9 54ZM53.8 47.1L51.5 48.8L48.4 49.9L46.4 47.2L46.9 44.5L47.1 41.7L49.9 40.9L52.2 42.3L54.2 44.2Z"/><use href="#s2" clip-path="url(#g25)"/><use href="#r2"/></g></g>
<g transform="translate(19 585)" clip-path="url(#tc)"><g filter="url(#bl)"><rect width="69.5" height="69.5" fill="#060606"/><use href="#b3"/><path fill="#0c870c" d="M5.7 47.7L4.1 49.9L2.7 53.3L.4 51.5L-1.2 48.4L.5 45.3L1.3 42.2L3.6 41.2L4.9 44.4ZM2.4 65.4L4.2 63.2L8 63.2L11 63.9L14.3 65.4L13.5 67.9L9.2 68L6.3 68.7L2.2 68ZM29.3 3.8L28 4.3L25.6 4.9L25 2.9L26.1 1.6L27 .2L29.3 -.3L30.6 1.2L31.7 3.1ZM45 18.6L44.9 17.5L45.7 16.7L46.8 15.9L48.5 16.2L49.1 17.9L47.6 18.8L47 20.5L45.7 19.5ZM58 56.1L60.2 55.5L61.7 56.1L62.8 57L63.9 58.6L62.8 60.2L60.9 61.6L59.5 59.7L57.2 58.6ZM65.3 3.4L63.6 3L64 1.8L64 .5L65.9 .3L67.6 .7L68.8 1.6L69.1 3.1L67.2 4.1Z"/><use href="#s3" clip-path="url(#g30)"/><use href="#r3"/></g></g>
<g transform="translate(105 585)" clip-path="url(#tc)"><g filter="url(#bl)"><rect width="69.5" height="69.5" fill="#060606"/><use href="#b3"/><path fill="#0c870c" d="M.3 47.5L-.5 43.9L1.5 41.9L3.8 41.6L6 43.9L5.7 48.2L4.6 51.5L2.4 51.6L.7 50.3ZM8.7 69.5L6 67.8L3.5 66.8L4.8 65.2L6.5 64.2L9.1 63.1L13.1 63.7L13.3 66.2L12.1 68.3ZM30 .9L30.8 2.3L30 3.7L28.6 4.6L26.6 4.9L26.2 3.2L26 2L26.4 .5L28.2 .7ZM45.2 19.4L44.2 18.3L44.5 16.7L45.8 15.6L47.2 16.3L48.6 17L47.9 18.3L47.4 19.3L46.4 19.3ZM58.1 57.4L59.3 55.9L61 56L63.6 55L64.8 57.4L64.3 60L62 60.9L59.7 61.5L59.2 59ZM68.4 3L67.1 4.1L65 3.7L62.6 3.2L62.1 1.5L63.6 -0L66.1 .2L68 .5L68.6 1.7ZM8.9 12.1L10.1 13L9.9 14.3L9.2 15.1L8 16.2L6.1 15.8L5.4 14.4L5.4 12.8L6.9 11.5ZM27.8 11.4L28.5 10L30.1 10.2L31.7 10.3L31.5 11.8L32 13.4L30.7 14.5L29.3 13.5L28.4 12.8Z"/><use href="#s3" clip-path="url(#g31)"/><use href="#r3"/></g></g>
<g transform="translate(191 585)" clip-path="url(#tc)"><g filter="url(#bl)"><rect width="69.5" height="69.5" fill="#060606"/><use href="#b3"/><path fill="#0c870c" d="M4.2 51.7L2 52.1L-.4 51.1L-1.1 47.1L.2 44L1.9 42L4.1 42.2L5.8 44.9L5.2 48.5ZM12.4 66.4L10.9 68L8 68.8L4.9 68.3L2.8 66.6L3.2 64.4L6.7 63.8L9.6 63.4L12.5 64.4ZM30.5 1.2L31.9 2.9L30.4 4.8L28.1 5.1L26.5 4.1L25.2 3L26.2 1.7L27 .5L28.8 .4ZM47.6 19.1L46.6 19.9L45.4 19.6L44.1 18.6L44.5 17L45.9 16.6L47.2 15.6L48.6 16.6L48.9 18.3ZM58.7 57.8L58.3 55.2L60.7 54.9L62.7 55.7L64.2 57.2L63.9 59.4L61.8 59.8L60.4 60.4L58.1 60ZM63.4 3.2L62.8 1.8L63.9 .6L65.8 -.2L68.1 .1L68.3 1.6L68 2.7L67.4 4.2L65.2 3.8ZM5.8 45.3L9 46.9L9.8 52L7.6 55.2L5.8 59.2L2.9 57.6L2.2 53.5L1 49.8L3.5 48.2ZM17.9 46.1L18.1 44.6L18.4 42.9L20.1 43.2L21.5 43.4L21.7 44.8L21.8 46.1L20.5 46.6L19.4 46.5Z"/><use href="#s3" clip-path="url(#g32)"/><use href="#r3"/></g></g>
<g transform="translate(276.5 585)" clip-path="url(#tc)"><g filter="url(#bl)"><rect width="69.5" height="69.5" fill="#060606"/><use href="#b3"/><path fill="#0c870c" d="M.7 43.8L2.3 40.8L4.8 42L4.9 46.1L4.7 48.9L3.4 50.5L1.7 51.6L.6 49L-1.4 46.2ZM5.5 64.8L7.1 63.1L9.9 64L13.2 64.8L14.2 67.3L10.7 68.7L7.3 68.6L4.1 68L3.8 66ZM26 3.4L25.7 2.1L26.4 .8L28 .4L30.5 .1L31 2.1L30.3 3.6L29.2 5.4L26.7 5.4ZM45.6 17L46.5 16L47.6 16.7L49.1 17.5L47.8 18.8L47.4 20.5L45.9 19.5L45.3 18.7L44 17.6ZM60.6 61.4L58.3 60.5L58.8 58.1L59 56.5L60.3 55L62.1 55.8L63.8 56.8L63 58.6L62.6 60.6ZM64.2 .6L65.9 -0L68.1 .3L69.6 1.5L68.4 2.9L66.9 3.6L65.2 3.6L63.1 3.2L62.3 1.6ZM4.5 55.3L1.4 55L1.6 50.2L.9 45.3L4.2 44.5L6.9 44.5L9 47.5L9.9 52.3L7.4 55.6ZM29.5 31.1L28.6 32.6L27 32.1L25.7 31L25.6 29.3L26.8 28.2L28.3 27.5L29 29.1L29.5 29.9ZM54.3 14.3L53.4 13L53.7 11.8L54 10.9L54.9 9.8L56.2 10.4L57.6 11.4L56.2 12.6L55.8 13.9Z"/><use href="#s3" clip-path="url(#g33)"/><use href="#r3"/></g></g>
<g transform="translate(363 585)" clip-path="url(#tc)"><g filter="url(#bl)"><rect width="69.5" height="69.5" fill="#060606"/><use href="#b3"/><path fill="#0c870c" d="M-.3 47.8L-.9 43.6L1.8 43.8L3.4 43L5.7 44.1L5.8 48.1L4.1 50.3L2.5 52.1L.2 51.5ZM3.8 65.9L5.4 64.6L7.1 62L10.3 63.9L11.6 65.3L13.3 67.3L10.5 68.9L7 68.6L2.6 68.4ZM28.6 .6L30.1 1.3L31.7 2.8L30.3 4.4L28.1 4.2L26.5 4.2L26.1 2.9L25.2 1.4L27.2 1ZM47.4 19.2L46.4 20.3L45.2 19.5L44.2 18.3L44.6 16.8L45.7 15.6L47 16.7L48 17.2L48.8 18.5ZM64.3 57.9L64 60.4L61.7 61.1L59.5 60.9L57.9 59.3L57.7 56.9L59.4 55.5L61.3 55.6L63.9 55.4ZM68 3.8L65.7 4.4L63.9 3.4L63.8 2.1L64.1 1.1L65.1 -.1L67 .5L68.5 1.2L69.8 2.6ZM30.5 .4L32.5 3L33.9 4.7L35.1 7.8L31.2 8.6L27.3 9.8L25 6.9L25.6 4.1L27.3 2ZM17.9 24.3L15.3 25.3L11.8 25.3L12.3 22.5L12.5 21.1L13.5 19.4L15.8 20L19 20L18.6 22.3ZM6.7 30.9L7.4 33.2L8.9 35.6L6.3 37.4L3.3 36.2L.7 35.9L.8 33.9L1.6 32.3L3.6 31.6ZM11.8 48.7L8.4 48.4L5.1 49.3L4.5 46.8L4.2 44.8L5.9 42.8L8.8 43.5L11.2 44.2L13.2 46.2ZM28.9 22.6L26.8 21.6L27.7 19.7L27.5 17.6L30 18.3L31.7 18.3L32.5 19.6L32.8 21.3L31.1 22.4ZM16.3 57.9L15.8 55.8L14.2 53.6L16.4 52.2L18.5 52.1L19.9 53.5L21.3 55L20 56.7L18.5 58.1Z"/><use href="#s3" clip-path="url(#g34)"/><use href="#r3"/></g></g>
<g transform="translate(449 585)" clip-path="url(#tc)"><g filter="url(#bl)"><rect width="69.5" height="69.5" fill="#060606"/><use href="#b3"/><path fill="#0c870c" d="M5.5 47.4L4.8 50.8L2.8 52.7L.2 52.4L.2 48L-.8 44.4L1.5 43.4L3 43.7L4.4 44.8ZM10.2 62.7L12.6 64.5L13 66.6L11.8 68.9L7.8 69L5.2 67.8L2 66.5L3.1 64.2L6 62.3ZM29.6 3.8L28.3 4.7L26.1 4.8L26.1 3L26.2 1.8L26.5 -.1L28.9 -.4L29.6 1.5L31.7 2.7ZM44.8 18.5L44.1 17L45.3 15.8L46.8 16.6L48.3 16.7L49.1 18.1L48.1 19.4L46.7 19.4L45.6 19.3ZM59.8 56.1L61.4 55.3L62.9 56.3L63.4 57.9L63.1 59.6L61.8 61.7L60 60L57.7 59.4L57.5 56.9ZM69.2 1.5L69 3L67.3 4.1L65.4 3.3L64.3 2.7L62.3 1.7L64.5 .9L65.9 .2L68.1 .1ZM32.2 8.6L28.7 9.1L25.6 7.5L25.7 4.8L26.6 2.3L29.4 .4L32.1 2.5L35.4 3.8L35.5 7ZM11.1 22.1L12.9 20.7L14.4 19.7L16.8 19.6L18.2 21.1L19.7 23.2L16.6 24L14.2 25.8L11.1 24.5ZM2.8 31.1L5.2 31.9L7.4 32.7L7.6 34.6L6.3 36.3L3.8 37.8L.7 36.7L.6 34.3L1.3 32.7ZM8.6 43.2L11.3 45L12.7 46.6L12.9 48.7L12 50.7L9.8 51.7L7.8 50.3L5.9 48.4L6 45.3ZM29.2 18.6L30.8 17.1L33.2 17.3L35.4 18.4L35.4 20.5L33.3 21.3L32 21.8L29.4 22.5L29 20.4Z"/><use href="#s3" clip-path="url(#g35)"/><use href="#r3"/></g></g>
<g transform="translate(19 667)" clip-path="url(#tc)"><g filter="url(#bl)"><rect width="69.5" height="69.5" fill="#060606"/><use href="#b4"/><path fill="#0c870c" d="M10.2 55.2L6.2 52L1.4 50.9L1.4 45.2L4.1 41L8.4 37.1L13.7 39.8L17 45.7L14.3 51.8ZM12.3 60.4L12.5 56.2L12.1 52.3L15.3 48.6L19.8 50.5L24 53.1L22.5 57.7L20 60.7L16.5 59.8ZM4.1 61.8L1.6 59.2L3.4 56.1L5.3 54L8.1 54.6L11.5 55.1L12 58.7L11.1 62.4L7.2 63.6ZM15.4 45.8L12.2 46.9L11.1 44.3L9.6 42.5L10.6 40L14 39.3L16.9 40.3L18.8 42.3L16.7 44.2ZM28.8 20.4L30.4 16.2L34.9 15.1L37.7 18.8L39.1 22.7L37.6 26.5L34.3 28.7L30.7 27.5L26.8 25ZM49.1 21.3L45.8 19.5L41 18.2L41.3 15.3L46.1 13.7L50.6 15.3L54.2 16L57.7 18.2L52.6 19.6ZM63.4 56L59.6 55.1L61.2 50.8L62.3 46.9L65.6 47.9L67.6 49.6L70.3 52.4L69.1 56.7L66.1 59.5ZM29.1 54.4L29.9 51.7L33 51.6L35.1 52.9L38.1 54.3L36.7 56.9L34.6 59L30.8 60L28.3 57.3ZM7.1 27.7L7.9 29.4L7.3 31.2L6.1 33.3L4.3 32.4L3.9 30.3L3.4 28.7L4.5 27.4L5.8 26.8ZM67.3 10.9L69 13.8L70.4 16.8L69.8 21.3L68.8 25.8L66.6 26L65.3 22L65.5 17.9L66.1 14.8Z"/><use href="#s4" clip-path="url(#g40)"/><path fill="#f07050" d="M67.7 33.7L66.2 35.6L64.3 34.6L62.1 35.2L62.2 32.7L63 31.2L64 30.1L65.6 29.8L67.3 31.1Z"/><use href="#r4"/></g></g>
<g transform="translate(105 667)" clip-path="url(#tc)"><g filter="url(#bl)"><rect width="69.5" height="69.5" fill="#060606"/><use href="#b4"/><path fill="#0c870c" d="M5.3 54.1L1.1 50.9L3.2 45.6L5.3 42.8L8.6 37.3L13.1 40.8L14.6 46.2L15 52.5L10.3 56.2ZM18.3 51.6L22.4 52.5L21.6 56.5L22.2 61.5L17.4 62.4L13.6 60.6L12.3 57.1L13.6 54.3L15.2 51.9ZM11.1 59.7L9.3 62.5L6.3 61.1L3.3 60.9L1.4 57.8L4.5 55.7L6.6 54.6L9.6 53.9L12.8 56.2ZM17.3 44.3L15.9 46.6L12.5 46.5L8.7 45.4L8.5 42.4L11.1 40.5L13.9 39.9L16 41.1L19.6 42.1ZM37.9 22.2L37 25.3L34.6 27.6L31.7 26.5L27.9 25.2L29.3 21.2L29.8 16.4L34.1 16.5L38.7 17.1ZM43.5 16L47.1 15L51.5 13.9L53.9 16L55.5 18L52.5 19.5L49.1 20.2L44 20.6L43.8 18ZM63.3 45.6L66.7 47.6L69.5 49.7L68.3 53.5L68.5 58.4L64.8 57.5L61.3 57.4L60.7 53.1L61.2 49.4ZM37.8 54.6L36.8 57.3L34.1 58.5L31.4 58.2L30.2 56.2L28 53.9L30.3 51.7L33.3 51.7L36.6 51.8ZM5 27.6L6.6 26.1L7.4 28.3L7.8 30.1L7.1 32L5.4 33.2L4.1 31.4L2.5 30L4 28.3ZM66.3 12L68.1 13.8L69.2 15.9L70.3 19.3L69.1 22.7L67.6 25.3L65.3 25.4L64.7 20L64.6 15ZM11.4 26.5L8.6 23.7L7.1 21.7L5.6 18.5L7.1 14.9L10.5 12.4L13.4 15.8L15.2 19.4L14.1 23.6ZM26.9 44.5L28.8 40.9L32.6 41.1L35.6 41.3L37 43.9L38.9 47.7L35.5 50.2L31.6 50.3L28.8 48Z"/><use href="#s4" clip-path="url(#g41)"/><path fill="#f07050" d="M59.8 30.3L60.4 29L61.2 27.5L62.9 27.7L64.1 28.8L64.4 30.5L63.5 31.9L61.9 32.4L60.4 31.9Z"/><use href="#r4"/></g></g>
<g transform="translate(191 667)" clip-path="url(#tc)"><g filter="url(#bl)"><rect width="69.5" height="69.5" fill="#060606"/><use href="#b4"/><path fill="#0c870c" d="M8.2 54.2L5.1 51.3L.4 48.8L2.9 43.8L5.6 39.9L9.8 40.8L14.5 42.3L15.1 48.2L12.2 52.5ZM15.5 52.6L18.5 50.5L21.9 52.7L23.7 56.7L20 59.1L17.5 62.6L13 61.5L9.8 57.8L12.1 53.6ZM6.1 53.6L9.1 54L9.8 56.9L12.4 59.8L9.5 62.1L6.3 62.6L4 60.7L3.7 58.1L3.1 54.9ZM12.7 45.8L10.3 44.7L9.3 42.4L10.5 40L13.9 40.3L16.1 41L19.7 42.2L17.9 44.6L15.9 46.7ZM38 17.8L38.2 22.2L37.4 25.7L35.1 30.1L31.1 27.7L28.6 24.8L27.3 20.5L30.4 17.2L34.1 16.6ZM47 21.7L44.3 19.3L41.2 17.3L43.7 15L48.2 13.9L52.3 15L57.5 16.2L55.7 18.9L52.5 21ZM65.7 56.7L63.1 57L60.9 54.5L59.7 50.3L61.9 46.2L65.8 45.1L69.5 47.5L70.8 52.3L68.9 56.4ZM37 56.1L36.2 59.4L32.3 59.6L29.8 57.6L26.9 55.2L29.3 52.5L31.8 50.2L34.5 52.5L36.2 53.9ZM7.8 29.5L7.6 31.7L5.9 32.1L4.4 31.9L3 30.6L3 28.4L4.5 27.3L5.8 26.9L7 27.9ZM64.8 16.9L65.8 12.8L67.6 13.7L69.6 13.2L70 17.9L70.5 23.4L68.4 25.7L65.9 27L64.5 22ZM8 31.7L3.4 32.4L0 26.9L3.2 21.3L4.9 13.8L10.2 16.8L13.1 21L15.5 26.7L11.1 29.8ZM30.2 34.2L34.9 32.4L37.8 36.3L40.9 39.6L39 43.7L35.1 44.5L30.9 46.3L29.3 42.1L26.7 37.9ZM17 58.6L12.6 59.6L8.8 56.7L5.9 51.6L7.6 45.2L13.3 45.9L17.3 46L22.1 49L21.8 55.7Z"/><use href="#s4" clip-path="url(#g42)"/><path fill="#1060e0" d="M32.8 64.7L33.6 66.2L34.5 67.1L34.8 68.8L32.3 69L30.2 68.8L28.6 67.7L28.9 66.1L31.1 65.8Z"/><use href="#r4"/></g></g>
<g transform="translate(276.5 667)" clip-path="url(#tc)"><g filter="url(#bl)"><rect width="69.5" height="69.5" fill="#060606"/><use href="#b4"/><path fill="#0c870c" d="M10.9 51.4L7.8 52.4L3.6 52.6L2.5 47.8L.2 41.2L6 39.6L11.5 37.1L12.1 44.5L13.4 48.4ZM22.1 52.6L23.7 56.8L20.5 59.7L17.4 62.7L12.8 61.7L9.8 57.7L11.1 53L14.3 49.7L19.1 48.9ZM8.7 63.9L5.6 61.2L2.6 60.2L2.2 56.8L5.2 55.5L7.4 52.3L9.8 55.1L12.7 57.4L11.3 60.9ZM17.4 46.9L13.5 46.2L9.8 45.9L9 43.2L11.6 41.6L12.9 39.3L16.8 38.9L17.2 42L17.3 43.8ZM32 14.2L36.5 16.5L38.8 20.2L38 24.2L37.5 29.7L32.4 30L27.9 27.9L26.6 22.7L27.9 17.5ZM47.7 13L51.5 15.5L55.9 16.4L54 18.5L52.8 21L47.8 20.3L42.3 20.1L43.1 17.4L43 14.8ZM63.2 55.5L60.6 53.8L59.6 49.1L63.5 48L66.6 46L68.5 49.6L70 53.3L68.8 57.6L65.2 57.6ZM35.6 59.2L31.7 60.2L29.4 57.5L28.5 54.9L28.8 51.7L32.4 51.6L36.2 50.6L36.2 54.1L36.5 56.2ZM4.7 31.4L3.4 30.5L4.1 28.9L4.4 27.3L5.9 25.8L7.5 27.3L7.9 29.4L7 31L6.1 33.1ZM66.2 11.8L68.1 13.5L69.5 15.1L71.1 19.3L69.1 22.4L67.8 26.5L66.3 22.7L65.6 19.7L64.5 15.2ZM.1 14.7L5.4 10.5L9.7 15.7L15.9 15.6L13.7 23.8L13.6 32.5L7.8 30.3L2.6 31.1L3.3 23ZM16.9 56.7L13.3 60.7L7.2 61.4L2.7 55.9L3.6 48.5L8.7 45.5L13 45.8L17.6 46.7L20.7 52ZM34.8 50.2L32.7 47.6L29.7 45.7L31.1 42.6L33.4 40L37.1 39.8L38.7 43L39.7 46L37.4 48.1Z"/><use href="#s4" clip-path="url(#g43)"/><path fill="#f07050" d="M62.9 34.7L62 36.4L60.6 37.1L58.9 37.5L58.3 35.8L56.8 34.2L58.2 32.5L60.2 32.9L62.3 32.7ZM53.5 21.6L52.8 20.2L53.7 19.2L54.3 17.7L56 17.8L56.8 19.1L57.4 20.6L56.1 21.5L54.8 22.6Z"/><path fill="#1060e0" d="M5.5 69.4L3.1 68.9L.8 68.5L.3 67.2L1.6 66.1L3.9 66.2L5.7 66.4L7.3 67.2L6.9 68.3Z"/><use href="#r4"/></g></g>
<g transform="translate(363 667)" clip-path="url(#tc)"><g filter="url(#bl)"><rect width="69.5" height="69.5" fill="#060606"/><use href="#b4"/><path fill="#0c870c" d="M15 51.5L10.4 54.3L6 53.9L2.3 51L2.7 46L2 39L7.9 38.9L13.1 39.6L16.3 45.1ZM23.5 58.9L19.8 61.7L15.9 60.4L11.4 60.1L10 55.5L11.8 51L16.4 50.1L21.3 49.7L24.1 54ZM12.4 55.3L10 58.7L9.9 62L6.7 62.1L4.7 60.4L3.6 58.4L2.4 54.9L6 54.6L9.1 53.2ZM10.4 39.5L14.2 40.6L17 40.6L18.9 42.5L17.1 44.5L15.7 47.1L12.7 45.4L9.8 44.6L10.2 42.4ZM28.9 28.4L27.9 23.5L28.1 19L32 17.9L34.9 18.4L39.6 18.7L41.1 24.1L38.1 28.7L33.4 29.4ZM51.8 15L56.1 16.2L53.6 18.3L52.2 20.2L47.9 20.8L44.6 19.4L39.8 17.6L41.8 14.6L47.3 13.1ZM62.4 58.1L61.2 54.2L61.8 51L62.2 46.4L66.1 45L69.2 48.1L71.1 52.5L68.3 55.9L66 59.5ZM34.5 51.2L37.5 52.6L36.9 55.5L35.8 57.8L33.1 59.8L30.1 58.1L28.5 55.8L27.9 52.6L31 50.7ZM7.7 30L6.5 31L5.5 31.8L4.1 31.6L2.5 30.1L3.6 28.1L4.7 26.7L6.3 26.8L8 27.7ZM69.7 17.7L69.5 21.4L68.4 24.6L66.8 23.1L64.4 22.5L64.9 17.3L66.1 14.2L67.6 11.5L70 11.7ZM2.9 25L3 18.6L6.8 14.3L12.6 13.3L12.3 22.7L16.4 29.7L11 32.9L6.9 34.1L2.1 32.4ZM10 55.9L5.9 52L6.3 44.7L12.7 43.4L16.7 46.7L21.1 49L21.5 55.1L18.2 60.2L12.2 63.5ZM37.8 46.8L37.9 51.2L34.5 54.3L29.8 54.7L27.2 50.9L25.6 47.1L27.2 42.5L31.8 40.7L36.8 41.9Z"/><use href="#s4" clip-path="url(#g44)"/><path fill="#1060e0" d="M2.9 69.9L-.2 69.1L.1 67.4L.3 65.8L3.5 65.7L6.1 65.8L8.9 66.7L7.8 68.3L6.4 69.8Z"/><use href="#r4"/></g></g>
<g transform="translate(449 667)" clip-path="url(#tc)"><g filter="url(#bl)"><rect width="69.5" height="69.5" fill="#060606"/><use href="#b4"/><path fill="#0c870c" d="M3.4 47.6L1.5 42L6.4 40.8L10.2 41L15.2 42.8L15.1 49L12.5 54.1L7.6 54L3.4 52.6ZM12.5 61.2L13 56.6L11.6 52.8L15.2 50.7L19 50.8L22.1 53.2L22.6 57.1L19.9 59.5L16.9 63.1ZM8.1 53.8L9.7 56.1L11.6 58.4L10.1 61.1L7.5 63.5L5 60.8L1.3 59.5L2.6 55.9L4.4 52.4ZM18 42.5L18.1 44.9L15.9 47.1L12.1 46.6L9.7 44.7L10.9 42.5L10.3 39.6L14.1 40.5L17.7 39.8ZM28.8 26.3L26.1 22L29 17.8L33 17.5L36.1 18.2L37.2 21.3L38 24.7L35.2 26.2L32.3 27.8ZM50.7 21.6L44.8 21.4L43.8 18.6L40.2 16.1L44.4 13.9L49.9 14.1L54.9 14.9L54.4 17.4L56.1 20.3ZM62 47.3L65.3 46.5L67.6 49.2L70.2 51.8L69.5 56.3L66.5 59L63.5 56.7L61.7 54.5L60 50.9ZM31 51L33.9 52.2L35.8 53.4L37.5 55.4L36.9 58.6L33.3 59.7L29.9 58.7L29.4 55.8L29.6 53.5ZM3 27.4L4.9 27L6.6 26.6L7.4 28.4L8 30.3L6.7 31.6L5.4 31.7L4.2 31.1L2.6 29.9ZM65.9 23L64.8 19.5L64.5 14.2L66.4 10.7L68.2 14L70.5 14.5L70.5 19.9L69.6 24.8L67.4 25.8ZM5.6 19.3L8.7 17.5L11.7 20L14.9 24.7L13.8 31.8L9.4 34.9L5.3 32.4L2.5 28.3L-0 21ZM23.2 56.4L18.7 62.5L11.8 62.9L8.7 56.6L7.4 51.6L10 47.8L13.1 43.5L19 43.1L22.1 49.1ZM38.9 50.5L38.9 55.1L34.5 57.3L29.6 56L29 51.2L27.8 46.9L31.7 44.7L35.5 44.9L38 47.3ZM47.9 55.3L46.7 51.2L51 51.2L54.4 50L58.4 52.2L56.9 56.4L55.8 60.6L51.5 60.1L48.2 58.6Z"/><use href="#s4" clip-path="url(#g45)"/><path fill="#1060e0" d="M.1 66.7L2.3 65.9L5.1 64.9L7.3 66.2L7.8 67.6L8 69.3L4.7 70.1L1.2 69.7L.8 68Z"/><use href="#r4"/></g></g>
<g transform="translate(19 750)" clip-path="url(#tc)"><g filter="url(#bl)"><rect width="69.5" height="69.5" fill="#060606"/><use href="#b5"/><path fill="#0c870c" d="M63.7 27.2L62.6 21L65.1 18.2L66.8 17.8L69.4 16.6L68.6 23.6L69.1 29.1L67.1 30.5L64.9 32.5ZM64.9 42.3L64.4 34.8L66.5 33.8L68.3 33.1L68.6 39.6L69 44.3L68.5 50.6L66.6 53.4L65 48.7ZM15 7.7L14 6.4L14.9 5.2L15.4 4.2L16.5 4.1L17.6 4.5L18.7 5.5L17.9 6.8L16.8 8ZM30.2 12L30.4 14.2L29.1 15.1L28.3 16.2L26.8 16.5L25.9 14.5L26.1 12.3L27.3 10.9L28.6 11.8ZM46.9 2.4L48.5 3L49.6 4.1L50.7 5.9L48.9 7.1L47.2 7.6L46.3 6.2L44.3 5.2L44.9 3.1ZM23.4 54.9L22 55.7L21.5 53.2L21.1 51.7L21.3 49.7L22.5 49.7L23.5 49.9L23.9 51.5L24.3 53.4ZM68.2 4.8L69.1 5.1L69.9 6.9L69.5 9.4L68.3 10.2L67 10.4L67 7.8L66.1 5.7L67 3.6ZM2.6 11.3L2.8 9.9L4.4 8.8L6.3 9.4L7.2 10.6L7.7 12L6 12.6L4.5 13.8L2.6 12.9ZM62.2 32.9L62.5 25.2L63.6 17.7L66 15.7L66.7 25.3L68.4 31.3L67 38.1L65.2 38.8L63.4 39.2Z"/><use href="#s5" clip-path="url(#g50)"/><use href="#r5"/></g></g>
<g transform="translate(105 750)" clip-path="url(#tc)"><g filter="url(#bl)"><rect width="69.5" height="69.5" fill="#060606"/><use href="#b5"/><path fill="#0c870c" d="M66.3 31.2L64.6 29.2L64.2 24.7L63.4 18.4L65.7 16.9L67.7 16.4L68.6 21.3L68.8 25.5L68.3 30.4ZM68.4 31.2L70 36.8L69.8 44.7L68.8 51.1L66.8 50.3L64.7 50.2L63.7 43.1L65.5 38.4L66.4 34.2ZM18.6 5.8L18.2 7.4L16.4 7L14.7 7.6L14.3 6L14.8 4.9L15.3 3.5L17 3.4L18.3 4.4ZM26 14.9L27 13.2L27.5 12.1L28.6 10.8L29.6 12.2L29.9 13.8L29.3 15.1L28.6 17.1L27.4 15.7ZM49.2 3.5L49.6 5L50.1 7.1L47.9 7.2L46.6 6.7L45.9 5.6L45.5 4.3L45.8 2.2L47.8 3ZM21 51.6L21.5 49.9L22.6 49.3L24 49.2L24.5 51.4L24.4 53.7L23.3 55.1L22.2 54.1L20.7 53.9ZM68.1 4.2L68.9 5.1L69.2 6.7L69.3 8.7L68.3 9.3L67.3 10L66.6 8.4L66.4 6.2L67 4.4ZM3.7 12.5L1.7 11.7L2.6 10.2L4 9L6.1 9.1L7.3 10.3L6.9 11.6L6.5 12.7L5 13.2ZM7.5 2.3L8.2 4.6L8.1 7L5.6 6.9L3.6 8.3L2.8 6.2L2.5 4.4L2.7 2L5.1 2.4ZM8.9 50.9L10.7 51.9L12.9 52.3L12.6 54.5L11.4 55.6L10 55.7L7.9 56.6L7.5 54.5L7.7 52.7Z"/><use href="#s5" clip-path="url(#g51)"/><use href="#r5"/></g></g>
<g transform="translate(191 750)" clip-path="url(#tc)"><g filter="url(#bl)"><rect width="69.5" height="69.5" fill="#060606"/><use href="#b5"/><path fill="#0c870c" d="M63 27.8L63.1 21.1L65.1 18.1L66.8 18.5L69 18L68.9 23.8L68.8 28.8L67.1 32L65 31.5ZM66.1 35L67.9 31.3L68.6 38.1L69.5 43L69.1 49.7L67.2 50.3L65 51.8L64.1 44.6L65.5 39.4ZM18 4.6L18.9 5.9L17.8 7.1L16.4 7.4L14.5 7.7L14.5 6L14.6 4.8L15.4 3.6L17.2 3.1ZM28.4 11.3L29.5 12.2L29.5 13.7L30 15.8L28.7 16.8L27.1 16.8L26.3 14.9L26 12.8L27 11.1ZM46.2 3.5L47.5 2.6L49.4 2.8L50.5 4.5L50.2 6.6L48.4 7.6L46.3 8.1L44.9 6.5L44.8 4.5ZM21.4 53.3L20.3 51.5L21.3 49.6L22.5 48L23.6 49.9L23.8 51.5L24.5 53.6L23.6 55.7L22 55.4ZM67.8 10.7L66.6 9.8L66.9 7.2L66.9 5.4L67.6 3.5L68.6 4.7L69.4 5.7L69.7 7.9L69 9.8ZM5.6 12.8L4.3 12.7L3.3 12L3.1 11L3.6 9.9L5.1 9.9L6.6 9.9L8.1 11L6.4 12ZM9.2 5.2L8.5 7L6.3 6.9L4.6 6.8L3 5.8L2.4 3.7L4.3 2.2L6.6 3L8.2 3.7ZM13.2 54.7L14.2 56.1L14.8 57.6L13.6 58.8L11.9 58.8L10 58.8L8.1 57.4L8.7 55.1L10.9 54ZM46.1 53.4L43.6 53.7L42.4 51.4L41.8 49.4L42.5 46.9L45.1 47.8L47.1 47.6L48.8 49.4L47.7 51.6Z"/><use href="#s5" clip-path="url(#g52)"/><use href="#r5"/></g></g>
<g transform="translate(276.5 750)" clip-path="url(#tc)"><g filter="url(#bl)"><rect width="69.5" height="69.5" fill="#060606"/><use href="#b5"/><path fill="#0c870c" d="M69.3 22.3L69.5 28.1L67.8 32.2L65.4 33.7L63.2 29.7L63 22.8L64.8 18.9L66.3 13.7L67.7 19.9ZM66.8 54.1L65.4 48.2L63.9 43.2L64.8 36.7L66.4 34.2L68.3 31.6L69.4 37.8L68.7 43.5L68.4 49.1ZM15.9 7L14.9 6.6L13.9 5.5L14.7 4.2L16.1 3.6L17.8 3.6L19 4.9L18.1 6.3L17.1 7ZM27.2 13L27.5 11L28.6 12.2L29.7 12.5L29.4 14.1L29.6 16.1L28.2 16.9L27 15.8L26.8 14.2ZM45.6 5.6L45.1 4L46.2 2.4L48 2.8L49 3.8L50.4 5.1L49.9 7.2L47.7 6.8L45.8 7.6ZM21.2 53.2L21.4 51.6L21.8 50.2L22.7 49.5L23.6 50.1L24.4 51.6L24.3 53.8L23 54.3L21.7 55.5ZM69.1 6L69.8 8.1L68.9 9.8L67.9 9.2L66.9 9.1L66.1 7.2L66.8 5.3L67.6 3.3L68.5 5.1ZM2.6 10L4.4 9.6L6.1 9.3L7.7 10.3L7.2 11.7L6.4 12.9L4.9 12.7L2.7 13.2L2.5 11.5ZM4.7 27.4L6.6 27.6L7.6 28.8L8.8 30.2L8.1 32L6.4 33.3L4.1 32.9L2.8 30.9L2.9 28.7ZM11.7 54.1L11.5 55.7L10.6 57.1L8.6 57.6L6.9 56.6L5.7 55.1L6.3 53.3L8.4 52.6L10.3 52.9ZM70.2 7L67.9 9.5L65.4 10.3L62.8 9L63.4 5.1L64.2 2.9L65.4 .4L68 -.3L69.7 3ZM10.3 9L5.9 8.3L7.2 5L8.9 2.6L12.4 1.7L16.1 2.6L17.4 5.6L17.1 8.8L13.8 11ZM25.9 12.8L27.3 12L28.8 11.7L30.5 12.5L30.3 14.4L30.1 16.5L28 17.3L26.5 15.8L24.9 14.5Z"/><use href="#s5" clip-path="url(#g53)"/><path fill="#1060e0" d="M65.1 17.8L67.2 17.6L68.5 19.5L68.4 21.6L68.1 24.1L65.8 25.6L62.8 25L61.4 21.7L62.5 18.5Z"/><use href="#r5"/></g></g>
<g transform="translate(363 750)" clip-path="url(#tc)"><g filter="url(#bl)"><rect width="69.5" height="69.5" fill="#060606"/><use href="#b5"/><path fill="#0c870c" d="M64.6 25.8L64.5 22L64.7 15.7L67.2 13.5L69.3 17.7L69.5 24.1L68.5 28.6L67.1 33.7L64.9 31.5ZM67.8 31.5L68.9 37L69.3 42.7L68.3 46.6L67.3 52.6L65.9 47.6L63.7 45.2L65.2 39.1L66.1 34.8ZM18.4 7.4L16.6 8L15.3 7L14.4 6.1L14.5 4.9L15.3 3.8L16.8 3.5L18.5 4.1L18.7 5.7ZM29.5 14.2L29.5 16.1L28.1 16.7L27 15.6L26.4 14.2L27.1 12.9L27.7 11.6L29.1 10.8L29.7 12.7ZM45.6 5L46.2 3.8L47 1.7L48.7 3L49.9 4.2L50.1 6L48.8 7.3L47.1 7.2L45 7ZM24.7 50.6L24.3 53L23.6 54.7L22.3 55.5L21.3 53.9L21 52L20.8 49.5L22.2 48.8L23.3 49.9ZM67.8 9L66.6 9.3L66.5 7L66.6 4.6L67.8 4.7L68.6 5.1L69.7 5.8L69.3 8L68.7 9.6ZM3.9 9.6L5.4 9.8L7.3 10L7.4 11.4L7.4 13.1L5.2 12.7L3.3 13.4L2.1 12L2.2 10.3ZM5 33.2L3.7 31.5L3 29.6L4 27.8L5.9 26.9L7.2 28.5L8.8 29.4L8.2 31.1L7.1 32.6ZM24.1 52.9L26.6 50.2L31.4 50.9L35.1 53.2L33.7 56.3L30.8 58.2L27.2 58.5L24.9 56.8L21.1 55.1ZM64 7.1L63 4.7L63.2 1.1L65.8 1.6L67.5 1.8L70.2 3.3L69 6.9L67.3 8.8L65.1 10.3ZM17.7 8.6L13.2 8.5L10.5 9.5L6.8 8.5L7.3 5.4L9.8 3.9L12 2.6L14.5 3.5L18.3 5.1ZM30.3 14.6L30.2 17L27.8 16.2L25.5 16.6L24.5 14.4L24.7 11.7L27.1 10.7L29.2 11.2L30.4 12.8Z"/><use href="#s5" clip-path="url(#g54)"/><path fill="#1060e0" d="M66.4 17.6L67.8 19.2L68.4 20.9L68.7 23.4L66.8 25.7L64.6 23.9L63.9 22L63.7 20.1L64.3 17.9Z"/><use href="#r5"/></g></g>
<g transform="translate(449 750)" clip-path="url(#tc)"><g filter="url(#bl)"><rect width="69.5" height="69.5" fill="#060606"/><use href="#b5"/><path fill="#0c870c" d="M69.8 28.5L67.5 30.4L65.8 30.5L64.3 27.8L63.1 22.9L64.6 18.5L66.4 18.2L68.2 18L68.6 22.7ZM66.8 33.7L68 36.4L68.7 40.2L68.5 44.5L68.1 49.8L66.5 49.7L64.3 49L64 41.3L64.6 33.8ZM15.7 4L16.8 4.4L18.7 4.4L18.2 5.9L18 7.5L16.2 7.6L15.3 6.7L14.3 5.9L14.5 4.6ZM27.1 15.1L26.2 13.8L26.7 12.1L27.9 11.4L28.8 12.3L30.5 12.6L29.5 14.5L29.2 16.3L27.9 16.2ZM47.4 6.7L45.3 7.3L45.7 5.2L44.8 3.2L47 3.2L48.3 3.3L50.2 3.7L50.4 5.7L48.5 6.3ZM23.5 53.4L22.8 54.9L21.4 55.1L20.6 53L21 50.8L21.6 48.6L23.1 48.2L24.3 49.9L24.4 52.2ZM68.3 3.2L69.2 5L70 7L69.4 9.4L68.2 9.1L67.1 10.1L66.7 7.9L67.1 6.3L67.1 3.8ZM6 12.4L4.8 13.7L3.5 12.5L2.1 11.6L3.6 10.6L4.5 9.9L6.2 9.2L6.6 10.7L6.7 11.6ZM8.5 29.1L10.5 29.8L11.4 31.9L10.2 33.8L8.5 34.4L6.8 34.2L4.4 33.4L5.6 31.2L6.4 29.3ZM29.1 43.2L30.7 42.1L32.7 43.1L33.2 45.3L32.5 47.5L30.3 48.2L28.4 47.3L27.1 45.8L27.7 44ZM65.9 10.8L63.3 9.5L63.6 5.6L62.7 2.2L64.6 -.7L67.5 -.7L68.9 2.7L68.3 5.6L68 8.6Z"/><use href="#s5" clip-path="url(#g55)"/><path fill="#1060e0" d="M64.7 24.8L62.2 23.4L63.7 20.5L64 18.2L66.1 16.3L68.2 18L70.6 20.2L69.7 23.5L67.2 24.9Z"/><use href="#r5"/></g></g>
<defs><clipPath id="g00"><path d="M54 0L69.5 0L69.5 11L63 10L57 7ZM42.5 7L40.5 8.8L38.9 10.5L35.5 11L34.6 8.6L31.9 6.7L35.5 5.7L37.6 5.1L40.7 5ZM45.5 12.4L47.3 10.7L49.6 10.9L51.4 11.9L51.5 13.9L50.6 15.2L49.6 17.9L47.6 16.1L46.1 14.8ZM68.8 17.6L69.7 21.1L70.4 25.5L69.5 31.2L66.8 32.5L65.5 27.2L63.5 23.1L64.9 17.9L66.8 13.9ZM26 36.7L23.1 37.5L20 36.4L20.9 34.5L20.9 32.1L25.2 32.9L29.5 32.3L29.9 34.7L29.9 36.7ZM12.9 39.1L11.7 38.3L9.7 37.4L10.4 35.3L12.4 34.9L14.3 34L15.4 35.8L14.7 37.4L14.8 39.5ZM10.5 25.3L9.3 25.8L8.7 24.8L7.7 23.6L8.9 22.6L10 22.3L11.3 22.4L11.3 23.8L11.2 24.7Z"/></clipPath><clipPath id="g01"><path d="M54 0L69.5 0L69.5 11L63 10L57 7ZM33.8 10.8L33.6 8L34.5 6.3L35.4 3.6L39 4.3L40.3 6.3L43.2 8.1L40.8 10.2L37.6 11.4ZM49.4 16L47.1 17.2L46.6 14.7L45.8 12.7L47.4 11.1L49.6 10.1L50.9 12.2L51.7 13.8L51.1 15.5ZM70.9 22.9L69.7 27.3L67.9 27.9L65.5 31.6L64 26.2L65.2 21L66.2 17.9L67.8 18.1L70.7 16.4ZM22.8 33L26 31.6L27.9 33.6L30.2 35L29.1 36.8L25.9 37.6L22.5 37.5L20.9 35.9L20.4 34.1ZM13.8 38.7L12.6 38.6L10.6 38.7L10.7 36.8L11.5 35.5L12.8 34.4L14.2 35.3L15.1 36.4L15.1 38ZM10.6 22.3L11.6 23.1L11.6 24.3L10.9 25.1L10 26.3L8.4 25.9L8.1 24.3L8.3 23L9.4 22.2ZM21.5 35.3L17.8 34.9L14.9 33.5L13.5 31L16.6 29.1L20.5 28.7L25.8 28.5L28.2 31.5L24.3 33.8ZM14.9 19.7L16.2 20.8L16.6 22.5L15.7 24.1L13.9 25L12.8 23.3L12.3 22.3L12.6 21.1L13.1 19.4Z"/></clipPath><clipPath id="g02"><path d="M54 0L69.5 0L69.5 11L63 10L57 7ZM37.1 5.2L40.2 4.5L42.8 6.3L42.3 8.9L39.4 10.1L36.8 9.8L33.3 9.8L33.8 7.4L33.9 5.1ZM49 17.2L47 16.1L46.4 14.2L46.3 12.2L47.7 10L50.3 10.3L52.4 11.9L51.6 14.3L50.5 15.6ZM71 19.8L69.8 25L68.7 27.7L67.2 28L64.9 28.3L64.8 23.1L64.9 17.8L67 17.1L69.1 16.4ZM19.5 36.7L19.8 34.5L22.1 33.1L25 32.2L28.3 32.8L28.2 34.7L28.1 36L27 38.1L23.7 37ZM11.3 36.9L11.6 35.8L12.7 34.9L14.2 35.1L16.1 36L15.8 38.1L13.9 38.7L12.6 38.7L10.7 38.8ZM9.4 26.3L8.2 25.4L8.3 23.9L8.3 22.4L9.8 22.1L10.9 22.7L11.4 23.6L11.5 24.7L10.7 25.4ZM37.6 6.7L43.3 4L45.4 9.3L46.9 12.9L44.1 16L40.1 17.7L36.7 15.4L31.1 13.4L34.4 9.4ZM51.7 18.8L51.8 15.6L53.9 12.4L57.3 14.3L60.9 15.1L62.5 19.1L59.3 21.8L56 23L52.9 21.8ZM11.4 24.4L9.2 25.4L6.3 25.7L5.4 23.9L5.4 22.6L5.6 20.9L8.1 20.7L10.4 21.2L12.8 22.5ZM27.4 34.1L31 34L32.3 35.8L31.6 37.6L28 37.9L24.3 38.9L22.6 37L21.7 35.3L23.6 33.5Z"/></clipPath><clipPath id="g03"><path d="M54 0L69.5 0L69.5 11L63 10L57 7ZM34 9.3L33.2 7.3L33.4 4.6L37 4.1L39.4 5.5L42.6 6.5L40.5 8.5L39.2 10.1L36.2 11.2ZM46.6 15.3L46.7 13.5L46.8 11.4L48.9 10.3L51.4 10.6L51.9 13.2L51.4 15.1L50.5 17.5L47.8 17.5ZM70.6 18.8L70.9 24.5L69.3 28.2L67.5 30.1L66 27.1L64.2 24.3L64.1 18.1L66.7 17.4L68.5 16.7ZM22 34.2L22.6 31.9L26.2 32.9L30.2 33.1L30.5 35.4L29.5 37.7L25.2 37.1L21.5 37.6L20.4 35.6ZM12 40.2L11.3 38.1L10.9 36.8L11.7 35.6L12.9 34.7L14.2 35.4L15.1 36.5L14.6 37.8L14.2 39.7ZM8.2 24.2L8.8 23.2L9.6 22.6L10.7 22.5L11.8 23.2L11.5 24.4L11.3 25.8L9.8 26.5L8.5 25.6ZM44.6 9.5L47.9 12.6L44.2 15.5L40.4 16.2L35.1 17.5L35.7 12.9L33.9 9.6L37.8 8L42.1 6.1ZM7 21.6L8.1 24.5L8.3 26.8L7.7 29.7L4.7 30.4L1.2 29.9L1.6 26.4L2 24L3.9 22ZM17.8 40.8L18.6 39.1L19.8 37.1L22.7 37.8L24.6 38.7L26.9 40.2L24.3 41.4L22.5 42.9L19.9 42.1ZM31.5 21.5L30.2 19.4L28.8 17.1L30.5 14.7L33.2 13.3L35.9 14.9L36.1 17.6L36.6 20.3L34.3 22.2Z"/></clipPath><clipPath id="g04"><path d="M54 0L69.5 0L69.5 11L63 10L57 7ZM37.4 11.6L35.4 9.2L32.2 8.1L34.2 6.1L35.6 3.6L39 4.8L42.7 5.5L41.3 8L39.6 9.4ZM49.7 16.5L48 15.8L47 14.7L46.3 13L47.5 11.6L49.3 10.8L51.6 11.3L51.2 13.6L51.1 15.3ZM69 27.9L67.3 32.1L64.8 29.9L63.8 24L65.8 20.3L66.3 13.6L68.4 17.8L70.7 19.2L70 24.4ZM28.4 36L26.2 36.7L23.3 37.8L21.8 36.1L21.3 34.7L21.6 32.9L24.9 32.7L28.3 32.7L31 34.3ZM10.7 36.3L11.3 34.5L13.3 34.4L15.2 34.9L15.6 36.8L15.4 38.8L13.4 38.6L11.5 39.9L10.9 37.9ZM10.7 22.9L12.3 23.3L12 24.8L11.1 26.1L9.6 25.8L8.9 24.8L8.5 23.9L8.7 22.8L9.8 22.3ZM36.6 10.7L36.4 8.8L37.3 5.6L41.3 6.3L43.9 7.9L43.6 10.2L43.3 12.5L40.5 14L37.8 12.4ZM15.7 25.1L17.7 24.2L19.9 24.7L21.9 26.2L22.6 28.8L20 30.6L17.3 29L13.9 29.3L13.2 26.6ZM29.6 24L27.1 24L26.2 22.1L27.3 20.3L29.4 19.7L31.2 20.2L33.1 21L32.2 22.6L32 24.7Z"/></clipPath><clipPath id="g05"><path d="M54 0L69.5 0L69.5 11L63 10L57 7ZM37.8 5.3L40.7 5.2L40.7 7.3L40.2 8.9L38.4 9.9L35.4 10.7L33.8 8.7L32.8 6.6L34.5 4.5ZM45.9 16.1L46.6 13.7L47 12L48.7 11.3L50.8 10.9L51.3 13.1L52.4 15.2L50 15.7L48.3 16.8ZM66.6 29L65.6 25.7L65.4 22.2L66.1 19L67.5 16.6L69.7 16.7L70.3 21.8L69.3 25.4L68.9 32ZM28.1 36.1L26.7 37.9L22.9 37.8L19.5 36.6L19.1 34.3L22.5 33.2L25.2 32.2L28 33.2L31.2 34.6ZM15.4 36.4L15.3 38.1L14.2 39.8L12.3 39.6L10.3 38.8L10.5 36.7L10.7 34.6L12.8 34.6L14.8 34.6ZM11.2 22.2L11.5 23.5L11.8 24.8L10.6 25.1L9.7 25.4L8.1 25.4L8.5 23.9L8.3 22.4L9.7 21.9ZM26.6 20.6L30.9 20.9L34.1 22.4L36.1 25L33.7 27.3L31.5 31.3L26.2 29.9L23.3 26.9L22.3 22.9ZM12 29.7L10.5 31L8.1 31.3L7.2 29L7.6 27.1L8.3 25.1L10.6 24.5L12.9 25.5L12.6 28ZM41.5 15.5L44.2 14.9L46.5 14.8L48.9 16.2L47.9 18.8L46.7 20.5L44.7 21.4L42 20.9L41.1 18.3ZM18.6 37.3L19.9 35.8L22.4 35.6L23.9 36.8L26.9 37.8L24.2 39.1L22.6 39.6L19.9 40.8L19 38.9Z"/></clipPath><clipPath id="g10"><path d="M0 5L6.3 5L7.5 10L7.5 40L5.5 55L0 55ZM0 0L17.5 0L17.5 8.8L6 8ZM13.8 10L17.5 10L17.5 29L13.8 27ZM17.8 46.3L17.3 43.9L17.2 41.8L17.9 39.5L19.3 40.4L20.4 41.2L20.5 43.1L20.7 45.5L19.2 45.5ZM60 15.4L62.5 15L64.7 15.8L65.9 17.5L66 19.8L64.1 21.9L61.4 20.4L59.3 19.6L60 17.6ZM63.8 32.3L63.7 34.1L61.9 35.4L59.3 35.4L58.8 33.3L57.4 31.7L59.3 30.5L61.2 30.4L63.7 30.3Z"/></clipPath><clipPath id="g11"><path d="M0 5L6.3 5L7.5 10L7.5 40L5.5 55L0 55ZM0 0L17.5 0L17.5 8.8L6 8ZM13.8 10L17.5 10L17.5 29L13.8 27ZM19.1 39.9L20 41.2L21.6 42.6L20.6 44.8L19.4 45.3L18.2 46L17.5 44.2L16.5 42L17.9 40.5ZM65.1 15.6L67.6 17.5L65 19.4L63.9 21.9L61.1 20.7L58 19.9L58.5 17.2L59.5 14.6L62.7 14.2ZM57.9 35.1L57.2 32.8L58.8 31.2L60.4 30.7L62.3 30.1L64.8 31L63.4 33L62.7 34.5L60.7 35.5ZM56.7 27.4L55 23.5L53.7 18.3L57.8 16.1L61.9 14.3L65.1 17.9L65.8 22.8L64.4 27.4L60.3 27.4ZM25.2 3.4L24.8 2.2L23.9 .7L26 0L28.3 -.2L29.6 1.1L29.9 2.4L28.7 3.4L26.9 3.6Z"/></clipPath><clipPath id="g12"><path d="M0 5L6.3 5L7.5 10L7.5 40L5.5 55L0 55ZM0 0L17.5 0L17.5 8.8L6 8ZM13.8 10L17.5 10L17.5 29L13.8 27ZM21.6 43.5L20 44.7L19.2 47.4L18.1 45L16.6 44L17.7 42L18.2 39.9L19.5 40.3L21.2 40.6ZM62.2 20.5L58.9 20.9L59.6 18.2L60.3 16.6L61.3 13.7L64.1 15.3L66 16.7L66.2 18.9L65 21.2ZM58.6 34.9L57.8 33L58.3 31.2L60 30.1L62.4 29.5L63.5 31.3L64 33L62.9 34.4L61 34.5ZM-.8 21.5L1.7 12.7L5.3 16.5L7.8 23.9L5.9 32.6L5.1 39.8L2.4 44L-.3 39.3L-1.6 30.7ZM65.5 25.2L62.1 26.8L59.8 28.2L57.5 26.7L54.7 24.7L57.1 22.2L58.5 19.4L61.5 20.3L63.2 22.3Z"/></clipPath><clipPath id="g13"><path d="M0 5L6.3 5L7.5 10L7.5 40L5.5 55L0 55ZM0 0L17.5 0L17.5 8.8L6 8ZM13.8 10L17.5 10L17.5 29L13.8 27ZM17 42.3L17.4 39.5L19.1 40.2L20.3 40.8L21.3 42.5L21.1 45.3L19.6 46.3L18.4 45.3L17.4 44.4ZM59.4 17.8L59.2 15.3L62 14L64.1 16L65.8 17.2L66.2 19.4L64.2 20.9L61.5 21.5L59 20.2ZM63.3 32.1L63.4 33.6L62.5 35.9L59.7 35.5L57.4 34.2L57.9 32.1L58.8 30.3L61 30.4L63 30.5ZM.7 32.6L-.6 25.9L.8 19.6L2.1 13L4.5 14.6L5.5 21.3L5.6 27.5L4.7 33.4L2.8 33ZM60.1 47.5L62.5 46.5L65.1 46.5L65.6 49.1L65.4 50.9L64.9 53.5L62.1 54.3L60.9 51.7L60.5 49.9Z"/></clipPath><clipPath id="g14"><path d="M0 5L6.3 5L7.5 10L7.5 40L5.5 55L0 55ZM0 0L17.5 0L17.5 8.8L6 8ZM13.8 10L17.5 10L17.5 29L13.8 27ZM21.5 41.6L21.2 44.4L20.2 46.6L18.7 45.9L17.9 44.5L17.2 42.9L17.1 40.2L18.7 39.1L20.3 39.4ZM64.1 20.3L62 20.7L60.4 19.5L57.8 18.1L59.9 16.2L61.5 13.7L64.5 14.9L66.7 16.6L67.2 19.4ZM60.8 35.1L58.2 34.9L58.3 32.7L59.2 31.4L60.2 30.1L62.3 30.1L64.4 31.2L64.3 33.2L62.7 34.4ZM8.9 31.4L5.2 34.4L2.7 30.3L.3 26.4L.9 17.3L2 10.5L4.2 7.7L6.1 12.2L7.3 18.7ZM58.1 26.8L60.1 27L62 29.4L59.8 31.6L59.1 35L56.5 34.5L54.7 32.2L55.1 29.1L55.5 25.4ZM28.6 43.9L28.9 45.5L27.4 46L26 45.9L24.6 45L25 43.3L25.6 41.7L27.2 42.3L28.4 42.7Z"/></clipPath><clipPath id="g15"><path d="M0 5L6.3 5L7.5 10L7.5 40L5.5 55L0 55ZM0 0L17.5 0L17.5 8.8L6 8ZM13.8 10L17.5 10L17.5 29L13.8 27ZM17.7 42L18.2 40.4L19.5 39.9L20.8 40.8L20.4 43.2L20.3 45L19.2 46.7L17.6 46.5L17 44ZM66 21L62.9 21.5L60.8 20.2L57.8 19.1L58.9 16.6L60.8 14.9L63.4 15.1L65.3 16.3L65.7 18.2ZM58.2 32.7L58.2 30.9L60.2 30.1L62.4 30L63 31.7L64.6 33.3L63.3 35.2L60.7 35.4L59.3 33.9ZM1.7 12.4L4.1 9.4L6.2 14.1L7.2 20.5L8.1 30.4L5.7 38.8L1.9 39L-.2 29.3L.3 19.4ZM58.1 21.9L57.4 20.3L57.5 18.3L59.3 17.3L61.4 16.9L62.3 18.9L63.7 21L62 22.8L59.8 22.5ZM24.9 41.1L23.5 40.2L24.1 38.7L25.4 37.7L26.7 38.5L28.5 38.9L27.5 40.4L27.4 42.1L25.8 42.5Z"/></clipPath><clipPath id="g20"><path d="M2.5 12.5L2.5 8L6 7.7L8.6 5.8L9.6 9.5L11.3 12.5L9.2 15L7 17.8L5.1 14.5ZM4.6 20.6L5.4 25.6L5.5 29.9L3.5 31.3L2 32.2L.6 30.5L-.1 27.3L.3 23.6L1.9 19.8ZM38.6 38.4L38.4 45L38.7 48.9L36.9 52.4L34.2 51.4L30 51.9L29.3 45.9L32.4 42.7L34.3 37.1ZM41.5 63.2L38.2 62.1L37 59.4L36.5 56.7L38.7 54.2L42 55.4L44.6 56.3L46.6 58.9L44.3 61.4ZM54 9.6L50.5 10.9L47.5 9.5L44.7 8.6L43.2 5.9L46.4 4.3L49.4 2.5L53.4 3.6L52.8 6.7ZM67.2 51.4L69.3 56.2L71.8 60.2L70.3 65.5L66.9 68.6L64.3 64.1L60.5 62.7L61.3 57.4L64.2 55.2ZM4 50L3.7 52.3L3.3 54.1L2.2 56.6L.8 54.4L-1.4 53.2L.2 50.6L1.3 49.6L2.8 48ZM19.1 21.8L17.3 23.8L15.8 25.9L12.7 26.3L11.7 23.4L11.6 20.9L12.7 18.3L15.4 19.3L18.2 19.1ZM26.9 18L24 19.8L19.4 22.6L17.6 18.2L16.2 15.4L17.6 12.2L21.7 10.1L26.7 11L27.4 15Z"/></clipPath><clipPath id="g21"><path d="M7.7 15.6L5.2 16L3.6 13.4L3.3 9.9L4.8 6.8L7.7 5L10.5 7.3L10.6 11.3L10.3 14.9ZM2.2 20.9L4.3 22.2L6.5 25.3L4.8 29.5L4.1 34L1.8 33.3L-.6 32L-1.9 26.8L.6 23.8ZM35 51.8L31.8 52.1L28.9 48L31.5 43.4L33.6 40.5L36.4 40.7L39.3 42.8L40.5 48L38.6 53ZM39.8 53.5L43.9 53.8L46.9 56.5L45.4 59.8L44.6 63.6L40.1 63.8L38.4 60.5L35.8 58.6L36.1 55.1ZM46.5 4.6L49.2 3.4L51.9 4.7L55 6.4L53.6 9.2L50.7 11L46.8 11L45.9 8.2L43.8 6.1ZM69.5 56.9L70.5 60.9L69.1 65L66.2 67.3L63 65.5L62.1 61.2L61 56.2L64.8 55.8L67.6 53ZM2 47.1L3.2 49.9L4.3 51.4L4.1 53.8L2.7 54.7L1.1 56L-.1 53.8L.2 51.6L.7 49.7ZM12.2 24.3L11.5 22L11.8 19.2L14.3 17.6L17.6 17.6L18.7 20.7L18.2 23.2L17.4 26.3L14.3 25.7ZM23.6 10.1L26.1 13.5L29.6 16.2L26.2 19.1L23.2 22.9L18.2 20.8L15.8 17.6L15.3 13.8L19.8 12.6ZM33.5 43L38.7 42L43.9 40.5L47.6 44.9L46 49.9L44.2 54.6L38.8 56.5L36.1 51.5L32.9 48.3ZM17 66.1L14.5 62.4L15.3 59.2L14.8 54.8L20.2 53.3L24.5 55.9L25.2 59.4L27.1 63.5L21.8 64.3Z"/></clipPath><clipPath id="g22"><path d="M9.6 13L8.9 16.6L6 16.9L3.4 15.1L4.5 11.3L3.2 6.7L6.7 7.5L9.5 6.4L9.7 10.5ZM.1 28.1L.5 25L1.7 22.1L3.7 21.7L5.4 24.5L5.8 29L4.8 33.6L2.4 31.9L-.3 33.5ZM36.9 40.1L40.4 42.6L40.3 48.5L38.6 54L34.6 53.7L30.5 53.4L31 47.1L31.3 42.7L34 41.3ZM34.9 56.1L38 53.2L42.7 52.6L44.2 56.5L45.2 58.7L44.7 61.6L41.4 62L37.9 62.5L35.1 60ZM43.6 5.6L46.8 4.2L50.1 2.2L52.8 4.6L55 7L53.7 9.9L50.1 11.4L45.8 11.2L42.6 8.8ZM69.6 60.4L69.1 64.3L66.3 64.6L63.5 65.2L60.3 62.3L62.8 57.9L64 54L67.3 52.5L70.8 55ZM4.5 55.4L2.5 56.7L1 54.4L0 53L-1.1 50.1L.4 47.4L2.5 48.5L4.4 49.2L3.7 52.1ZM18.6 18.5L18 21.8L18.9 24.8L16 26L13.1 25.9L10.7 23.9L11.8 21.1L12.3 17.9L15.5 16.8ZM15.6 19.2L14.7 15.2L18.1 12.5L21.8 11.9L24.9 13.1L29.7 14.7L27.3 18.3L25 21.9L19.4 22.3ZM35.2 55.6L26.5 51.9L33.1 44.3L34.6 34.8L42 39.9L50.7 39.7L47.1 48.8L45.1 53.8L41.1 62.8ZM29.6 65.9L24 67.6L18.5 67.3L13.2 64.8L12.1 60L18.4 58.2L22.7 56.9L29.4 56.9L29.8 61.6ZM63.2 51L64.4 55.3L63.8 60.3L58.7 60.9L54.3 60.8L51.3 57.1L52.2 52.6L55.2 49.6L59.6 47.8Z"/></clipPath><clipPath id="g23"><path d="M7.7 15.4L5.2 16.3L2.5 14.1L3.9 10.3L5.2 7.9L7.4 6.4L9.3 8.6L12.1 11.1L9.3 13.8ZM-.2 30.3L-.1 26.3L-.1 20.6L2.7 20.5L5.1 21.9L5.7 26.7L5.5 31.4L3.3 32.6L1.5 32.3ZM38.6 49.9L36.2 52.5L33.5 51.8L30.5 50L30.2 44.9L32.7 42L35.3 38.1L37.6 42.3L40.5 45.4ZM42.3 54.2L46.6 55L46.3 58.9L45.2 62.1L41.6 64.2L38.6 61.6L35.8 59.8L34.7 56L38.6 54.1ZM45.4 3.2L49.4 3.5L53 4L52.5 6.8L53.4 9.3L50.2 10.3L47.4 9.6L44.2 8.7L42.9 5.8ZM71.1 60.7L68.5 63.7L66.3 66.1L63.8 64.4L61 61.8L61.1 56.6L64.1 54L67.2 53.8L69.2 56.8ZM-1.1 54.3L-.4 51.1L.9 49.8L2.1 49.1L4.1 48.8L4.5 51.6L3.8 53.8L2.8 56L1.2 54.6ZM19 18.6L18.7 21.9L17.3 23.9L15.9 26.6L13.5 24.7L11.6 23.3L12.1 21L12.6 18L15.5 18.9ZM25.4 20.5L21.1 20.5L17.6 19L16.1 16.1L18.5 13.7L20.6 10L25.5 11L29.1 13.8L26.2 17.2ZM42.5 45.8L45.8 51.6L43.6 57.3L41.5 62L36.4 66L31.7 61.3L28.7 55.1L31.8 49L36.6 46.3ZM8.9 34.5L10.8 37.1L13.2 40.3L10.7 43.2L8.7 46.9L6.4 43.4L3.8 41.8L3.8 37.7L6.7 36.7Z"/></clipPath><clipPath id="g24"><path d="M9.3 14.3L7.5 16.6L5.3 14.9L2.1 13.5L2.2 8.8L4.7 5.5L7.9 6.5L9.3 9.2L10.5 11.7ZM4.1 30.5L2.8 32.6L.1 34.8L-1.4 29.9L.2 25.6L1.1 22.1L3 22.7L4.3 24.8L5.2 27.8ZM38.2 41.8L39.6 46L40.3 52.3L36.5 55.5L33.3 51.7L29.8 50L28.5 43.7L32.5 41L35.7 36.5ZM47.4 57.3L46.6 61.1L43.5 63.9L39.3 63.1L36.6 60.9L35.2 57.8L37.2 54.9L40.7 52.8L45.2 53.8ZM46 5.5L48.1 4.4L51.7 2.7L53.9 5.3L53.9 8L51.3 9.5L48.7 9.9L45.9 9.4L44 7.3ZM61 59.9L61.4 54.3L65.3 54.1L68.8 53.2L70.9 57.6L70.6 62.5L68.2 65.7L65.2 66.3L62.6 64ZM3 48.8L3.6 50.9L3.7 52.7L3.1 54.4L1.8 55.3L.3 54.6L-1.4 52.4L-.8 49L1.2 47.4ZM11.1 23.9L10.6 20.9L12.8 19L15.3 17.3L16.9 20L17.6 21.7L18.7 24.5L15.8 24.7L13.8 24.7ZM24.6 19.1L21.2 21.8L16.2 20.4L14.6 16.4L17.9 13.6L20.8 12.2L25.5 10.4L25.9 14.6L27.6 17.3ZM26.7 42.3L31.6 40L35.5 43.4L39.2 47.6L37.9 54.1L34.3 57.5L30.2 58.7L26.9 54.7L27 49.2ZM10.3 54.3L15.4 55.2L18.3 59.1L15.9 63L12.4 65.9L7.5 64.8L4.6 62.3L3.1 58.8L7 56.9ZM43.5 36.9L45.9 36.5L48.6 37.4L49.3 40.3L47.7 42.6L45.3 42.9L43.5 42.1L41.2 41.1L40.5 38Z"/></clipPath><clipPath id="g25"><path d="M2.5 11.4L3.4 7.3L6.5 7L9.1 6.8L11.8 9.3L10.7 13.4L9.4 17.2L6.5 15L3.3 15.5ZM4.3 31.4L2.7 34L1 31.5L-1.4 29.3L-.9 24.1L1.6 23.2L3.7 19.7L5 24.2L6.5 28.5ZM31.3 53.1L30.7 47.7L31.3 43.3L32.7 37L37.2 37.4L38.7 43.3L39.3 47.6L39.5 54.5L35 56.5ZM46.6 59.1L43.7 61.1L41.3 64.3L38 61.9L36.5 59.4L37.6 57L38.4 53.1L42.7 53.8L44.5 56.6ZM52 3.3L55.4 5.4L54.2 8.5L50.8 9.5L47.7 11.8L43.7 10.2L43 6.9L46.4 5.3L48 2.1ZM68.2 67.4L65.1 64.3L63.3 62.5L63 59.5L62.3 54.3L65.7 52.9L68.6 55L71.4 58.2L70.8 63.5ZM4.5 54.4L2.9 56.5L.8 56.4L-.5 53.9L-1.1 51L.8 49.6L2.1 47.3L3.9 48.9L4 51.6ZM14.7 19.3L17.7 18L18.6 21L19 23.8L16.7 25.5L13.8 26.7L12.8 23.6L12.2 21.8L12.9 20ZM18.7 13.4L21.2 9.3L25 12.5L27.4 14.8L28.2 18.3L25.5 21.9L19.8 22.6L15.9 19.4L15.2 15.6ZM35.3 56.8L31 59.4L27.1 56.5L20.1 55.2L24.9 49.9L27.1 46.5L31.1 47L36.2 47.2L37.9 52.3ZM10.6 51.9L14.9 54L18.9 55.9L20.1 60.3L16.2 63.8L11.2 61.7L7.8 60.9L3.8 58L5.9 54ZM53.8 47.1L51.5 48.8L48.4 49.9L46.4 47.2L46.9 44.5L47.1 41.7L49.9 40.9L52.2 42.3L54.2 44.2Z"/></clipPath><clipPath id="g30"><path d="M5.7 47.7L4.1 49.9L2.7 53.3L.4 51.5L-1.2 48.4L.5 45.3L1.3 42.2L3.6 41.2L4.9 44.4ZM2.4 65.4L4.2 63.2L8 63.2L11 63.9L14.3 65.4L13.5 67.9L9.2 68L6.3 68.7L2.2 68ZM29.3 3.8L28 4.3L25.6 4.9L25 2.9L26.1 1.6L27 .2L29.3 -.3L30.6 1.2L31.7 3.1ZM45 18.6L44.9 17.5L45.7 16.7L46.8 15.9L48.5 16.2L49.1 17.9L47.6 18.8L47 20.5L45.7 19.5ZM58 56.1L60.2 55.5L61.7 56.1L62.8 57L63.9 58.6L62.8 60.2L60.9 61.6L59.5 59.7L57.2 58.6ZM65.3 3.4L63.6 3L64 1.8L64 .5L65.9 .3L67.6 .7L68.8 1.6L69.1 3.1L67.2 4.1Z"/></clipPath><clipPath id="g31"><path d="M.3 47.5L-.5 43.9L1.5 41.9L3.8 41.6L6 43.9L5.7 48.2L4.6 51.5L2.4 51.6L.7 50.3ZM8.7 69.5L6 67.8L3.5 66.8L4.8 65.2L6.5 64.2L9.1 63.1L13.1 63.7L13.3 66.2L12.1 68.3ZM30 .9L30.8 2.3L30 3.7L28.6 4.6L26.6 4.9L26.2 3.2L26 2L26.4 .5L28.2 .7ZM45.2 19.4L44.2 18.3L44.5 16.7L45.8 15.6L47.2 16.3L48.6 17L47.9 18.3L47.4 19.3L46.4 19.3ZM58.1 57.4L59.3 55.9L61 56L63.6 55L64.8 57.4L64.3 60L62 60.9L59.7 61.5L59.2 59ZM68.4 3L67.1 4.1L65 3.7L62.6 3.2L62.1 1.5L63.6 -0L66.1 .2L68 .5L68.6 1.7ZM8.9 12.1L10.1 13L9.9 14.3L9.2 15.1L8 16.2L6.1 15.8L5.4 14.4L5.4 12.8L6.9 11.5ZM27.8 11.4L28.5 10L30.1 10.2L31.7 10.3L31.5 11.8L32 13.4L30.7 14.5L29.3 13.5L28.4 12.8Z"/></clipPath><clipPath id="g32"><path d="M4.2 51.7L2 52.1L-.4 51.1L-1.1 47.1L.2 44L1.9 42L4.1 42.2L5.8 44.9L5.2 48.5ZM12.4 66.4L10.9 68L8 68.8L4.9 68.3L2.8 66.6L3.2 64.4L6.7 63.8L9.6 63.4L12.5 64.4ZM30.5 1.2L31.9 2.9L30.4 4.8L28.1 5.1L26.5 4.1L25.2 3L26.2 1.7L27 .5L28.8 .4ZM47.6 19.1L46.6 19.9L45.4 19.6L44.1 18.6L44.5 17L45.9 16.6L47.2 15.6L48.6 16.6L48.9 18.3ZM58.7 57.8L58.3 55.2L60.7 54.9L62.7 55.7L64.2 57.2L63.9 59.4L61.8 59.8L60.4 60.4L58.1 60ZM63.4 3.2L62.8 1.8L63.9 .6L65.8 -.2L68.1 .1L68.3 1.6L68 2.7L67.4 4.2L65.2 3.8ZM5.8 45.3L9 46.9L9.8 52L7.6 55.2L5.8 59.2L2.9 57.6L2.2 53.5L1 49.8L3.5 48.2ZM17.9 46.1L18.1 44.6L18.4 42.9L20.1 43.2L21.5 43.4L21.7 44.8L21.8 46.1L20.5 46.6L19.4 46.5Z"/></clipPath><clipPath id="g33"><path d="M.7 43.8L2.3 40.8L4.8 42L4.9 46.1L4.7 48.9L3.4 50.5L1.7 51.6L.6 49L-1.4 46.2ZM5.5 64.8L7.1 63.1L9.9 64L13.2 64.8L14.2 67.3L10.7 68.7L7.3 68.6L4.1 68L3.8 66ZM26 3.4L25.7 2.1L26.4 .8L28 .4L30.5 .1L31 2.1L30.3 3.6L29.2 5.4L26.7 5.4ZM45.6 17L46.5 16L47.6 16.7L49.1 17.5L47.8 18.8L47.4 20.5L45.9 19.5L45.3 18.7L44 17.6ZM60.6 61.4L58.3 60.5L58.8 58.1L59 56.5L60.3 55L62.1 55.8L63.8 56.8L63 58.6L62.6 60.6ZM64.2 .6L65.9 -0L68.1 .3L69.6 1.5L68.4 2.9L66.9 3.6L65.2 3.6L63.1 3.2L62.3 1.6ZM4.5 55.3L1.4 55L1.6 50.2L.9 45.3L4.2 44.5L6.9 44.5L9 47.5L9.9 52.3L7.4 55.6ZM29.5 31.1L28.6 32.6L27 32.1L25.7 31L25.6 29.3L26.8 28.2L28.3 27.5L29 29.1L29.5 29.9ZM54.3 14.3L53.4 13L53.7 11.8L54 10.9L54.9 9.8L56.2 10.4L57.6 11.4L56.2 12.6L55.8 13.9Z"/></clipPath><clipPath id="g34"><path d="M-.3 47.8L-.9 43.6L1.8 43.8L3.4 43L5.7 44.1L5.8 48.1L4.1 50.3L2.5 52.1L.2 51.5ZM3.8 65.9L5.4 64.6L7.1 62L10.3 63.9L11.6 65.3L13.3 67.3L10.5 68.9L7 68.6L2.6 68.4ZM28.6 .6L30.1 1.3L31.7 2.8L30.3 4.4L28.1 4.2L26.5 4.2L26.1 2.9L25.2 1.4L27.2 1ZM47.4 19.2L46.4 20.3L45.2 19.5L44.2 18.3L44.6 16.8L45.7 15.6L47 16.7L48 17.2L48.8 18.5ZM64.3 57.9L64 60.4L61.7 61.1L59.5 60.9L57.9 59.3L57.7 56.9L59.4 55.5L61.3 55.6L63.9 55.4ZM68 3.8L65.7 4.4L63.9 3.4L63.8 2.1L64.1 1.1L65.1 -.1L67 .5L68.5 1.2L69.8 2.6ZM30.5 .4L32.5 3L33.9 4.7L35.1 7.8L31.2 8.6L27.3 9.8L25 6.9L25.6 4.1L27.3 2ZM17.9 24.3L15.3 25.3L11.8 25.3L12.3 22.5L12.5 21.1L13.5 19.4L15.8 20L19 20L18.6 22.3ZM6.7 30.9L7.4 33.2L8.9 35.6L6.3 37.4L3.3 36.2L.7 35.9L.8 33.9L1.6 32.3L3.6 31.6ZM11.8 48.7L8.4 48.4L5.1 49.3L4.5 46.8L4.2 44.8L5.9 42.8L8.8 43.5L11.2 44.2L13.2 46.2ZM28.9 22.6L26.8 21.6L27.7 19.7L27.5 17.6L30 18.3L31.7 18.3L32.5 19.6L32.8 21.3L31.1 22.4ZM16.3 57.9L15.8 55.8L14.2 53.6L16.4 52.2L18.5 52.1L19.9 53.5L21.3 55L20 56.7L18.5 58.1Z"/></clipPath><clipPath id="g35"><path d="M5.5 47.4L4.8 50.8L2.8 52.7L.2 52.4L.2 48L-.8 44.4L1.5 43.4L3 43.7L4.4 44.8ZM10.2 62.7L12.6 64.5L13 66.6L11.8 68.9L7.8 69L5.2 67.8L2 66.5L3.1 64.2L6 62.3ZM29.6 3.8L28.3 4.7L26.1 4.8L26.1 3L26.2 1.8L26.5 -.1L28.9 -.4L29.6 1.5L31.7 2.7ZM44.8 18.5L44.1 17L45.3 15.8L46.8 16.6L48.3 16.7L49.1 18.1L48.1 19.4L46.7 19.4L45.6 19.3ZM59.8 56.1L61.4 55.3L62.9 56.3L63.4 57.9L63.1 59.6L61.8 61.7L60 60L57.7 59.4L57.5 56.9ZM69.2 1.5L69 3L67.3 4.1L65.4 3.3L64.3 2.7L62.3 1.7L64.5 .9L65.9 .2L68.1 .1ZM32.2 8.6L28.7 9.1L25.6 7.5L25.7 4.8L26.6 2.3L29.4 .4L32.1 2.5L35.4 3.8L35.5 7ZM11.1 22.1L12.9 20.7L14.4 19.7L16.8 19.6L18.2 21.1L19.7 23.2L16.6 24L14.2 25.8L11.1 24.5ZM2.8 31.1L5.2 31.9L7.4 32.7L7.6 34.6L6.3 36.3L3.8 37.8L.7 36.7L.6 34.3L1.3 32.7ZM8.6 43.2L11.3 45L12.7 46.6L12.9 48.7L12 50.7L9.8 51.7L7.8 50.3L5.9 48.4L6 45.3ZM29.2 18.6L30.8 17.1L33.2 17.3L35.4 18.4L35.4 20.5L33.3 21.3L32 21.8L29.4 22.5L29 20.4Z"/></clipPath><clipPath id="g40"><path d="M10.2 55.2L6.2 52L1.4 50.9L1.4 45.2L4.1 41L8.4 37.1L13.7 39.8L17 45.7L14.3 51.8ZM12.3 60.4L12.5 56.2L12.1 52.3L15.3 48.6L19.8 50.5L24 53.1L22.5 57.7L20 60.7L16.5 59.8ZM4.1 61.8L1.6 59.2L3.4 56.1L5.3 54L8.1 54.6L11.5 55.1L12 58.7L11.1 62.4L7.2 63.6ZM15.4 45.8L12.2 46.9L11.1 44.3L9.6 42.5L10.6 40L14 39.3L16.9 40.3L18.8 42.3L16.7 44.2ZM28.8 20.4L30.4 16.2L34.9 15.1L37.7 18.8L39.1 22.7L37.6 26.5L34.3 28.7L30.7 27.5L26.8 25ZM49.1 21.3L45.8 19.5L41 18.2L41.3 15.3L46.1 13.7L50.6 15.3L54.2 16L57.7 18.2L52.6 19.6ZM63.4 56L59.6 55.1L61.2 50.8L62.3 46.9L65.6 47.9L67.6 49.6L70.3 52.4L69.1 56.7L66.1 59.5ZM29.1 54.4L29.9 51.7L33 51.6L35.1 52.9L38.1 54.3L36.7 56.9L34.6 59L30.8 60L28.3 57.3ZM7.1 27.7L7.9 29.4L7.3 31.2L6.1 33.3L4.3 32.4L3.9 30.3L3.4 28.7L4.5 27.4L5.8 26.8ZM67.3 10.9L69 13.8L70.4 16.8L69.8 21.3L68.8 25.8L66.6 26L65.3 22L65.5 17.9L66.1 14.8Z"/></clipPath><clipPath id="g41"><path d="M5.3 54.1L1.1 50.9L3.2 45.6L5.3 42.8L8.6 37.3L13.1 40.8L14.6 46.2L15 52.5L10.3 56.2ZM18.3 51.6L22.4 52.5L21.6 56.5L22.2 61.5L17.4 62.4L13.6 60.6L12.3 57.1L13.6 54.3L15.2 51.9ZM11.1 59.7L9.3 62.5L6.3 61.1L3.3 60.9L1.4 57.8L4.5 55.7L6.6 54.6L9.6 53.9L12.8 56.2ZM17.3 44.3L15.9 46.6L12.5 46.5L8.7 45.4L8.5 42.4L11.1 40.5L13.9 39.9L16 41.1L19.6 42.1ZM37.9 22.2L37 25.3L34.6 27.6L31.7 26.5L27.9 25.2L29.3 21.2L29.8 16.4L34.1 16.5L38.7 17.1ZM43.5 16L47.1 15L51.5 13.9L53.9 16L55.5 18L52.5 19.5L49.1 20.2L44 20.6L43.8 18ZM63.3 45.6L66.7 47.6L69.5 49.7L68.3 53.5L68.5 58.4L64.8 57.5L61.3 57.4L60.7 53.1L61.2 49.4ZM37.8 54.6L36.8 57.3L34.1 58.5L31.4 58.2L30.2 56.2L28 53.9L30.3 51.7L33.3 51.7L36.6 51.8ZM5 27.6L6.6 26.1L7.4 28.3L7.8 30.1L7.1 32L5.4 33.2L4.1 31.4L2.5 30L4 28.3ZM66.3 12L68.1 13.8L69.2 15.9L70.3 19.3L69.1 22.7L67.6 25.3L65.3 25.4L64.7 20L64.6 15ZM11.4 26.5L8.6 23.7L7.1 21.7L5.6 18.5L7.1 14.9L10.5 12.4L13.4 15.8L15.2 19.4L14.1 23.6ZM26.9 44.5L28.8 40.9L32.6 41.1L35.6 41.3L37 43.9L38.9 47.7L35.5 50.2L31.6 50.3L28.8 48Z"/></clipPath><clipPath id="g42"><path d="M8.2 54.2L5.1 51.3L.4 48.8L2.9 43.8L5.6 39.9L9.8 40.8L14.5 42.3L15.1 48.2L12.2 52.5ZM15.5 52.6L18.5 50.5L21.9 52.7L23.7 56.7L20 59.1L17.5 62.6L13 61.5L9.8 57.8L12.1 53.6ZM6.1 53.6L9.1 54L9.8 56.9L12.4 59.8L9.5 62.1L6.3 62.6L4 60.7L3.7 58.1L3.1 54.9ZM12.7 45.8L10.3 44.7L9.3 42.4L10.5 40L13.9 40.3L16.1 41L19.7 42.2L17.9 44.6L15.9 46.7ZM38 17.8L38.2 22.2L37.4 25.7L35.1 30.1L31.1 27.7L28.6 24.8L27.3 20.5L30.4 17.2L34.1 16.6ZM47 21.7L44.3 19.3L41.2 17.3L43.7 15L48.2 13.9L52.3 15L57.5 16.2L55.7 18.9L52.5 21ZM65.7 56.7L63.1 57L60.9 54.5L59.7 50.3L61.9 46.2L65.8 45.1L69.5 47.5L70.8 52.3L68.9 56.4ZM37 56.1L36.2 59.4L32.3 59.6L29.8 57.6L26.9 55.2L29.3 52.5L31.8 50.2L34.5 52.5L36.2 53.9ZM7.8 29.5L7.6 31.7L5.9 32.1L4.4 31.9L3 30.6L3 28.4L4.5 27.3L5.8 26.9L7 27.9ZM64.8 16.9L65.8 12.8L67.6 13.7L69.6 13.2L70 17.9L70.5 23.4L68.4 25.7L65.9 27L64.5 22ZM8 31.7L3.4 32.4L0 26.9L3.2 21.3L4.9 13.8L10.2 16.8L13.1 21L15.5 26.7L11.1 29.8ZM30.2 34.2L34.9 32.4L37.8 36.3L40.9 39.6L39 43.7L35.1 44.5L30.9 46.3L29.3 42.1L26.7 37.9ZM17 58.6L12.6 59.6L8.8 56.7L5.9 51.6L7.6 45.2L13.3 45.9L17.3 46L22.1 49L21.8 55.7Z"/></clipPath><clipPath id="g43"><path d="M10.9 51.4L7.8 52.4L3.6 52.6L2.5 47.8L.2 41.2L6 39.6L11.5 37.1L12.1 44.5L13.4 48.4ZM22.1 52.6L23.7 56.8L20.5 59.7L17.4 62.7L12.8 61.7L9.8 57.7L11.1 53L14.3 49.7L19.1 48.9ZM8.7 63.9L5.6 61.2L2.6 60.2L2.2 56.8L5.2 55.5L7.4 52.3L9.8 55.1L12.7 57.4L11.3 60.9ZM17.4 46.9L13.5 46.2L9.8 45.9L9 43.2L11.6 41.6L12.9 39.3L16.8 38.9L17.2 42L17.3 43.8ZM32 14.2L36.5 16.5L38.8 20.2L38 24.2L37.5 29.7L32.4 30L27.9 27.9L26.6 22.7L27.9 17.5ZM47.7 13L51.5 15.5L55.9 16.4L54 18.5L52.8 21L47.8 20.3L42.3 20.1L43.1 17.4L43 14.8ZM63.2 55.5L60.6 53.8L59.6 49.1L63.5 48L66.6 46L68.5 49.6L70 53.3L68.8 57.6L65.2 57.6ZM35.6 59.2L31.7 60.2L29.4 57.5L28.5 54.9L28.8 51.7L32.4 51.6L36.2 50.6L36.2 54.1L36.5 56.2ZM4.7 31.4L3.4 30.5L4.1 28.9L4.4 27.3L5.9 25.8L7.5 27.3L7.9 29.4L7 31L6.1 33.1ZM66.2 11.8L68.1 13.5L69.5 15.1L71.1 19.3L69.1 22.4L67.8 26.5L66.3 22.7L65.6 19.7L64.5 15.2ZM.1 14.7L5.4 10.5L9.7 15.7L15.9 15.6L13.7 23.8L13.6 32.5L7.8 30.3L2.6 31.1L3.3 23ZM16.9 56.7L13.3 60.7L7.2 61.4L2.7 55.9L3.6 48.5L8.7 45.5L13 45.8L17.6 46.7L20.7 52ZM34.8 50.2L32.7 47.6L29.7 45.7L31.1 42.6L33.4 40L37.1 39.8L38.7 43L39.7 46L37.4 48.1Z"/></clipPath><clipPath id="g44"><path d="M15 51.5L10.4 54.3L6 53.9L2.3 51L2.7 46L2 39L7.9 38.9L13.1 39.6L16.3 45.1ZM23.5 58.9L19.8 61.7L15.9 60.4L11.4 60.1L10 55.5L11.8 51L16.4 50.1L21.3 49.7L24.1 54ZM12.4 55.3L10 58.7L9.9 62L6.7 62.1L4.7 60.4L3.6 58.4L2.4 54.9L6 54.6L9.1 53.2ZM10.4 39.5L14.2 40.6L17 40.6L18.9 42.5L17.1 44.5L15.7 47.1L12.7 45.4L9.8 44.6L10.2 42.4ZM28.9 28.4L27.9 23.5L28.1 19L32 17.9L34.9 18.4L39.6 18.7L41.1 24.1L38.1 28.7L33.4 29.4ZM51.8 15L56.1 16.2L53.6 18.3L52.2 20.2L47.9 20.8L44.6 19.4L39.8 17.6L41.8 14.6L47.3 13.1ZM62.4 58.1L61.2 54.2L61.8 51L62.2 46.4L66.1 45L69.2 48.1L71.1 52.5L68.3 55.9L66 59.5ZM34.5 51.2L37.5 52.6L36.9 55.5L35.8 57.8L33.1 59.8L30.1 58.1L28.5 55.8L27.9 52.6L31 50.7ZM7.7 30L6.5 31L5.5 31.8L4.1 31.6L2.5 30.1L3.6 28.1L4.7 26.7L6.3 26.8L8 27.7ZM69.7 17.7L69.5 21.4L68.4 24.6L66.8 23.1L64.4 22.5L64.9 17.3L66.1 14.2L67.6 11.5L70 11.7ZM2.9 25L3 18.6L6.8 14.3L12.6 13.3L12.3 22.7L16.4 29.7L11 32.9L6.9 34.1L2.1 32.4ZM10 55.9L5.9 52L6.3 44.7L12.7 43.4L16.7 46.7L21.1 49L21.5 55.1L18.2 60.2L12.2 63.5ZM37.8 46.8L37.9 51.2L34.5 54.3L29.8 54.7L27.2 50.9L25.6 47.1L27.2 42.5L31.8 40.7L36.8 41.9Z"/></clipPath><clipPath id="g45"><path d="M3.4 47.6L1.5 42L6.4 40.8L10.2 41L15.2 42.8L15.1 49L12.5 54.1L7.6 54L3.4 52.6ZM12.5 61.2L13 56.6L11.6 52.8L15.2 50.7L19 50.8L22.1 53.2L22.6 57.1L19.9 59.5L16.9 63.1ZM8.1 53.8L9.7 56.1L11.6 58.4L10.1 61.1L7.5 63.5L5 60.8L1.3 59.5L2.6 55.9L4.4 52.4ZM18 42.5L18.1 44.9L15.9 47.1L12.1 46.6L9.7 44.7L10.9 42.5L10.3 39.6L14.1 40.5L17.7 39.8ZM28.8 26.3L26.1 22L29 17.8L33 17.5L36.1 18.2L37.2 21.3L38 24.7L35.2 26.2L32.3 27.8ZM50.7 21.6L44.8 21.4L43.8 18.6L40.2 16.1L44.4 13.9L49.9 14.1L54.9 14.9L54.4 17.4L56.1 20.3ZM62 47.3L65.3 46.5L67.6 49.2L70.2 51.8L69.5 56.3L66.5 59L63.5 56.7L61.7 54.5L60 50.9ZM31 51L33.9 52.2L35.8 53.4L37.5 55.4L36.9 58.6L33.3 59.7L29.9 58.7L29.4 55.8L29.6 53.5ZM3 27.4L4.9 27L6.6 26.6L7.4 28.4L8 30.3L6.7 31.6L5.4 31.7L4.2 31.1L2.6 29.9ZM65.9 23L64.8 19.5L64.5 14.2L66.4 10.7L68.2 14L70.5 14.5L70.5 19.9L69.6 24.8L67.4 25.8ZM5.6 19.3L8.7 17.5L11.7 20L14.9 24.7L13.8 31.8L9.4 34.9L5.3 32.4L2.5 28.3L-0 21ZM23.2 56.4L18.7 62.5L11.8 62.9L8.7 56.6L7.4 51.6L10 47.8L13.1 43.5L19 43.1L22.1 49.1ZM38.9 50.5L38.9 55.1L34.5 57.3L29.6 56L29 51.2L27.8 46.9L31.7 44.7L35.5 44.9L38 47.3ZM47.9 55.3L46.7 51.2L51 51.2L54.4 50L58.4 52.2L56.9 56.4L55.8 60.6L51.5 60.1L48.2 58.6Z"/></clipPath><clipPath id="g50"><path d="M63.7 27.2L62.6 21L65.1 18.2L66.8 17.8L69.4 16.6L68.6 23.6L69.1 29.1L67.1 30.5L64.9 32.5ZM64.9 42.3L64.4 34.8L66.5 33.8L68.3 33.1L68.6 39.6L69 44.3L68.5 50.6L66.6 53.4L65 48.7ZM15 7.7L14 6.4L14.9 5.2L15.4 4.2L16.5 4.1L17.6 4.5L18.7 5.5L17.9 6.8L16.8 8ZM30.2 12L30.4 14.2L29.1 15.1L28.3 16.2L26.8 16.5L25.9 14.5L26.1 12.3L27.3 10.9L28.6 11.8ZM46.9 2.4L48.5 3L49.6 4.1L50.7 5.9L48.9 7.1L47.2 7.6L46.3 6.2L44.3 5.2L44.9 3.1ZM23.4 54.9L22 55.7L21.5 53.2L21.1 51.7L21.3 49.7L22.5 49.7L23.5 49.9L23.9 51.5L24.3 53.4ZM68.2 4.8L69.1 5.1L69.9 6.9L69.5 9.4L68.3 10.2L67 10.4L67 7.8L66.1 5.7L67 3.6ZM2.6 11.3L2.8 9.9L4.4 8.8L6.3 9.4L7.2 10.6L7.7 12L6 12.6L4.5 13.8L2.6 12.9ZM62.2 32.9L62.5 25.2L63.6 17.7L66 15.7L66.7 25.3L68.4 31.3L67 38.1L65.2 38.8L63.4 39.2Z"/></clipPath><clipPath id="g51"><path d="M66.3 31.2L64.6 29.2L64.2 24.7L63.4 18.4L65.7 16.9L67.7 16.4L68.6 21.3L68.8 25.5L68.3 30.4ZM68.4 31.2L70 36.8L69.8 44.7L68.8 51.1L66.8 50.3L64.7 50.2L63.7 43.1L65.5 38.4L66.4 34.2ZM18.6 5.8L18.2 7.4L16.4 7L14.7 7.6L14.3 6L14.8 4.9L15.3 3.5L17 3.4L18.3 4.4ZM26 14.9L27 13.2L27.5 12.1L28.6 10.8L29.6 12.2L29.9 13.8L29.3 15.1L28.6 17.1L27.4 15.7ZM49.2 3.5L49.6 5L50.1 7.1L47.9 7.2L46.6 6.7L45.9 5.6L45.5 4.3L45.8 2.2L47.8 3ZM21 51.6L21.5 49.9L22.6 49.3L24 49.2L24.5 51.4L24.4 53.7L23.3 55.1L22.2 54.1L20.7 53.9ZM68.1 4.2L68.9 5.1L69.2 6.7L69.3 8.7L68.3 9.3L67.3 10L66.6 8.4L66.4 6.2L67 4.4ZM3.7 12.5L1.7 11.7L2.6 10.2L4 9L6.1 9.1L7.3 10.3L6.9 11.6L6.5 12.7L5 13.2ZM7.5 2.3L8.2 4.6L8.1 7L5.6 6.9L3.6 8.3L2.8 6.2L2.5 4.4L2.7 2L5.1 2.4ZM8.9 50.9L10.7 51.9L12.9 52.3L12.6 54.5L11.4 55.6L10 55.7L7.9 56.6L7.5 54.5L7.7 52.7Z"/></clipPath><clipPath id="g52"><path d="M63 27.8L63.1 21.1L65.1 18.1L66.8 18.5L69 18L68.9 23.8L68.8 28.8L67.1 32L65 31.5ZM66.1 35L67.9 31.3L68.6 38.1L69.5 43L69.1 49.7L67.2 50.3L65 51.8L64.1 44.6L65.5 39.4ZM18 4.6L18.9 5.9L17.8 7.1L16.4 7.4L14.5 7.7L14.5 6L14.6 4.8L15.4 3.6L17.2 3.1ZM28.4 11.3L29.5 12.2L29.5 13.7L30 15.8L28.7 16.8L27.1 16.8L26.3 14.9L26 12.8L27 11.1ZM46.2 3.5L47.5 2.6L49.4 2.8L50.5 4.5L50.2 6.6L48.4 7.6L46.3 8.1L44.9 6.5L44.8 4.5ZM21.4 53.3L20.3 51.5L21.3 49.6L22.5 48L23.6 49.9L23.8 51.5L24.5 53.6L23.6 55.7L22 55.4ZM67.8 10.7L66.6 9.8L66.9 7.2L66.9 5.4L67.6 3.5L68.6 4.7L69.4 5.7L69.7 7.9L69 9.8ZM5.6 12.8L4.3 12.7L3.3 12L3.1 11L3.6 9.9L5.1 9.9L6.6 9.9L8.1 11L6.4 12ZM9.2 5.2L8.5 7L6.3 6.9L4.6 6.8L3 5.8L2.4 3.7L4.3 2.2L6.6 3L8.2 3.7ZM13.2 54.7L14.2 56.1L14.8 57.6L13.6 58.8L11.9 58.8L10 58.8L8.1 57.4L8.7 55.1L10.9 54ZM46.1 53.4L43.6 53.7L42.4 51.4L41.8 49.4L42.5 46.9L45.1 47.8L47.1 47.6L48.8 49.4L47.7 51.6Z"/></clipPath><clipPath id="g53"><path d="M69.3 22.3L69.5 28.1L67.8 32.2L65.4 33.7L63.2 29.7L63 22.8L64.8 18.9L66.3 13.7L67.7 19.9ZM66.8 54.1L65.4 48.2L63.9 43.2L64.8 36.7L66.4 34.2L68.3 31.6L69.4 37.8L68.7 43.5L68.4 49.1ZM15.9 7L14.9 6.6L13.9 5.5L14.7 4.2L16.1 3.6L17.8 3.6L19 4.9L18.1 6.3L17.1 7ZM27.2 13L27.5 11L28.6 12.2L29.7 12.5L29.4 14.1L29.6 16.1L28.2 16.9L27 15.8L26.8 14.2ZM45.6 5.6L45.1 4L46.2 2.4L48 2.8L49 3.8L50.4 5.1L49.9 7.2L47.7 6.8L45.8 7.6ZM21.2 53.2L21.4 51.6L21.8 50.2L22.7 49.5L23.6 50.1L24.4 51.6L24.3 53.8L23 54.3L21.7 55.5ZM69.1 6L69.8 8.1L68.9 9.8L67.9 9.2L66.9 9.1L66.1 7.2L66.8 5.3L67.6 3.3L68.5 5.1ZM2.6 10L4.4 9.6L6.1 9.3L7.7 10.3L7.2 11.7L6.4 12.9L4.9 12.7L2.7 13.2L2.5 11.5ZM4.7 27.4L6.6 27.6L7.6 28.8L8.8 30.2L8.1 32L6.4 33.3L4.1 32.9L2.8 30.9L2.9 28.7ZM11.7 54.1L11.5 55.7L10.6 57.1L8.6 57.6L6.9 56.6L5.7 55.1L6.3 53.3L8.4 52.6L10.3 52.9ZM70.2 7L67.9 9.5L65.4 10.3L62.8 9L63.4 5.1L64.2 2.9L65.4 .4L68 -.3L69.7 3ZM10.3 9L5.9 8.3L7.2 5L8.9 2.6L12.4 1.7L16.1 2.6L17.4 5.6L17.1 8.8L13.8 11ZM25.9 12.8L27.3 12L28.8 11.7L30.5 12.5L30.3 14.4L30.1 16.5L28 17.3L26.5 15.8L24.9 14.5Z"/></clipPath><clipPath id="g54"><path d="M64.6 25.8L64.5 22L64.7 15.7L67.2 13.5L69.3 17.7L69.5 24.1L68.5 28.6L67.1 33.7L64.9 31.5ZM67.8 31.5L68.9 37L69.3 42.7L68.3 46.6L67.3 52.6L65.9 47.6L63.7 45.2L65.2 39.1L66.1 34.8ZM18.4 7.4L16.6 8L15.3 7L14.4 6.1L14.5 4.9L15.3 3.8L16.8 3.5L18.5 4.1L18.7 5.7ZM29.5 14.2L29.5 16.1L28.1 16.7L27 15.6L26.4 14.2L27.1 12.9L27.7 11.6L29.1 10.8L29.7 12.7ZM45.6 5L46.2 3.8L47 1.7L48.7 3L49.9 4.2L50.1 6L48.8 7.3L47.1 7.2L45 7ZM24.7 50.6L24.3 53L23.6 54.7L22.3 55.5L21.3 53.9L21 52L20.8 49.5L22.2 48.8L23.3 49.9ZM67.8 9L66.6 9.3L66.5 7L66.6 4.6L67.8 4.7L68.6 5.1L69.7 5.8L69.3 8L68.7 9.6ZM3.9 9.6L5.4 9.8L7.3 10L7.4 11.4L7.4 13.1L5.2 12.7L3.3 13.4L2.1 12L2.2 10.3ZM5 33.2L3.7 31.5L3 29.6L4 27.8L5.9 26.9L7.2 28.5L8.8 29.4L8.2 31.1L7.1 32.6ZM24.1 52.9L26.6 50.2L31.4 50.9L35.1 53.2L33.7 56.3L30.8 58.2L27.2 58.5L24.9 56.8L21.1 55.1ZM64 7.1L63 4.7L63.2 1.1L65.8 1.6L67.5 1.8L70.2 3.3L69 6.9L67.3 8.8L65.1 10.3ZM17.7 8.6L13.2 8.5L10.5 9.5L6.8 8.5L7.3 5.4L9.8 3.9L12 2.6L14.5 3.5L18.3 5.1ZM30.3 14.6L30.2 17L27.8 16.2L25.5 16.6L24.5 14.4L24.7 11.7L27.1 10.7L29.2 11.2L30.4 12.8Z"/></clipPath><clipPath id="g55"><path d="M69.8 28.5L67.5 30.4L65.8 30.5L64.3 27.8L63.1 22.9L64.6 18.5L66.4 18.2L68.2 18L68.6 22.7ZM66.8 33.7L68 36.4L68.7 40.2L68.5 44.5L68.1 49.8L66.5 49.7L64.3 49L64 41.3L64.6 33.8ZM15.7 4L16.8 4.4L18.7 4.4L18.2 5.9L18 7.5L16.2 7.6L15.3 6.7L14.3 5.9L14.5 4.6ZM27.1 15.1L26.2 13.8L26.7 12.1L27.9 11.4L28.8 12.3L30.5 12.6L29.5 14.5L29.2 16.3L27.9 16.2ZM47.4 6.7L45.3 7.3L45.7 5.2L44.8 3.2L47 3.2L48.3 3.3L50.2 3.7L50.4 5.7L48.5 6.3ZM23.5 53.4L22.8 54.9L21.4 55.1L20.6 53L21 50.8L21.6 48.6L23.1 48.2L24.3 49.9L24.4 52.2ZM68.3 3.2L69.2 5L70 7L69.4 9.4L68.2 9.1L67.1 10.1L66.7 7.9L67.1 6.3L67.1 3.8ZM6 12.4L4.8 13.7L3.5 12.5L2.1 11.6L3.6 10.6L4.5 9.9L6.2 9.2L6.6 10.7L6.7 11.6ZM8.5 29.1L10.5 29.8L11.4 31.9L10.2 33.8L8.5 34.4L6.8 34.2L4.4 33.4L5.6 31.2L6.4 29.3ZM29.1 43.2L30.7 42.1L32.7 43.1L33.2 45.3L32.5 47.5L30.3 48.2L28.4 47.3L27.1 45.8L27.7 44ZM65.9 10.8L63.3 9.5L63.6 5.6L62.7 2.2L64.6 -.7L67.5 -.7L68.9 2.7L68.3 5.6L68 8.6Z"/></clipPath></defs>
</svg>
</body></html>
